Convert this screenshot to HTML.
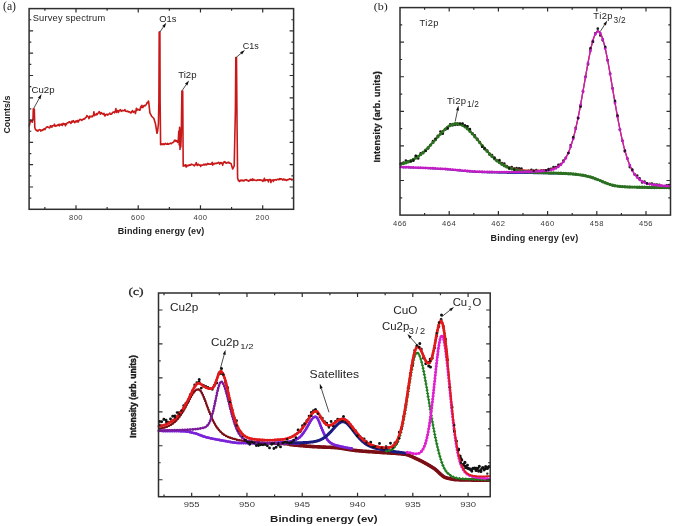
<!DOCTYPE html>
<html><head><meta charset="utf-8"><style>html,body{margin:0;padding:0;background:#fff}svg{display:block;filter:blur(0.35px)}</style></head>
<body><svg width="675" height="526" viewBox="0 0 675 526">
<rect width="675" height="526" fill="#fff"/>
<path d="M29.2,126.3 30.0,122.5 30.7,120.1 31.5,121.5 32.3,122.2 33.0,119.0 33.3,108.7 33.8,112.0 34.3,109.0 34.8,127.5 35.5,129.5 37.4,131.0 37.4,130.3 37.9,131.1 38.4,130.7 38.9,129.9 39.4,129.8 39.9,129.6 40.4,129.9 40.9,131.1 41.4,130.3 41.9,130.5 42.4,129.8 42.9,130.1 43.4,129.7 43.9,128.8 44.4,128.8 44.9,129.6 45.4,128.4 45.9,128.0 46.4,127.3 46.9,126.9 47.4,126.7 47.9,127.3 48.4,127.2 48.9,127.6 49.4,128.0 49.9,127.6 50.4,125.8 50.9,125.9 51.4,126.9 51.9,127.1 52.4,125.9 52.9,125.8 53.4,125.7 53.9,125.5 54.4,124.2 54.9,126.1 55.4,125.6 55.9,126.4 56.4,125.7 56.9,125.3 57.4,125.5 57.9,125.4 58.4,124.4 58.9,124.6 59.4,125.8 59.9,124.4 60.4,124.6 60.9,125.0 61.4,124.0 61.9,125.3 62.4,125.5 62.9,123.6 63.4,123.4 63.9,124.2 64.4,123.8 64.9,123.9 65.4,125.8 65.9,123.7 66.4,124.5 66.9,123.3 67.4,122.8 67.9,122.7 68.4,122.7 68.9,122.0 69.4,121.7 69.9,122.1 70.4,122.9 70.9,123.5 71.4,121.9 71.9,121.1 72.4,122.1 72.9,121.0 73.4,120.7 73.9,121.5 74.4,122.5 74.9,122.6 75.4,121.5 75.9,121.0 76.4,120.9 76.9,122.0 77.4,121.3 77.9,120.4 78.4,122.0 78.9,120.6 79.4,120.2 79.9,119.4 80.4,119.5 80.9,119.5 81.4,120.2 81.9,120.4 82.4,119.5 82.9,119.5 83.4,118.9 83.9,119.2 84.4,118.9 84.9,118.7 85.4,117.5 85.9,117.6 86.4,116.8 86.9,115.5 87.4,116.4 87.9,116.6 88.4,116.9 88.9,118.6 89.4,117.3 89.9,116.0 90.4,116.5 90.9,117.0 91.4,116.5 91.9,116.1 92.4,116.6 92.9,115.8 93.4,115.5 93.9,111.9 94.4,115.6 94.9,114.8 95.4,114.9 95.9,114.5 96.4,113.5 96.9,114.8 97.4,114.0 97.9,113.2 98.4,113.0 98.9,111.9 99.4,111.6 99.9,113.0 100.4,114.1 100.9,113.0 101.4,112.7 101.9,113.4 102.4,113.6 102.9,114.1 103.4,114.5 103.9,113.3 104.4,114.5 104.9,116.0 105.4,115.2 105.9,114.5 106.4,114.5 106.9,114.1 107.4,115.1 107.9,114.9 108.4,114.4 108.9,114.0 109.4,113.6 109.9,113.1 110.4,114.3 110.9,114.2 111.4,114.1 111.9,113.8 112.4,112.6 112.9,112.3 113.4,112.1 113.9,112.2 114.4,112.8 114.9,111.7 115.4,110.8 115.9,108.6 116.4,112.4 116.9,111.9 117.4,110.5 117.9,111.2 118.4,112.4 118.9,110.9 119.4,110.4 119.9,110.6 120.4,109.6 120.9,110.7 121.4,111.3 121.9,110.9 122.4,110.4 122.9,110.8 123.4,110.7 123.9,110.5 124.4,110.0 124.9,109.6 125.4,111.3 125.9,111.3 126.4,111.2 126.9,111.5 127.4,111.2 127.9,111.1 128.4,112.0 128.9,112.0 129.4,111.7 129.9,111.9 130.4,112.8 130.9,112.9 131.4,112.4 131.9,111.5 132.4,110.5 132.9,111.5 133.4,112.3 133.9,111.4 134.4,111.2 134.9,111.4 135.4,113.5 135.9,111.2 136.4,108.2 136.9,110.5 137.4,109.4 137.9,109.3 138.4,109.8 138.9,109.6 139.4,110.2 139.9,110.2 140.4,108.1 140.9,106.4 141.4,107.6 141.9,105.4 142.4,106.9 142.9,107.6 143.4,106.1 143.9,105.8 144.4,105.4 144.9,106.0 145.4,105.4 145.9,105.0 146.4,104.1 146.9,102.8 147.4,102.9 147.9,102.4 148.4,101.1 148.7,102.0 149.9,112.8 151.6,116.2 153.9,118.5 155.5,124.0 157.0,133.3 157.6,131.0 158.4,124.2 158.9,100.3 159.2,32.0 159.9,32.0 160.1,100.0 160.6,143.3 160.6,144.7 161.1,144.1 161.6,143.8 162.1,144.6 162.6,144.4 163.1,143.7 163.6,144.1 164.1,144.6 164.6,144.2 165.1,143.5 165.6,143.4 166.1,144.2 166.6,144.2 167.1,144.0 167.6,143.4 168.1,144.4 168.6,144.1 169.1,144.0 169.6,143.6 170.1,143.4 170.6,143.1 171.1,143.6 171.6,143.6 172.1,142.9 172.6,142.6 173.1,142.4 173.6,142.3 174.1,141.1 174.6,140.2 175.1,140.1 175.6,141.2 176.1,141.3 176.6,140.6 177.1,141.2 177.6,142.3 178.3,140.0 178.8,131.0 179.2,145.0 179.6,127.3 180.0,149.5 180.4,129.0 180.8,147.0 181.3,134.0 181.9,91.0 182.7,91.0 183.2,166.2 183.2,166.1 183.7,165.8 184.2,165.6 184.7,166.0 185.2,164.8 185.7,164.7 186.2,167.1 186.7,165.5 187.2,165.8 187.7,166.0 188.2,165.1 188.7,165.2 189.2,165.4 189.7,164.9 190.2,165.3 190.7,165.0 191.2,164.2 191.7,164.5 192.2,164.5 192.7,164.5 193.2,165.1 193.7,165.3 194.2,165.8 194.7,165.4 195.2,164.4 195.7,164.4 196.2,162.6 196.7,164.3 197.2,165.5 197.7,164.9 198.2,164.1 198.7,164.7 199.2,165.1 199.7,165.0 200.2,165.0 200.7,166.4 201.2,165.0 201.7,165.3 202.2,165.2 202.7,165.0 203.2,165.0 203.7,164.2 204.2,164.2 204.7,165.0 205.2,164.6 205.7,164.1 206.2,164.8 206.7,164.9 207.2,164.0 207.7,163.4 208.2,163.8 208.7,164.2 209.2,164.0 209.7,164.1 210.2,164.0 210.7,164.3 211.2,164.0 211.7,163.9 212.2,162.3 212.7,165.2 213.2,164.2 213.7,163.5 214.2,163.4 214.7,163.9 215.2,163.5 215.7,163.3 216.2,163.6 216.7,163.3 217.2,163.0 217.7,163.1 218.2,162.6 218.7,162.4 219.2,162.9 219.7,164.1 220.2,163.3 220.7,162.5 221.2,162.6 221.7,163.3 222.2,163.5 222.7,165.2 223.2,162.6 223.7,162.9 224.2,161.7 224.7,162.2 225.2,161.9 225.7,163.0 226.2,163.1 226.7,163.1 227.2,162.6 227.7,162.7 228.2,162.4 228.7,162.1 229.2,163.2 229.7,163.1 231.0,163.5 232.7,168.9 234.2,166.0 235.4,110.0 235.8,57.6 236.5,57.6 237.0,120.0 237.6,178.0 238.4,180.6 238.4,180.1 238.9,180.3 239.4,181.4 239.9,181.5 240.4,180.5 240.9,180.0 241.4,180.2 241.9,180.8 242.4,180.5 242.9,180.1 243.4,180.7 243.9,181.0 244.4,180.6 244.9,180.0 245.4,179.7 245.9,179.9 246.4,179.6 246.9,180.2 247.4,180.4 247.9,180.5 248.4,181.2 248.9,181.2 249.4,180.3 249.9,180.4 250.4,179.4 250.9,180.4 251.4,179.9 251.9,180.1 252.4,178.9 252.9,180.5 253.4,179.9 253.9,179.4 254.4,180.0 254.9,180.2 255.4,180.3 255.9,180.4 256.4,180.3 256.9,180.6 257.4,179.8 257.9,179.8 258.4,180.0 258.9,180.1 259.4,180.3 259.9,179.9 260.4,179.8 260.9,180.3 261.4,180.5 261.9,180.0 262.4,180.7 262.9,181.4 263.4,180.1 263.9,179.9 264.4,178.3 264.9,180.9 265.4,180.3 265.9,180.0 266.4,179.8 266.9,180.1 267.4,179.8 267.9,180.1 268.4,181.9 268.9,179.7 269.4,179.5 269.9,179.7 270.4,179.6 270.9,182.5 271.4,180.2 271.9,180.3 272.4,180.1 272.9,180.1 273.4,181.4 273.9,179.8 274.4,179.7 274.9,180.0 275.4,179.6 275.9,180.0 276.4,180.1 276.9,179.5 277.4,179.4 277.9,179.4 278.4,179.6 278.9,179.5 279.4,178.6 279.9,179.6 280.4,178.7 280.9,178.9 281.4,178.8 281.9,179.1 282.4,179.9 282.9,180.0 283.4,179.2 283.9,179.0 284.4,179.9 284.9,180.0 285.4,179.5 285.9,179.8 286.4,180.5 286.9,180.4 287.4,179.7 287.9,179.5 288.4,179.7 288.9,179.3 289.4,178.8 289.9,179.1 290.4,179.0 290.9,179.0 291.4,179.3 291.9,180.1 292.4,179.5 292.9,179.0" fill="none" stroke="#c81818" stroke-width="1.6" stroke-linejoin="round"/>
<rect x="29.1" y="8.6" width="264.5" height="200.70000000000002" fill="none" stroke="#2e2e2e" stroke-width="1.5"/>
<path d="M262.70,209.3 v-4.00 M262.70,8.6 v4.00 M231.59,209.3 v-2.20 M231.59,8.6 v2.20 M200.47,209.3 v-4.00 M200.47,8.6 v4.00 M169.35,209.3 v-2.20 M169.35,8.6 v2.20 M138.23,209.3 v-4.00 M138.23,8.6 v4.00 M107.12,209.3 v-2.20 M107.12,8.6 v2.20 M76.00,209.3 v-4.00 M76.00,8.6 v4.00 M44.88,209.3 v-2.20 M44.88,8.6 v2.20 M29.1,19.75 h2.20 M293.6,19.75 h-2.20 M29.1,30.90 h4.00 M293.6,30.90 h-4.00 M29.1,42.05 h2.20 M293.6,42.05 h-2.20 M29.1,53.20 h4.00 M293.6,53.20 h-4.00 M29.1,64.35 h2.20 M293.6,64.35 h-2.20 M29.1,75.50 h4.00 M293.6,75.50 h-4.00 M29.1,86.65 h2.20 M293.6,86.65 h-2.20 M29.1,97.80 h4.00 M293.6,97.80 h-4.00 M29.1,108.95 h2.20 M293.6,108.95 h-2.20 M29.1,120.10 h4.00 M293.6,120.10 h-4.00 M29.1,131.25 h2.20 M293.6,131.25 h-2.20 M29.1,142.40 h4.00 M293.6,142.40 h-4.00 M29.1,153.55 h2.20 M293.6,153.55 h-2.20 M29.1,164.70 h4.00 M293.6,164.70 h-4.00 M29.1,175.85 h2.20 M293.6,175.85 h-2.20 M29.1,187.00 h4.00 M293.6,187.00 h-4.00 M29.1,198.15 h2.20 M293.6,198.15 h-2.20" stroke="#2e2e2e" stroke-width="1.2" fill="none"/>
<text x="76.0" y="219.5" font-family="Liberation Sans, sans-serif" font-size="7.6" font-weight="normal" text-anchor="middle" fill="#3a3a3a" letter-spacing="0.5">800</text>
<text x="138.2" y="219.5" font-family="Liberation Sans, sans-serif" font-size="7.6" font-weight="normal" text-anchor="middle" fill="#3a3a3a" letter-spacing="0.5">600</text>
<text x="200.5" y="219.5" font-family="Liberation Sans, sans-serif" font-size="7.6" font-weight="normal" text-anchor="middle" fill="#3a3a3a" letter-spacing="0.5">400</text>
<text x="262.7" y="219.5" font-family="Liberation Sans, sans-serif" font-size="7.6" font-weight="normal" text-anchor="middle" fill="#3a3a3a" letter-spacing="0.5">200</text>
<text x="3.0" y="9.8" font-family="Liberation Serif, sans-serif" font-size="11.7" font-weight="normal" text-anchor="start" fill="#1e1e1e">(a)</text>
<text x="32.7" y="20.7" font-family="Liberation Sans, sans-serif" font-size="9.3" font-weight="normal" text-anchor="start" fill="#1e1e1e" letter-spacing="0.2">Survey spectrum</text>
<text x="31.6" y="92.5" font-family="Liberation Sans, sans-serif" font-size="9.6" font-weight="normal" text-anchor="start" fill="#1e1e1e">Cu2p</text>
<text x="159.2" y="21.6" font-family="Liberation Sans, sans-serif" font-size="9.4" font-weight="normal" text-anchor="start" fill="#1e1e1e">O1s</text>
<text x="178.2" y="78.2" font-family="Liberation Sans, sans-serif" font-size="9.6" font-weight="normal" text-anchor="start" fill="#1e1e1e">Ti2p</text>
<text x="242.8" y="48.9" font-family="Liberation Sans, sans-serif" font-size="9.0" font-weight="normal" text-anchor="start" fill="#1e1e1e">C1s</text>
<path d="M33.80,108.20 L39.18,98.48" stroke="#111" stroke-width="0.75" fill="none"/>
<path d="M41.60,94.10 L40.49,99.20 L37.87,97.75 Z" fill="#111"/>
<path d="M159.90,32.00 L163.44,26.90" stroke="#111" stroke-width="0.75" fill="none"/>
<path d="M166.30,22.80 L164.68,27.76 L162.21,26.05 Z" fill="#111"/>
<path d="M182.20,90.50 L186.19,84.63" stroke="#111" stroke-width="0.75" fill="none"/>
<path d="M189.00,80.50 L187.43,85.48 L184.95,83.79 Z" fill="#111"/>
<path d="M236.40,57.20 L241.06,53.31" stroke="#111" stroke-width="0.75" fill="none"/>
<path d="M244.90,50.10 L242.02,54.46 L240.10,52.15 Z" fill="#111"/>
<text x="0" y="0" transform="translate(10.4 114.6) rotate(-90)" font-family="Liberation Sans, sans-serif" font-size="8.9" font-weight="bold" text-anchor="middle" fill="#1e1e1e">Counts/s</text>
<text x="161.1" y="234.0" font-family="Liberation Sans, sans-serif" font-size="9.0" font-weight="bold" text-anchor="middle" fill="#1e1e1e" letter-spacing="0.15">Binding energy (ev)</text>
<path d="M401.0,164.1h0M403.5,162.7h0M405.9,160.5h0M408.4,161.3h0M410.8,161.2h0M413.3,160.7h0M415.8,155.9h0M418.2,158.5h0M420.7,153.3h0M423.1,153.1h0M425.6,151.0h0M428.1,148.4h0M430.5,145.0h0M433.0,141.1h0M435.4,139.9h0M437.9,135.8h0M440.4,131.5h0M442.8,133.7h0M445.3,129.4h0M447.7,128.4h0M450.2,124.3h0M452.7,125.3h0M455.1,124.8h0M457.6,124.7h0M460.0,123.8h0M462.5,123.8h0M465.0,126.2h0M467.4,126.4h0M469.9,129.2h0M472.3,133.4h0M474.8,135.3h0M477.3,138.9h0M479.7,142.0h0M482.2,146.7h0M484.6,149.1h0M487.1,150.6h0M489.6,154.4h0M492.0,155.0h0M494.5,157.7h0M496.9,160.8h0M499.4,160.7h0M501.9,163.2h0M504.3,163.6h0M506.8,166.1h0M509.2,168.4h0M511.7,167.1h0M514.2,168.7h0M516.6,168.2h0M519.1,168.4h0M521.5,168.7h0M524.0,171.4h0M526.5,172.4h0M528.9,170.8h0M531.4,169.8h0M533.8,171.1h0M536.3,170.2h0M538.8,171.1h0M541.2,170.6h0M543.7,170.4h0M546.1,170.5h0M548.6,169.1h0M551.1,168.8h0M553.5,167.0h0M556.0,167.2h0M558.4,164.9h0M560.9,164.1h0M563.4,160.6h0M565.8,157.8h0M568.3,153.1h0M570.7,145.0h0M573.2,137.5h0M575.7,127.8h0M578.1,118.0h0M580.6,106.2h0M583.0,91.7h0M585.5,76.5h0M588.0,64.4h0M590.4,49.3h0M592.9,41.9h0M595.3,33.3h0M597.8,28.7h0M600.3,35.4h0M602.7,40.3h0M605.2,47.3h0M607.6,60.2h0M610.1,73.6h0M612.6,88.4h0M615.0,101.4h0M617.5,115.9h0M619.9,129.7h0M622.4,140.8h0M624.9,151.4h0M627.3,158.5h0M629.8,167.1h0M632.2,169.6h0M634.7,174.5h0M637.2,175.5h0M639.6,178.4h0M642.1,182.4h0M644.5,181.6h0M647.0,183.8h0M649.5,183.9h0M651.9,183.5h0M654.4,184.5h0M656.8,184.6h0M659.3,184.9h0M661.8,186.2h0M664.2,186.3h0M666.7,185.4h0M669.1,185.2h0" stroke="#111" stroke-width="2.70" stroke-linecap="round" fill="none" opacity="0.95"/>
<path d="M400.5,163.9 400.8,163.8 401.0,163.8 401.2,163.7 401.5,163.7 401.8,163.6 402.0,163.5 402.2,163.5 402.5,163.4 402.8,163.4 403.0,163.3 403.2,163.2 403.5,163.2 403.8,163.1 404.0,163.0 404.2,163.0 404.5,162.9 404.8,162.8 405.0,162.7 405.2,162.7 405.5,162.6 405.8,162.5 406.0,162.4 406.2,162.3 406.5,162.2 406.8,162.2 407.0,162.1 407.2,162.0 407.5,161.9 407.8,161.8 408.0,161.7 408.2,161.6 408.5,161.5 408.8,161.4 409.0,161.3 409.2,161.2 409.5,161.1 409.8,161.0 410.0,160.9 410.2,160.8 410.5,160.7 410.8,160.5 411.0,160.4 411.2,160.3 411.5,160.2 411.8,160.1 412.0,159.9 412.2,159.8 412.5,159.7 412.8,159.6 413.0,159.4 413.2,159.3 413.5,159.2 413.8,159.0 414.0,158.9 414.2,158.7 414.5,158.6 414.8,158.4 415.0,158.3 415.2,158.1 415.5,158.0 415.8,157.8 416.0,157.7 416.2,157.5 416.5,157.3 416.8,157.2 417.0,157.0 417.2,156.8 417.5,156.7 417.8,156.5 418.0,156.3 418.2,156.2 418.5,156.0 418.8,155.8 419.0,155.6 419.2,155.4 419.5,155.2 419.8,155.0 420.0,154.8 420.2,154.6 420.5,154.4 420.8,154.2 421.0,154.0 421.2,153.8 421.5,153.6 421.8,153.4 422.0,153.2 422.2,153.0 422.5,152.8 422.8,152.6 423.0,152.3 423.2,152.1 423.5,151.9 423.8,151.7 424.0,151.4 424.2,151.2 424.5,151.0 424.8,150.7 425.0,150.5 425.2,150.3 425.5,150.0 425.8,149.8 426.0,149.5 426.2,149.3 426.5,149.1 426.8,148.8 427.0,148.6 427.2,148.3 427.5,148.0 427.8,147.8 428.0,147.5 428.2,147.3 428.5,147.0 428.8,146.7 429.0,146.5 429.2,146.2 429.5,145.9 429.8,145.7 430.0,145.4 430.2,145.1 430.5,144.9 430.8,144.6 431.0,144.3 431.2,144.0 431.5,143.8 431.8,143.5 432.0,143.2 432.2,142.9 432.5,142.6 432.8,142.4 433.0,142.1 433.2,141.8 433.5,141.5 433.8,141.2 434.0,140.9 434.2,140.7 434.5,140.4 434.8,140.1 435.0,139.8 435.2,139.5 435.5,139.2 435.8,138.9 436.0,138.7 436.2,138.4 436.5,138.1 436.8,137.8 437.0,137.5 437.2,137.2 437.5,136.9 437.8,136.7 438.0,136.4 438.2,136.1 438.5,135.8 438.8,135.5 439.0,135.2 439.2,135.0 439.5,134.7 439.8,134.4 440.0,134.1 440.2,133.9 440.5,133.6 440.8,133.3 441.0,133.0 441.2,132.8 441.5,132.5 441.8,132.2 442.0,132.0 442.2,131.7 442.5,131.5 442.8,131.2 443.0,131.0 443.2,130.7 443.5,130.5 443.8,130.2 444.0,130.0 444.2,129.7 444.5,129.5 444.8,129.3 445.0,129.0 445.2,128.8 445.5,128.6 445.8,128.4 446.0,128.2 446.2,127.9 446.5,127.7 446.8,127.5 447.0,127.3 447.2,127.1 447.5,126.9 447.8,126.8 448.0,126.6 448.2,126.4 448.5,126.2 448.8,126.0 449.0,125.9 449.2,125.7 449.5,125.6 449.8,125.4 450.0,125.3 450.2,125.1 450.5,125.0 450.8,124.8 451.0,124.7 451.2,124.6 451.5,124.5 451.8,124.4 452.0,124.2 452.2,124.1 452.5,124.0 452.8,123.9 453.0,123.9 453.2,123.8 453.5,123.7 453.8,123.6 454.0,123.6 454.2,123.5 454.5,123.5 454.8,123.4 455.0,123.4 455.2,123.3 455.5,123.3 455.8,123.3 456.0,123.3 456.2,123.3 456.5,123.3 456.8,123.3 457.0,123.3 457.2,123.3 457.5,123.3 457.8,123.3 458.0,123.3 458.2,123.4 458.5,123.4 458.8,123.5 459.0,123.5 459.2,123.6 459.5,123.6 459.8,123.7 460.0,123.8 460.2,123.9 460.5,124.0 460.8,124.0 461.0,124.1 461.2,124.2 461.5,124.4 461.8,124.5 462.0,124.6 462.2,124.7 462.5,124.8 462.8,125.0 463.0,125.1 463.2,125.3 463.5,125.4 463.8,125.6 464.0,125.7 464.2,125.9 464.5,126.1 464.8,126.2 465.0,126.4 465.2,126.6 465.5,126.8 465.8,127.0 466.0,127.2 466.2,127.4 466.5,127.6 466.8,127.8 467.0,128.0 467.2,128.2 467.5,128.4 467.8,128.7 468.0,128.9 468.2,129.1 468.5,129.3 468.8,129.6 469.0,129.8 469.2,130.1 469.5,130.3 469.8,130.6 470.0,130.8 470.2,131.1 470.5,131.3 470.8,131.6 471.0,131.9 471.2,132.1 471.5,132.4 471.8,132.7 472.0,132.9 472.2,133.2 472.5,133.5 472.8,133.8 473.0,134.1 473.2,134.3 473.5,134.6 473.8,134.9 474.0,135.2 474.2,135.5 474.5,135.8 474.8,136.1 475.0,136.4 475.2,136.7 475.5,137.0 475.8,137.3 476.0,137.6 476.2,137.9 476.5,138.2 476.8,138.5 477.0,138.8 477.2,139.1 477.5,139.4 477.8,139.7 478.0,140.0 478.2,140.3 478.5,140.6 478.8,140.9 479.0,141.2 479.2,141.5 479.5,141.8 479.8,142.1 480.0,142.4 480.2,142.7 480.5,143.0 480.8,143.3 481.0,143.6 481.2,143.9 481.5,144.2 481.8,144.5 482.0,144.8 482.2,145.1 482.5,145.4 482.8,145.7 483.0,146.0 483.2,146.3 483.5,146.6 483.8,146.9 484.0,147.2 484.2,147.4 484.5,147.7 484.8,148.0 485.0,148.3 485.2,148.6 485.5,148.9 485.8,149.2 486.0,149.5 486.2,149.7 486.5,150.0 486.8,150.3 487.0,150.6 487.2,150.8 487.5,151.1 487.8,151.4 488.0,151.7 488.2,151.9 488.5,152.2 488.8,152.5 489.0,152.7 489.2,153.0 489.5,153.2 489.8,153.5 490.0,153.8 490.2,154.0 490.5,154.3 490.8,154.5 491.0,154.8 491.2,155.0 491.5,155.2 491.8,155.5 492.0,155.7 492.2,156.0 492.5,156.2 492.8,156.4 493.0,156.7 493.2,156.9 493.5,157.1 493.8,157.3 494.0,157.6 494.2,157.8 494.5,158.0 494.8,158.2 495.0,158.4 495.2,158.6 495.5,158.9 495.8,159.1 496.0,159.3 496.2,159.5 496.5,159.7 496.8,159.9 497.0,160.1 497.2,160.3 497.5,160.4 497.8,160.6 498.0,160.8 498.2,161.0 498.5,161.2 498.8,161.4 499.0,161.5 499.2,161.7 499.5,161.9 499.8,162.1 500.0,162.2 500.2,162.4 500.5,162.6 500.8,162.7 501.0,162.9 501.2,163.0 501.5,163.2 501.8,163.3 502.0,163.5 502.2,163.6 502.5,163.8 502.8,163.9 503.0,164.1 503.2,164.2 503.5,164.4 503.8,164.5 504.0,164.6 504.2,164.8 504.5,164.9 504.8,165.0 505.0,165.1 505.2,165.3 505.5,165.4 505.8,165.5 506.0,165.6 506.2,165.7 506.5,165.8 506.8,166.0 507.0,166.1 507.2,166.2 507.5,166.3 507.8,166.4 508.0,166.5 508.2,166.6 508.5,166.7 508.8,166.8 509.0,166.9 509.2,167.0 509.5,167.1 509.8,167.1 510.0,167.2 510.2,167.3 510.5,167.4 510.8,167.5 511.0,167.6 511.2,167.7 511.5,167.7 511.8,167.8 512.0,167.9 512.2,168.0 512.5,168.0 512.8,168.1 513.0,168.2 513.2,168.2 513.5,168.3 513.8,168.4 514.0,168.4 514.2,168.5 514.5,168.6 514.8,168.6 515.0,168.7 515.2,168.7 515.5,168.8 515.8,168.8 516.0,168.9 516.2,168.9 516.5,169.0 516.8,169.0 517.0,169.1 517.2,169.1 517.5,169.2 517.8,169.2 518.0,169.3 518.2,169.3 518.5,169.4 518.8,169.4 519.0,169.4 519.2,169.5 519.5,169.5 519.8,169.6 520.0,169.6 520.2,169.6 520.5,169.7 520.8,169.7 521.0,169.7 521.2,169.8 521.5,169.8 521.8,169.8 522.0,169.8 522.2,169.9 522.5,169.9 522.8,169.9 523.0,170.0 523.2,170.0 523.5,170.0 523.8,170.0 524.0,170.0 524.2,170.1 524.5,170.1 524.8,170.1 525.0,170.1 525.2,170.1 525.5,170.2 525.8,170.2 526.0,170.2 526.2,170.2 526.5,170.2 526.8,170.2 527.0,170.3 527.2,170.3 527.5,170.3 527.8,170.3 528.0,170.3 528.2,170.3 528.5,170.3 528.8,170.3 529.0,170.4 529.2,170.4 529.5,170.4 529.8,170.4 530.0,170.4 530.2,170.4 530.5,170.4 530.8,170.4 531.0,170.4 531.2,170.4 531.5,170.4 531.8,170.4 532.0,170.4 532.2,170.4 532.5,170.5 532.8,170.5 533.0,170.5 533.2,170.5 533.5,170.5 533.8,170.5 534.0,170.5 534.2,170.5 534.5,170.5 534.8,170.5 535.0,170.5 535.2,170.5 535.5,170.5 535.8,170.5 536.0,170.5 536.2,170.5 536.5,170.5 536.8,170.5 537.0,170.4 537.2,170.4 537.5,170.4 537.8,170.4 538.0,170.4 538.2,170.4 538.5,170.4 538.8,170.4 539.0,170.4 539.2,170.4 539.5,170.4 539.8,170.4 540.0,170.4 540.2,170.4 540.5,170.4 540.8,170.3 541.0,170.3 541.2,170.3 541.5,170.3 541.8,170.3 542.0,170.3 542.2,170.3 542.5,170.3 542.8,170.2 543.0,170.2 543.2,170.2 543.5,170.2 543.8,170.2 544.0,170.2 544.2,170.1 544.5,170.1 544.8,170.1 545.0,170.1 545.2,170.1 545.5,170.0 545.8,170.0 546.0,170.0 546.2,170.0 546.5,169.9 546.8,169.9 547.0,169.9 547.2,169.8 547.5,169.8 547.8,169.8 548.0,169.7 548.2,169.7 548.5,169.7 548.8,169.6 549.0,169.6 549.2,169.6 549.5,169.5 549.8,169.5 550.0,169.4 550.2,169.4 550.5,169.3 550.8,169.3 551.0,169.2 551.2,169.2 551.5,169.1 551.8,169.0 552.0,169.0 552.2,168.9 552.5,168.8 552.8,168.8 553.0,168.7 553.2,168.6 553.5,168.5 553.8,168.5 554.0,168.4 554.2,168.3 554.5,168.2 554.8,168.1 555.0,168.0 555.2,167.9 555.5,167.8 555.8,167.7 556.0,167.6 556.2,167.4 556.5,167.3 556.8,167.2 557.0,167.1 557.2,166.9 557.5,166.8 557.8,166.6 558.0,166.5 558.2,166.3 558.5,166.1 558.8,166.0 559.0,165.8 559.2,165.6 559.5,165.4 559.8,165.2 560.0,165.0 560.2,164.8 560.5,164.6 560.8,164.3 561.0,164.1 561.2,163.9 561.5,163.6 561.8,163.3 562.0,163.1 562.2,162.8 562.5,162.5 562.8,162.2 563.0,161.9 563.2,161.6 563.5,161.2 563.8,160.9 564.0,160.6 564.2,160.2 564.5,159.8 564.8,159.4 565.0,159.0 565.2,158.6 565.5,158.2 565.8,157.8 566.0,157.4 566.2,156.9 566.5,156.4 566.8,155.9 567.0,155.4 567.2,154.9 567.5,154.4 567.8,153.9 568.0,153.3 568.2,152.8 568.5,152.2 568.8,151.6 569.0,151.0 569.2,150.3 569.5,149.7 569.8,149.0 570.0,148.3 570.2,147.7 570.5,146.9 570.8,146.2 571.0,145.5 571.2,144.7 571.5,144.0 571.8,143.2 572.0,142.4 572.2,141.5 572.5,140.7 572.8,139.8 573.0,139.0 573.2,138.1 573.5,137.2 573.8,136.2 574.0,135.3 574.2,134.3 574.5,133.4 574.8,132.4 575.0,131.4 575.2,130.3 575.5,129.3 575.8,128.2 576.0,127.1 576.2,126.0 576.5,124.9 576.8,123.8 577.0,122.7 577.2,121.5 577.5,120.3 577.8,119.1 578.0,117.9 578.2,116.7 578.5,115.5 578.8,114.2 579.0,113.0 579.2,111.7 579.5,110.4 579.8,109.1 580.0,107.8 580.2,106.4 580.5,105.1 580.8,103.7 581.0,102.4 581.2,101.0 581.5,99.6 581.8,98.2 582.0,96.8 582.2,95.4 582.5,94.0 582.8,92.6 583.0,91.2 583.2,89.7 583.5,88.3 583.8,86.9 584.0,85.4 584.2,84.0 584.5,82.6 584.8,81.1 585.0,79.7 585.2,78.3 585.5,76.8 585.8,75.4 586.0,74.0 586.2,72.6 586.5,71.1 586.8,69.7 587.0,68.4 587.2,67.0 587.5,65.6 587.8,64.2 588.0,62.9 588.2,61.5 588.5,60.2 588.8,58.9 589.0,57.6 589.2,56.4 589.5,55.1 589.8,53.9 590.0,52.7 590.2,51.5 590.5,50.3 590.8,49.1 591.0,48.0 591.2,46.9 591.5,45.9 591.8,44.8 592.0,43.8 592.2,42.9 592.5,41.9 592.8,41.0 593.0,40.2 593.2,39.3 593.5,38.5 593.8,37.8 594.0,37.0 594.2,36.4 594.5,35.7 594.8,35.1 595.0,34.5 595.2,34.0 595.5,33.6 595.8,33.1 596.0,32.7 596.2,32.4 596.5,32.1 596.8,31.8 597.0,31.6 597.2,31.4 597.5,31.3 597.8,31.2 598.0,31.2 598.2,31.2 598.5,31.3 598.8,31.4 599.0,31.6 599.2,31.8 599.5,32.0 599.8,32.3 600.0,32.6 600.2,33.0 600.5,33.4 600.8,33.9 601.0,34.4 601.2,34.9 601.5,35.5 601.8,36.1 602.0,36.8 602.2,37.5 602.5,38.2 602.8,39.0 603.0,39.8 603.2,40.6 603.5,41.5 603.8,42.4 604.0,43.4 604.2,44.3 604.5,45.3 604.8,46.4 605.0,47.4 605.2,48.5 605.5,49.6 605.8,50.7 606.0,51.9 606.2,53.1 606.5,54.3 606.8,55.5 607.0,56.8 607.2,58.1 607.5,59.4 607.8,60.7 608.0,62.0 608.2,63.4 608.5,64.7 608.8,66.1 609.0,67.5 609.2,68.9 609.5,70.3 609.8,71.8 610.0,73.2 610.2,74.7 610.5,76.1 610.8,77.6 611.0,79.1 611.2,80.5 611.5,82.0 611.8,83.5 612.0,85.0 612.2,86.5 612.5,88.0 612.8,89.4 613.0,90.9 613.2,92.4 613.5,93.9 613.8,95.3 614.0,96.8 614.2,98.3 614.5,99.7 614.8,101.2 615.0,102.6 615.2,104.0 615.5,105.5 615.8,106.9 616.0,108.3 616.2,109.7 616.5,111.1 616.8,112.5 617.0,113.9 617.2,115.3 617.5,116.6 617.8,118.0 618.0,119.3 618.2,120.6 618.5,121.9 618.8,123.2 619.0,124.5 619.2,125.8 619.5,127.1 619.8,128.3 620.0,129.5 620.2,130.7 620.5,131.9 620.8,133.1 621.0,134.3 621.2,135.5 621.5,136.6 621.8,137.7 622.0,138.8 622.2,139.9 622.5,141.0 622.8,142.0 623.0,143.1 623.2,144.1 623.5,145.1 623.8,146.1 624.0,147.1 624.2,148.0 624.5,149.0 624.8,149.9 625.0,150.8 625.2,151.7 625.5,152.5 625.8,153.4 626.0,154.2 626.2,155.1 626.5,155.9 626.8,156.7 627.0,157.4 627.2,158.2 627.5,158.9 627.8,159.6 628.0,160.4 628.2,161.1 628.5,161.7 628.8,162.4 629.0,163.0 629.2,163.7 629.5,164.3 629.8,164.9 630.0,165.5 630.2,166.1 630.5,166.6 630.8,167.2 631.0,167.7 631.2,168.3 631.5,168.8 631.8,169.3 632.0,169.7 632.2,170.2 632.5,170.7 632.8,171.1 633.0,171.6 633.2,172.0 633.5,172.4 633.8,172.8 634.0,173.2 634.2,173.6 634.5,173.9 634.8,174.3 635.0,174.6 635.2,175.0 635.5,175.3 635.8,175.6 636.0,175.9 636.2,176.2 636.5,176.5 636.8,176.8 637.0,177.1 637.2,177.4 637.5,177.6 637.8,177.9 638.0,178.1 638.2,178.4 638.5,178.6 638.8,178.8 639.0,179.0 639.2,179.2 639.5,179.4 639.8,179.6 640.0,179.8 640.2,180.0 640.5,180.2 640.8,180.4 641.0,180.5 641.2,180.7 641.5,180.8 641.8,181.0 642.0,181.1 642.2,181.3 642.5,181.4 642.8,181.6 643.0,181.7 643.2,181.8 643.5,181.9 643.8,182.1 644.0,182.2 644.2,182.3 644.5,182.4 644.8,182.5 645.0,182.6 645.2,182.7 645.5,182.8 645.8,182.9 646.0,183.0 646.2,183.0 646.5,183.1 646.8,183.2 647.0,183.3 647.2,183.4 647.5,183.4 647.8,183.5 648.0,183.6 648.2,183.6 648.5,183.7 648.8,183.8 649.0,183.8 649.2,183.9 649.5,183.9 649.8,184.0 650.0,184.1 650.2,184.1 650.5,184.2 650.8,184.2 651.0,184.3 651.2,184.3 651.5,184.3 651.8,184.4 652.0,184.4 652.2,184.5 652.5,184.5 652.8,184.6 653.0,184.6 653.2,184.6 653.5,184.7 653.8,184.7 654.0,184.7 654.2,184.8 654.5,184.8 654.8,184.8 655.0,184.9 655.2,184.9 655.5,184.9 655.8,185.0 656.0,185.0 656.2,185.0 656.5,185.1 656.8,185.1 657.0,185.1 657.2,185.1 657.5,185.2 657.8,185.2 658.0,185.2 658.2,185.2 658.5,185.3 658.8,185.3 659.0,185.3 659.2,185.3 659.5,185.4 659.8,185.4 660.0,185.4 660.2,185.4 660.5,185.4 660.8,185.5 661.0,185.5 661.2,185.5 661.5,185.5 661.8,185.5 662.0,185.6 662.2,185.6 662.5,185.6 662.8,185.6 663.0,185.6 663.2,185.7 663.5,185.7 663.8,185.7 664.0,185.7 664.2,185.7 664.5,185.7 664.8,185.8 665.0,185.8 665.2,185.8 665.5,185.8 665.8,185.8 666.0,185.8 666.2,185.9 666.5,185.9 666.8,185.9 667.0,185.9 667.2,185.9 667.5,185.9 667.8,185.9 668.0,186.0 668.2,186.0 668.5,186.0 668.8,186.0 669.0,186.0 669.2,186.0 669.5,186.0 669.8,186.0" fill="none" stroke="#d02020" stroke-width="1.4" stroke-linejoin="round" stroke-linecap="round" opacity="1.0"/>
<path d="M400.5,167.3 400.8,167.3 401.0,167.3 401.2,167.3 401.5,167.3 401.8,167.3 402.0,167.3 402.2,167.4 402.5,167.4 402.8,167.4 403.0,167.4 403.2,167.4 403.5,167.4 403.8,167.4 404.0,167.4 404.2,167.4 404.5,167.4 404.8,167.4 405.0,167.4 405.2,167.4 405.5,167.4 405.8,167.5 406.0,167.5 406.2,167.5 406.5,167.5 406.8,167.5 407.0,167.5 407.2,167.5 407.5,167.5 407.8,167.5 408.0,167.5 408.2,167.5 408.5,167.5 408.8,167.5 409.0,167.6 409.2,167.6 409.5,167.6 409.8,167.6 410.0,167.6 410.2,167.6 410.5,167.6 410.8,167.6 411.0,167.6 411.2,167.6 411.5,167.6 411.8,167.6 412.0,167.7 412.2,167.7 412.5,167.7 412.8,167.7 413.0,167.7 413.2,167.7 413.5,167.7 413.8,167.7 414.0,167.7 414.2,167.7 414.5,167.8 414.8,167.8 415.0,167.8 415.2,167.8 415.5,167.8 415.8,167.8 416.0,167.8 416.2,167.8 416.5,167.8 416.8,167.8 417.0,167.9 417.2,167.9 417.5,167.9 417.8,167.9 418.0,167.9 418.2,167.9 418.5,167.9 418.8,167.9 419.0,167.9 419.2,167.9 419.5,168.0 419.8,168.0 420.0,168.0 420.2,168.0 420.5,168.0 420.8,168.0 421.0,168.0 421.2,168.0 421.5,168.0 421.8,168.1 422.0,168.1 422.2,168.1 422.5,168.1 422.8,168.1 423.0,168.1 423.2,168.1 423.5,168.1 423.8,168.2 424.0,168.2 424.2,168.2 424.5,168.2 424.8,168.2 425.0,168.2 425.2,168.2 425.5,168.2 425.8,168.2 426.0,168.3 426.2,168.3 426.5,168.3 426.8,168.3 427.0,168.3 427.2,168.3 427.5,168.3 427.8,168.3 428.0,168.4 428.2,168.4 428.5,168.4 428.8,168.4 429.0,168.4 429.2,168.4 429.5,168.4 429.8,168.4 430.0,168.5 430.2,168.5 430.5,168.5 430.8,168.5 431.0,168.5 431.2,168.5 431.5,168.5 431.8,168.6 432.0,168.6 432.2,168.6 432.5,168.6 432.8,168.6 433.0,168.6 433.2,168.6 433.5,168.6 433.8,168.7 434.0,168.7 434.2,168.7 434.5,168.7 434.8,168.7 435.0,168.7 435.2,168.7 435.5,168.8 435.8,168.8 436.0,168.8 436.2,168.8 436.5,168.8 436.8,168.8 437.0,168.8 437.2,168.8 437.5,168.9 437.8,168.9 438.0,168.9 438.2,168.9 438.5,168.9 438.8,168.9 439.0,168.9 439.2,169.0 439.5,169.0 439.8,169.0 440.0,169.0 440.2,169.0 440.5,169.0 440.8,169.0 441.0,169.1 441.2,169.1 441.5,169.1 441.8,169.1 442.0,169.1 442.2,169.1 442.5,169.2 442.8,169.2 443.0,169.2 443.2,169.2 443.5,169.2 443.8,169.2 444.0,169.3 444.2,169.3 444.5,169.3 444.8,169.3 445.0,169.3 445.2,169.4 445.5,169.4 445.8,169.4 446.0,169.4 446.2,169.4 446.5,169.5 446.8,169.5 447.0,169.5 447.2,169.5 447.5,169.5 447.8,169.6 448.0,169.6 448.2,169.6 448.5,169.6 448.8,169.6 449.0,169.7 449.2,169.7 449.5,169.7 449.8,169.7 450.0,169.8 450.2,169.8 450.5,169.8 450.8,169.8 451.0,169.8 451.2,169.9 451.5,169.9 451.8,169.9 452.0,169.9 452.2,170.0 452.5,170.0 452.8,170.0 453.0,170.0 453.2,170.1 453.5,170.1 453.8,170.1 454.0,170.1 454.2,170.2 454.5,170.2 454.8,170.2 455.0,170.2 455.2,170.3 455.5,170.3 455.8,170.3 456.0,170.3 456.2,170.4 456.5,170.4 456.8,170.4 457.0,170.4 457.2,170.5 457.5,170.5 457.8,170.5 458.0,170.5 458.2,170.6 458.5,170.6 458.8,170.6 459.0,170.6 459.2,170.7 459.5,170.7 459.8,170.7 460.0,170.7 460.2,170.8 460.5,170.8 460.8,170.8 461.0,170.8 461.2,170.9 461.5,170.9 461.8,170.9 462.0,170.9 462.2,171.0 462.5,171.0 462.8,171.0 463.0,171.0 463.2,171.1 463.5,171.1 463.8,171.1 464.0,171.1 464.2,171.2 464.5,171.2 464.8,171.2 465.0,171.2 465.2,171.2 465.5,171.3 465.8,171.3 466.0,171.3 466.2,171.3 466.5,171.4 466.8,171.4 467.0,171.4 467.2,171.4 467.5,171.5 467.8,171.5 468.0,171.5 468.2,171.5 468.5,171.5 468.8,171.6 469.0,171.6 469.2,171.6 469.5,171.6 469.8,171.6 470.0,171.7 470.2,171.7 470.5,171.7 470.8,171.7 471.0,171.7 471.2,171.8 471.5,171.8 471.8,171.8 472.0,171.8 472.2,171.8 472.5,171.9 472.8,171.9 473.0,171.9 473.2,171.9 473.5,171.9 473.8,172.0 474.0,172.0 474.2,172.0 474.5,172.0 474.8,172.0 475.0,172.0 475.2,172.1 475.5,172.1 475.8,172.1 476.0,172.1 476.2,172.1 476.5,172.1 476.8,172.1 477.0,172.2 477.2,172.2 477.5,172.2 477.8,172.2 478.0,172.2 478.2,172.2 478.5,172.2 478.8,172.2 479.0,172.3 479.2,172.3 479.5,172.3 479.8,172.3 480.0,172.3 480.2,172.3 480.5,172.3 480.8,172.3 481.0,172.3 481.2,172.3 481.5,172.4 481.8,172.4 482.0,172.4 482.2,172.4 482.5,172.4 482.8,172.4 483.0,172.4 483.2,172.4 483.5,172.4 483.8,172.4 484.0,172.4 484.2,172.5 484.5,172.5 484.8,172.5 485.0,172.5 485.2,172.5 485.5,172.5 485.8,172.5 486.0,172.5 486.2,172.5 486.5,172.5 486.8,172.5 487.0,172.6 487.2,172.6 487.5,172.6 487.8,172.6 488.0,172.6 488.2,172.6 488.5,172.6 488.8,172.6 489.0,172.6 489.2,172.6 489.5,172.6 489.8,172.6 490.0,172.6 490.2,172.7 490.5,172.7 490.8,172.7 491.0,172.7 491.2,172.7 491.5,172.7 491.8,172.7 492.0,172.7 492.2,172.7 492.5,172.7 492.8,172.7 493.0,172.7 493.2,172.7 493.5,172.7 493.8,172.8 494.0,172.8 494.2,172.8 494.5,172.8 494.8,172.8 495.0,172.8 495.2,172.8 495.5,172.8 495.8,172.8 496.0,172.8 496.2,172.8 496.5,172.8 496.8,172.8 497.0,172.8 497.2,172.8 497.5,172.8 497.8,172.9 498.0,172.9 498.2,172.9 498.5,172.9 498.8,172.9 499.0,172.9 499.2,172.9 499.5,172.9 499.8,172.9 500.0,172.9 500.2,172.9 500.5,172.9 500.8,172.9 501.0,172.9 501.2,172.9 501.5,172.9 501.8,172.9 502.0,173.0 502.2,173.0 502.5,173.0 502.8,173.0 503.0,173.0 503.2,173.0 503.5,173.0 503.8,173.0 504.0,173.0 504.2,173.0 504.5,173.0 504.8,173.0 505.0,173.0 505.2,173.0 505.5,173.0 505.8,173.0 506.0,173.0 506.2,173.0 506.5,173.0 506.8,173.0 507.0,173.0 507.2,173.1 507.5,173.1 507.8,173.1 508.0,173.1 508.2,173.1 508.5,173.1 508.8,173.1 509.0,173.1 509.2,173.1 509.5,173.1 509.8,173.1 510.0,173.1 510.2,173.1 510.5,173.1 510.8,173.1 511.0,173.1 511.2,173.1 511.5,173.1 511.8,173.1 512.0,173.1 512.2,173.1 512.5,173.1 512.8,173.1 513.0,173.1 513.2,173.1 513.5,173.2 513.8,173.2 514.0,173.2 514.2,173.2 514.5,173.2 514.8,173.2 515.0,173.2 515.2,173.2 515.5,173.2 515.8,173.2 516.0,173.2 516.2,173.2 516.5,173.2 516.8,173.2 517.0,173.2 517.2,173.2 517.5,173.2 517.8,173.2 518.0,173.2 518.2,173.2 518.5,173.2 518.8,173.2 519.0,173.2 519.2,173.2 519.5,173.2 519.8,173.2 520.0,173.2 520.2,173.2 520.5,173.2 520.8,173.2 521.0,173.2 521.2,173.2 521.5,173.2 521.8,173.2 522.0,173.2 522.2,173.3 522.5,173.3 522.8,173.3 523.0,173.3 523.2,173.3 523.5,173.3 523.8,173.3 524.0,173.3 524.2,173.3 524.5,173.3 524.8,173.3 525.0,173.3 525.2,173.3 525.5,173.3 525.8,173.3 526.0,173.3 526.2,173.3 526.5,173.3 526.8,173.3 527.0,173.3 527.2,173.3 527.5,173.3 527.8,173.3 528.0,173.3 528.2,173.3 528.5,173.3 528.8,173.3 529.0,173.3 529.2,173.3 529.5,173.3 529.8,173.3 530.0,173.3 530.2,173.3 530.5,173.3 530.8,173.3 531.0,173.3 531.2,173.3 531.5,173.3 531.8,173.3 532.0,173.3 532.2,173.3 532.5,173.3 532.8,173.3 533.0,173.3 533.2,173.4 533.5,173.4 533.8,173.4 534.0,173.4 534.2,173.4 534.5,173.4 534.8,173.4 535.0,173.4 535.2,173.4 535.5,173.4 535.8,173.4 536.0,173.4 536.2,173.4 536.5,173.4 536.8,173.4 537.0,173.4 537.2,173.4 537.5,173.4 537.8,173.4 538.0,173.4 538.2,173.4 538.5,173.4 538.8,173.4 539.0,173.4 539.2,173.4 539.5,173.4 539.8,173.4 540.0,173.4 540.2,173.4 540.5,173.4 540.8,173.4 541.0,173.4 541.2,173.4 541.5,173.4 541.8,173.5 542.0,173.5 542.2,173.5 542.5,173.5 542.8,173.5 543.0,173.5 543.2,173.5 543.5,173.5 543.8,173.5 544.0,173.5 544.2,173.5 544.5,173.5 544.8,173.5 545.0,173.5 545.2,173.5 545.5,173.5 545.8,173.5 546.0,173.5 546.2,173.5 546.5,173.5 546.8,173.5 547.0,173.5 547.2,173.5 547.5,173.5 547.8,173.5 548.0,173.6 548.2,173.6 548.5,173.6 548.8,173.6 549.0,173.6 549.2,173.6 549.5,173.6 549.8,173.6 550.0,173.6 550.2,173.6 550.5,173.6 550.8,173.6 551.0,173.6 551.2,173.6 551.5,173.6 551.8,173.6 552.0,173.6 552.2,173.6 552.5,173.6 552.8,173.6 553.0,173.6 553.2,173.7 553.5,173.7 553.8,173.7 554.0,173.7 554.2,173.7 554.5,173.7 554.8,173.7 555.0,173.7 555.2,173.7 555.5,173.7 555.8,173.7 556.0,173.7 556.2,173.7 556.5,173.7 556.8,173.7 557.0,173.7 557.2,173.7 557.5,173.8 557.8,173.8 558.0,173.8 558.2,173.8 558.5,173.8 558.8,173.8 559.0,173.8 559.2,173.8 559.5,173.8 559.8,173.8 560.0,173.8 560.2,173.8 560.5,173.8 560.8,173.8 561.0,173.9 561.2,173.9 561.5,173.9 561.8,173.9 562.0,173.9 562.2,173.9 562.5,173.9 562.8,173.9 563.0,173.9 563.2,173.9 563.5,173.9 563.8,173.9 564.0,174.0 564.2,174.0 564.5,174.0 564.8,174.0 565.0,174.0 565.2,174.0 565.5,174.0 565.8,174.0 566.0,174.0 566.2,174.0 566.5,174.0 566.8,174.1 567.0,174.1 567.2,174.1 567.5,174.1 567.8,174.1 568.0,174.1 568.2,174.1 568.5,174.1 568.8,174.1 569.0,174.2 569.2,174.2 569.5,174.2 569.8,174.2 570.0,174.2 570.2,174.2 570.5,174.2 570.8,174.2 571.0,174.3 571.2,174.3 571.5,174.3 571.8,174.3 572.0,174.3 572.2,174.3 572.5,174.4 572.8,174.4 573.0,174.4 573.2,174.4 573.5,174.4 573.8,174.5 574.0,174.5 574.2,174.5 574.5,174.5 574.8,174.6 575.0,174.6 575.2,174.6 575.5,174.6 575.8,174.7 576.0,174.7 576.2,174.7 576.5,174.8 576.8,174.8 577.0,174.8 577.2,174.8 577.5,174.9 577.8,174.9 578.0,174.9 578.2,175.0 578.5,175.0 578.8,175.0 579.0,175.1 579.2,175.1 579.5,175.1 579.8,175.2 580.0,175.2 580.2,175.2 580.5,175.3 580.8,175.3 581.0,175.4 581.2,175.4 581.5,175.4 581.8,175.5 582.0,175.5 582.2,175.5 582.5,175.6 582.8,175.6 583.0,175.7 583.2,175.7 583.5,175.7 583.8,175.8 584.0,175.8 584.2,175.9 584.5,175.9 584.8,176.0 585.0,176.0 585.2,176.1 585.5,176.1 585.8,176.2 586.0,176.2 586.2,176.3 586.5,176.4 586.8,176.4 587.0,176.5 587.2,176.5 587.5,176.6 587.8,176.6 588.0,176.7 588.2,176.8 588.5,176.8 588.8,176.9 589.0,177.0 589.2,177.0 589.5,177.1 589.8,177.2 590.0,177.2 590.2,177.3 590.5,177.4 590.8,177.4 591.0,177.5 591.2,177.6 591.5,177.6 591.8,177.7 592.0,177.8 592.2,177.9 592.5,178.0 592.8,178.0 593.0,178.1 593.2,178.2 593.5,178.3 593.8,178.4 594.0,178.5 594.2,178.6 594.5,178.7 594.8,178.8 595.0,178.8 595.2,178.9 595.5,179.0 595.8,179.1 596.0,179.2 596.2,179.3 596.5,179.4 596.8,179.5 597.0,179.6 597.2,179.7 597.5,179.8 597.8,179.9 598.0,180.0 598.2,180.1 598.5,180.2 598.8,180.3 599.0,180.4 599.2,180.5 599.5,180.6 599.8,180.7 600.0,180.8 600.2,180.9 600.5,181.0 600.8,181.1 601.0,181.2 601.2,181.4 601.5,181.5 601.8,181.6 602.0,181.7 602.2,181.8 602.5,181.9 602.8,182.0 603.0,182.1 603.2,182.2 603.5,182.3 603.8,182.4 604.0,182.5 604.2,182.6 604.5,182.7 604.8,182.8 605.0,182.9 605.2,183.0 605.5,183.1 605.8,183.2 606.0,183.3 606.2,183.4 606.5,183.5 606.8,183.6 607.0,183.7 607.2,183.8 607.5,183.8 607.8,183.9 608.0,184.0 608.2,184.1 608.5,184.2 608.8,184.3 609.0,184.4 609.2,184.5 609.5,184.6 609.8,184.7 610.0,184.7 610.2,184.8 610.5,184.9 610.8,185.0 611.0,185.1 611.2,185.1 611.5,185.2 611.8,185.3 612.0,185.4 612.2,185.4 612.5,185.5 612.8,185.5 613.0,185.6 613.2,185.7 613.5,185.7 613.8,185.8 614.0,185.8 614.2,185.8 614.5,185.9 614.8,185.9 615.0,186.0 615.2,186.0 615.5,186.0 615.8,186.1 616.0,186.1 616.2,186.2 616.5,186.2 616.8,186.2 617.0,186.3 617.2,186.3 617.5,186.3 617.8,186.4 618.0,186.4 618.2,186.4 618.5,186.5 618.8,186.5 619.0,186.5 619.2,186.5 619.5,186.6 619.8,186.6 620.0,186.6 620.2,186.6 620.5,186.7 620.8,186.7 621.0,186.7 621.2,186.7 621.5,186.8 621.8,186.8 622.0,186.8 622.2,186.8 622.5,186.9 622.8,186.9 623.0,186.9 623.2,186.9 623.5,186.9 623.8,186.9 624.0,186.9 624.2,187.0 624.5,187.0 624.8,187.0 625.0,187.0 625.2,187.0 625.5,187.0 625.8,187.0 626.0,187.0 626.2,187.1 626.5,187.1 626.8,187.1 627.0,187.1 627.2,187.1 627.5,187.1 627.8,187.1 628.0,187.1 628.2,187.1 628.5,187.1 628.8,187.1 629.0,187.2 629.2,187.2 629.5,187.2 629.8,187.2 630.0,187.2 630.2,187.2 630.5,187.2 630.8,187.2 631.0,187.2 631.2,187.2 631.5,187.2 631.8,187.2 632.0,187.2 632.2,187.3 632.5,187.3 632.8,187.3 633.0,187.3 633.2,187.3 633.5,187.3 633.8,187.3 634.0,187.3 634.2,187.3 634.5,187.3 634.8,187.3 635.0,187.3 635.2,187.3 635.5,187.3 635.8,187.3 636.0,187.3 636.2,187.3 636.5,187.4 636.8,187.4 637.0,187.4 637.2,187.4 637.5,187.4 637.8,187.4 638.0,187.4 638.2,187.4 638.5,187.4 638.8,187.4 639.0,187.4 639.2,187.4 639.5,187.4 639.8,187.4 640.0,187.4 640.2,187.4 640.5,187.4 640.8,187.4 641.0,187.4 641.2,187.4 641.5,187.4 641.8,187.4 642.0,187.5 642.2,187.5 642.5,187.5 642.8,187.5 643.0,187.5 643.2,187.5 643.5,187.5 643.8,187.5 644.0,187.5 644.2,187.5 644.5,187.5 644.8,187.5 645.0,187.5 645.2,187.5 645.5,187.5 645.8,187.5 646.0,187.5 646.2,187.5 646.5,187.5 646.8,187.5 647.0,187.5 647.2,187.5 647.5,187.5 647.8,187.5 648.0,187.5 648.2,187.6 648.5,187.6 648.8,187.6 649.0,187.6 649.2,187.6 649.5,187.6 649.8,187.6 650.0,187.6 650.2,187.6 650.5,187.6 650.8,187.6 651.0,187.6 651.2,187.6 651.5,187.6 651.8,187.6 652.0,187.6 652.2,187.6 652.5,187.6 652.8,187.6 653.0,187.6 653.2,187.6 653.5,187.6 653.8,187.6 654.0,187.6 654.2,187.6 654.5,187.6 654.8,187.6 655.0,187.7 655.2,187.7 655.5,187.7 655.8,187.7 656.0,187.7 656.2,187.7 656.5,187.7 656.8,187.7 657.0,187.7 657.2,187.7 657.5,187.7 657.8,187.7 658.0,187.7 658.2,187.7 658.5,187.7 658.8,187.7 659.0,187.7 659.2,187.7 659.5,187.7 659.8,187.7 660.0,187.7 660.2,187.7 660.5,187.7 660.8,187.7 661.0,187.7 661.2,187.7 661.5,187.7 661.8,187.7 662.0,187.7 662.2,187.7 662.5,187.7 662.8,187.7 663.0,187.7 663.2,187.7 663.5,187.7 663.8,187.8 664.0,187.8 664.2,187.8 664.5,187.8 664.8,187.8 665.0,187.8 665.2,187.8 665.5,187.8 665.8,187.8 666.0,187.8 666.2,187.8 666.5,187.8 666.8,187.8 667.0,187.8 667.2,187.8 667.5,187.8 667.8,187.8 668.0,187.8 668.2,187.8 668.5,187.8 668.8,187.8 669.0,187.8 669.2,187.8 669.5,187.8 669.8,187.8" fill="none" stroke="#2a3aa0" stroke-width="1.6" stroke-linejoin="round" stroke-linecap="round" opacity="1.0"/>
<path d="M400.5,164.1 400.8,164.0 401.0,164.0 401.2,163.9 401.5,163.9 401.8,163.8 402.0,163.7 402.2,163.7 402.5,163.6 402.8,163.6 403.0,163.5 403.2,163.4 403.5,163.4 403.8,163.3 404.0,163.2 404.2,163.2 404.5,163.1 404.8,163.0 405.0,162.9 405.2,162.9 405.5,162.8 405.8,162.7 406.0,162.6 406.2,162.5 406.5,162.5 406.8,162.4 407.0,162.3 407.2,162.2 407.5,162.1 407.8,162.0 408.0,161.9 408.2,161.8 408.5,161.7 408.8,161.6 409.0,161.5 409.2,161.4 409.5,161.3 409.8,161.2 410.0,161.1 410.2,161.0 410.5,160.9 410.8,160.8 411.0,160.7 411.2,160.5 411.5,160.4 411.8,160.3 412.0,160.2 412.2,160.0 412.5,159.9 412.8,159.8 413.0,159.7 413.2,159.5 413.5,159.4 413.8,159.2 414.0,159.1 414.2,159.0 414.5,158.8 414.8,158.7 415.0,158.5 415.2,158.4 415.5,158.2 415.8,158.1 416.0,157.9 416.2,157.7 416.5,157.6 416.8,157.4 417.0,157.3 417.2,157.1 417.5,156.9 417.8,156.7 418.0,156.6 418.2,156.4 418.5,156.2 418.8,156.0 419.0,155.8 419.2,155.7 419.5,155.5 419.8,155.3 420.0,155.1 420.2,154.9 420.5,154.7 420.8,154.5 421.0,154.3 421.2,154.1 421.5,153.9 421.8,153.7 422.0,153.5 422.2,153.3 422.5,153.0 422.8,152.8 423.0,152.6 423.2,152.4 423.5,152.2 423.8,151.9 424.0,151.7 424.2,151.5 424.5,151.2 424.8,151.0 425.0,150.8 425.2,150.5 425.5,150.3 425.8,150.1 426.0,149.8 426.2,149.6 426.5,149.3 426.8,149.1 427.0,148.8 427.2,148.6 427.5,148.3 427.8,148.1 428.0,147.8 428.2,147.5 428.5,147.3 428.8,147.0 429.0,146.8 429.2,146.5 429.5,146.2 429.8,146.0 430.0,145.7 430.2,145.4 430.5,145.1 430.8,144.9 431.0,144.6 431.2,144.3 431.5,144.0 431.8,143.8 432.0,143.5 432.2,143.2 432.5,142.9 432.8,142.6 433.0,142.4 433.2,142.1 433.5,141.8 433.8,141.5 434.0,141.2 434.2,141.0 434.5,140.7 434.8,140.4 435.0,140.1 435.2,139.8 435.5,139.5 435.8,139.2 436.0,139.0 436.2,138.7 436.5,138.4 436.8,138.1 437.0,137.8 437.2,137.5 437.5,137.2 437.8,137.0 438.0,136.7 438.2,136.4 438.5,136.1 438.8,135.8 439.0,135.6 439.2,135.3 439.5,135.0 439.8,134.7 440.0,134.4 440.2,134.2 440.5,133.9 440.8,133.6 441.0,133.4 441.2,133.1 441.5,132.8 441.8,132.6 442.0,132.3 442.2,132.0 442.5,131.8 442.8,131.5 443.0,131.3 443.2,131.0 443.5,130.8 443.8,130.5 444.0,130.3 444.2,130.1 444.5,129.8 444.8,129.6 445.0,129.4 445.2,129.2 445.5,128.9 445.8,128.7 446.0,128.5 446.2,128.3 446.5,128.1 446.8,127.9 447.0,127.7 447.2,127.5 447.5,127.3 447.8,127.1 448.0,126.9 448.2,126.7 448.5,126.6 448.8,126.4 449.0,126.2 449.2,126.1 449.5,125.9 449.8,125.8 450.0,125.6 450.2,125.5 450.5,125.3 450.8,125.2 451.0,125.1 451.2,124.9 451.5,124.8 451.8,124.7 452.0,124.6 452.2,124.5 452.5,124.4 452.8,124.3 453.0,124.2 453.2,124.2 453.5,124.1 453.8,124.0 454.0,123.9 454.2,123.9 454.5,123.8 454.8,123.8 455.0,123.8 455.2,123.7 455.5,123.7 455.8,123.7 456.0,123.7 456.2,123.6 456.5,123.6 456.8,123.6 457.0,123.7 457.2,123.7 457.5,123.7 457.8,123.7 458.0,123.7 458.2,123.8 458.5,123.8 458.8,123.9 459.0,123.9 459.2,124.0 459.5,124.0 459.8,124.1 460.0,124.2 460.2,124.3 460.5,124.4 460.8,124.5 461.0,124.6 461.2,124.7 461.5,124.8 461.8,124.9 462.0,125.0 462.2,125.1 462.5,125.3 462.8,125.4 463.0,125.5 463.2,125.7 463.5,125.8 463.8,126.0 464.0,126.2 464.2,126.3 464.5,126.5 464.8,126.7 465.0,126.9 465.2,127.0 465.5,127.2 465.8,127.4 466.0,127.6 466.2,127.8 466.5,128.0 466.8,128.2 467.0,128.4 467.2,128.7 467.5,128.9 467.8,129.1 468.0,129.3 468.2,129.6 468.5,129.8 468.8,130.1 469.0,130.3 469.2,130.5 469.5,130.8 469.8,131.0 470.0,131.3 470.2,131.6 470.5,131.8 470.8,132.1 471.0,132.3 471.2,132.6 471.5,132.9 471.8,133.2 472.0,133.4 472.2,133.7 472.5,134.0 472.8,134.3 473.0,134.6 473.2,134.8 473.5,135.1 473.8,135.4 474.0,135.7 474.2,136.0 474.5,136.3 474.8,136.6 475.0,136.9 475.2,137.2 475.5,137.5 475.8,137.8 476.0,138.1 476.2,138.4 476.5,138.7 476.8,139.0 477.0,139.3 477.2,139.6 477.5,139.9 477.8,140.2 478.0,140.5 478.2,140.8 478.5,141.1 478.8,141.4 479.0,141.7 479.2,142.0 479.5,142.3 479.8,142.6 480.0,142.9 480.2,143.2 480.5,143.6 480.8,143.9 481.0,144.2 481.2,144.5 481.5,144.8 481.8,145.1 482.0,145.4 482.2,145.7 482.5,146.0 482.8,146.3 483.0,146.6 483.2,146.9 483.5,147.2 483.8,147.5 484.0,147.7 484.2,148.0 484.5,148.3 484.8,148.6 485.0,148.9 485.2,149.2 485.5,149.5 485.8,149.8 486.0,150.1 486.2,150.3 486.5,150.6 486.8,150.9 487.0,151.2 487.2,151.5 487.5,151.7 487.8,152.0 488.0,152.3 488.2,152.6 488.5,152.8 488.8,153.1 489.0,153.4 489.2,153.6 489.5,153.9 489.8,154.2 490.0,154.4 490.2,154.7 490.5,154.9 490.8,155.2 491.0,155.4 491.2,155.7 491.5,155.9 491.8,156.2 492.0,156.4 492.2,156.7 492.5,156.9 492.8,157.1 493.0,157.4 493.2,157.6 493.5,157.8 493.8,158.1 494.0,158.3 494.2,158.5 494.5,158.7 494.8,158.9 495.0,159.2 495.2,159.4 495.5,159.6 495.8,159.8 496.0,160.0 496.2,160.2 496.5,160.4 496.8,160.6 497.0,160.8 497.2,161.0 497.5,161.2 497.8,161.4 498.0,161.6 498.2,161.8 498.5,162.0 498.8,162.1 499.0,162.3 499.2,162.5 499.5,162.7 499.8,162.9 500.0,163.0 500.2,163.2 500.5,163.4 500.8,163.5 501.0,163.7 501.2,163.9 501.5,164.0 501.8,164.2 502.0,164.3 502.2,164.5 502.5,164.6 502.8,164.8 503.0,164.9 503.2,165.1 503.5,165.2 503.8,165.3 504.0,165.5 504.2,165.6 504.5,165.8 504.8,165.9 505.0,166.0 505.2,166.1 505.5,166.3 505.8,166.4 506.0,166.5 506.2,166.6 506.5,166.7 506.8,166.9 507.0,167.0 507.2,167.1 507.5,167.2 507.8,167.3 508.0,167.4 508.2,167.5 508.5,167.6 508.8,167.7 509.0,167.8 509.2,167.9 509.5,168.0 509.8,168.1 510.0,168.2 510.2,168.3 510.5,168.4 510.8,168.5 511.0,168.6 511.2,168.7 511.5,168.7 511.8,168.8 512.0,168.9 512.2,169.0 512.5,169.1 512.8,169.1 513.0,169.2 513.2,169.3 513.5,169.4 513.8,169.4 514.0,169.5 514.2,169.6 514.5,169.6 514.8,169.7 515.0,169.8 515.2,169.8 515.5,169.9 515.8,170.0 516.0,170.0 516.2,170.1 516.5,170.1 516.8,170.2 517.0,170.2 517.2,170.3 517.5,170.3 517.8,170.4 518.0,170.4 518.2,170.5 518.5,170.5 518.8,170.6 519.0,170.6 519.2,170.7 519.5,170.7 519.8,170.8 520.0,170.8 520.2,170.9 520.5,170.9 520.8,170.9 521.0,171.0 521.2,171.0 521.5,171.1 521.8,171.1 522.0,171.1 522.2,171.2 522.5,171.2 522.8,171.2 523.0,171.3 523.2,171.3 523.5,171.3 523.8,171.4 524.0,171.4 524.2,171.4 524.5,171.5 524.8,171.5 525.0,171.5 525.2,171.6 525.5,171.6 525.8,171.6 526.0,171.6 526.2,171.7 526.5,171.7 526.8,171.7 527.0,171.7 527.2,171.8 527.5,171.8 527.8,171.8 528.0,171.8 528.2,171.8 528.5,171.9 528.8,171.9 529.0,171.9 529.2,171.9 529.5,172.0 529.8,172.0 530.0,172.0 530.2,172.0 530.5,172.0 530.8,172.0 531.0,172.1 531.2,172.1 531.5,172.1 531.8,172.1 532.0,172.1 532.2,172.1 532.5,172.2 532.8,172.2 533.0,172.2 533.2,172.2 533.5,172.2 533.8,172.2 534.0,172.3 534.2,172.3 534.5,172.3 534.8,172.3 535.0,172.3 535.2,172.3 535.5,172.3 535.8,172.4 536.0,172.4 536.2,172.4 536.5,172.4 536.8,172.4 537.0,172.4 537.2,172.4 537.5,172.4 537.8,172.4 538.0,172.5 538.2,172.5 538.5,172.5 538.8,172.5 539.0,172.5 539.2,172.5 539.5,172.5 539.8,172.5 540.0,172.5 540.2,172.6 540.5,172.6 540.8,172.6 541.0,172.6 541.2,172.6 541.5,172.6 541.8,172.6 542.0,172.6 542.2,172.6 542.5,172.6 542.8,172.7 543.0,172.7 543.2,172.7 543.5,172.7 543.8,172.7 544.0,172.7 544.2,172.7 544.5,172.7 544.8,172.7 545.0,172.7 545.2,172.8 545.5,172.8 545.8,172.8 546.0,172.8 546.2,172.8 546.5,172.8 546.8,172.8 547.0,172.8 547.2,172.8 547.5,172.8 547.8,172.8 548.0,172.9 548.2,172.9 548.5,172.9 548.8,172.9 549.0,172.9 549.2,172.9 549.5,172.9 549.8,172.9 550.0,172.9 550.2,172.9 550.5,172.9 550.8,172.9 551.0,173.0 551.2,173.0 551.5,173.0 551.8,173.0 552.0,173.0 552.2,173.0 552.5,173.0 552.8,173.0 553.0,173.0 553.2,173.0 553.5,173.0 553.8,173.1 554.0,173.1 554.2,173.1 554.5,173.1 554.8,173.1 555.0,173.1 555.2,173.1 555.5,173.1 555.8,173.1 556.0,173.1 556.2,173.1 556.5,173.1 556.8,173.2 557.0,173.2 557.2,173.2 557.5,173.2 557.8,173.2 558.0,173.2 558.2,173.2 558.5,173.2 558.8,173.2 559.0,173.2 559.2,173.3 559.5,173.3 559.8,173.3 560.0,173.3 560.2,173.3 560.5,173.3 560.8,173.3 561.0,173.3 561.2,173.3 561.5,173.3 561.8,173.4 562.0,173.4 562.2,173.4 562.5,173.4 562.8,173.4 563.0,173.4 563.2,173.4 563.5,173.4 563.8,173.4 564.0,173.4 564.2,173.5 564.5,173.5 564.8,173.5 565.0,173.5 565.2,173.5 565.5,173.5 565.8,173.5 566.0,173.5 566.2,173.6 566.5,173.6 566.8,173.6 567.0,173.6 567.2,173.6 567.5,173.6 567.8,173.6 568.0,173.6 568.2,173.7 568.5,173.7 568.8,173.7 569.0,173.7 569.2,173.7 569.5,173.7 569.8,173.7 570.0,173.7 570.2,173.8 570.5,173.8 570.8,173.8 571.0,173.8 571.2,173.8 571.5,173.8 571.8,173.9 572.0,173.9 572.2,173.9 572.5,173.9 572.8,173.9 573.0,174.0 573.2,174.0 573.5,174.0 573.8,174.0 574.0,174.1 574.2,174.1 574.5,174.1 574.8,174.1 575.0,174.2 575.2,174.2 575.5,174.2 575.8,174.3 576.0,174.3 576.2,174.3 576.5,174.4 576.8,174.4 577.0,174.4 577.2,174.4 577.5,174.5 577.8,174.5 578.0,174.5 578.2,174.6 578.5,174.6 578.8,174.6 579.0,174.7 579.2,174.7 579.5,174.8 579.8,174.8 580.0,174.8 580.2,174.9 580.5,174.9 580.8,174.9 581.0,175.0 581.2,175.0 581.5,175.1 581.8,175.1 582.0,175.1 582.2,175.2 582.5,175.2 582.8,175.2 583.0,175.3 583.2,175.3 583.5,175.4 583.8,175.4 584.0,175.5 584.2,175.5 584.5,175.6 584.8,175.6 585.0,175.7 585.2,175.7 585.5,175.8 585.8,175.8 586.0,175.9 586.2,176.0 586.5,176.0 586.8,176.1 587.0,176.1 587.2,176.2 587.5,176.2 587.8,176.3 588.0,176.4 588.2,176.4 588.5,176.5 588.8,176.6 589.0,176.6 589.2,176.7 589.5,176.8 589.8,176.8 590.0,176.9 590.2,177.0 590.5,177.0 590.8,177.1 591.0,177.2 591.2,177.2 591.5,177.3 591.8,177.4 592.0,177.5 592.2,177.6 592.5,177.6 592.8,177.7 593.0,177.8 593.2,177.9 593.5,178.0 593.8,178.1 594.0,178.2 594.2,178.3 594.5,178.3 594.8,178.4 595.0,178.5 595.2,178.6 595.5,178.7 595.8,178.8 596.0,178.9 596.2,179.0 596.5,179.1 596.8,179.2 597.0,179.3 597.2,179.4 597.5,179.5 597.8,179.6 598.0,179.7 598.2,179.8 598.5,179.9 598.8,180.0 599.0,180.1 599.2,180.2 599.5,180.3 599.8,180.4 600.0,180.5 600.2,180.6 600.5,180.7 600.8,180.8 601.0,181.0 601.2,181.1 601.5,181.2 601.8,181.3 602.0,181.4 602.2,181.5 602.5,181.6 602.8,181.7 603.0,181.8 603.2,181.9 603.5,182.0 603.8,182.2 604.0,182.3 604.2,182.4 604.5,182.5 604.8,182.6 605.0,182.7 605.2,182.8 605.5,182.9 605.8,182.9 606.0,183.0 606.2,183.1 606.5,183.2 606.8,183.3 607.0,183.4 607.2,183.5 607.5,183.6 607.8,183.7 608.0,183.8 608.2,183.9 608.5,184.0 608.8,184.0 609.0,184.1 609.2,184.2 609.5,184.3 609.8,184.4 610.0,184.5 610.2,184.6 610.5,184.7 610.8,184.7 611.0,184.8 611.2,184.9 611.5,185.0 611.8,185.0 612.0,185.1 612.2,185.2 612.5,185.2 612.8,185.3 613.0,185.4 613.2,185.4 613.5,185.5 613.8,185.5 614.0,185.6 614.2,185.6 614.5,185.6 614.8,185.7 615.0,185.7 615.2,185.8 615.5,185.8 615.8,185.8 616.0,185.9 616.2,185.9 616.5,186.0 616.8,186.0 617.0,186.0 617.2,186.1 617.5,186.1 617.8,186.1 618.0,186.2 618.2,186.2 618.5,186.2 618.8,186.3 619.0,186.3 619.2,186.3 619.5,186.3 619.8,186.4 620.0,186.4 620.2,186.4 620.5,186.5 620.8,186.5 621.0,186.5 621.2,186.5 621.5,186.5 621.8,186.6 622.0,186.6 622.2,186.6 622.5,186.6 622.8,186.7 623.0,186.7 623.2,186.7 623.5,186.7 623.8,186.7 624.0,186.7 624.2,186.8 624.5,186.8 624.8,186.8 625.0,186.8 625.2,186.8 625.5,186.8 625.8,186.8 626.0,186.8 626.2,186.8 626.5,186.9 626.8,186.9 627.0,186.9 627.2,186.9 627.5,186.9 627.8,186.9 628.0,186.9 628.2,186.9 628.5,186.9 628.8,186.9 629.0,187.0 629.2,187.0 629.5,187.0 629.8,187.0 630.0,187.0 630.2,187.0 630.5,187.0 630.8,187.0 631.0,187.0 631.2,187.0 631.5,187.0 631.8,187.0 632.0,187.0 632.2,187.1 632.5,187.1 632.8,187.1 633.0,187.1 633.2,187.1 633.5,187.1 633.8,187.1 634.0,187.1 634.2,187.1 634.5,187.1 634.8,187.1 635.0,187.1 635.2,187.1 635.5,187.1 635.8,187.1 636.0,187.2 636.2,187.2 636.5,187.2 636.8,187.2 637.0,187.2 637.2,187.2 637.5,187.2 637.8,187.2 638.0,187.2 638.2,187.2 638.5,187.2 638.8,187.2 639.0,187.2 639.2,187.2 639.5,187.2 639.8,187.2 640.0,187.2 640.2,187.2 640.5,187.2 640.8,187.3 641.0,187.3 641.2,187.3 641.5,187.3 641.8,187.3 642.0,187.3 642.2,187.3 642.5,187.3 642.8,187.3 643.0,187.3 643.2,187.3 643.5,187.3 643.8,187.3 644.0,187.3 644.2,187.3 644.5,187.3 644.8,187.3 645.0,187.3 645.2,187.3 645.5,187.3 645.8,187.3 646.0,187.3 646.2,187.4 646.5,187.4 646.8,187.4 647.0,187.4 647.2,187.4 647.5,187.4 647.8,187.4 648.0,187.4 648.2,187.4 648.5,187.4 648.8,187.4 649.0,187.4 649.2,187.4 649.5,187.4 649.8,187.4 650.0,187.4 650.2,187.4 650.5,187.4 650.8,187.4 651.0,187.4 651.2,187.4 651.5,187.4 651.8,187.4 652.0,187.5 652.2,187.5 652.5,187.5 652.8,187.5 653.0,187.5 653.2,187.5 653.5,187.5 653.8,187.5 654.0,187.5 654.2,187.5 654.5,187.5 654.8,187.5 655.0,187.5 655.2,187.5 655.5,187.5 655.8,187.5 656.0,187.5 656.2,187.5 656.5,187.5 656.8,187.5 657.0,187.5 657.2,187.5 657.5,187.5 657.8,187.5 658.0,187.5 658.2,187.5 658.5,187.5 658.8,187.6 659.0,187.6 659.2,187.6 659.5,187.6 659.8,187.6 660.0,187.6 660.2,187.6 660.5,187.6 660.8,187.6 661.0,187.6 661.2,187.6 661.5,187.6 661.8,187.6 662.0,187.6 662.2,187.6 662.5,187.6 662.8,187.6 663.0,187.6 663.2,187.6 663.5,187.6 663.8,187.6 664.0,187.6 664.2,187.6 664.5,187.6 664.8,187.6 665.0,187.6 665.2,187.6 665.5,187.6 665.8,187.6 666.0,187.6 666.2,187.6 666.5,187.6 666.8,187.6 667.0,187.6 667.2,187.6 667.5,187.6 667.8,187.6 668.0,187.7 668.2,187.7 668.5,187.7 668.8,187.7 669.0,187.7 669.2,187.7 669.5,187.7 669.8,187.7" fill="none" stroke="#2a7020" stroke-width="1.8" stroke-linejoin="round" stroke-linecap="round" opacity="1.0"/>
<path d="M401.0,164.0h0M403.5,163.4h0M405.9,162.7h0M408.4,161.8h0M410.8,160.7h0M413.3,159.5h0M415.8,158.1h0M418.2,156.4h0M420.7,154.6h0M423.1,152.5h0M425.6,150.2h0M428.1,147.7h0M430.5,145.1h0M433.0,142.4h0M435.4,139.6h0M437.9,136.8h0M440.4,134.1h0M442.8,131.5h0M445.3,129.1h0M447.7,127.1h0M450.2,125.5h0M452.7,124.4h0M455.1,123.7h0M457.6,123.7h0M460.0,124.2h0M462.5,125.3h0M465.0,126.8h0M467.4,128.8h0M469.9,131.2h0M472.3,133.8h0M474.8,136.7h0M477.3,139.6h0M479.7,142.6h0M482.2,145.6h0M484.6,148.5h0M487.1,151.3h0M489.6,154.0h0M492.0,156.4h0M494.5,158.7h0M496.9,160.8h0M499.4,162.6h0M501.9,164.2h0M504.3,165.7h0M506.8,166.9h0M509.2,167.9h0M511.7,168.8h0M514.2,169.5h0M516.6,170.2h0M519.1,170.7h0M521.5,171.1h0M524.0,171.4h0M526.5,171.7h0M528.9,171.9h0M531.4,172.1h0M533.8,172.2h0M536.3,172.4h0M538.8,172.5h0M541.2,172.6h0M543.7,172.7h0M546.1,172.8h0M548.6,172.9h0M551.1,173.0h0M553.5,173.0h0M556.0,173.1h0M558.4,173.2h0M560.9,173.3h0M563.4,173.4h0M565.8,173.5h0M568.3,173.7h0M570.7,173.8h0M573.2,174.0h0M575.7,174.3h0M578.1,174.6h0M580.6,174.9h0M583.0,175.3h0M585.5,175.8h0M588.0,176.4h0M590.4,177.0h0M592.9,177.8h0M595.3,178.7h0M597.8,179.6h0M600.3,180.6h0M602.7,181.7h0M605.2,182.7h0M607.6,183.6h0M610.1,184.5h0M612.6,185.3h0M615.0,185.7h0M617.5,186.1h0M619.9,186.4h0M622.4,186.6h0M624.9,186.8h0M627.3,186.9h0M629.8,187.0h0M632.2,187.1h0M634.7,187.1h0M637.2,187.2h0M639.6,187.2h0M642.1,187.3h0M644.5,187.3h0M647.0,187.4h0M649.5,187.4h0M651.9,187.5h0M654.4,187.5h0M656.8,187.5h0M659.3,187.6h0M661.8,187.6h0M664.2,187.6h0M666.7,187.6h0M669.1,187.7h0" stroke="#2a7020" stroke-width="3.40" stroke-linecap="round" fill="none" opacity="1.0"/>
<path d="M400.5,167.1 400.8,167.1 401.0,167.1 401.2,167.1 401.5,167.1 401.8,167.1 402.0,167.1 402.2,167.1 402.5,167.2 402.8,167.2 403.0,167.2 403.2,167.2 403.5,167.2 403.8,167.2 404.0,167.2 404.2,167.2 404.5,167.2 404.8,167.2 405.0,167.2 405.2,167.2 405.5,167.2 405.8,167.2 406.0,167.2 406.2,167.3 406.5,167.3 406.8,167.3 407.0,167.3 407.2,167.3 407.5,167.3 407.8,167.3 408.0,167.3 408.2,167.3 408.5,167.3 408.8,167.3 409.0,167.3 409.2,167.3 409.5,167.3 409.8,167.4 410.0,167.4 410.2,167.4 410.5,167.4 410.8,167.4 411.0,167.4 411.2,167.4 411.5,167.4 411.8,167.4 412.0,167.4 412.2,167.4 412.5,167.4 412.8,167.5 413.0,167.5 413.2,167.5 413.5,167.5 413.8,167.5 414.0,167.5 414.2,167.5 414.5,167.5 414.8,167.5 415.0,167.5 415.2,167.5 415.5,167.6 415.8,167.6 416.0,167.6 416.2,167.6 416.5,167.6 416.8,167.6 417.0,167.6 417.2,167.6 417.5,167.6 417.8,167.6 418.0,167.7 418.2,167.7 418.5,167.7 418.8,167.7 419.0,167.7 419.2,167.7 419.5,167.7 419.8,167.7 420.0,167.7 420.2,167.7 420.5,167.8 420.8,167.8 421.0,167.8 421.2,167.8 421.5,167.8 421.8,167.8 422.0,167.8 422.2,167.8 422.5,167.8 422.8,167.9 423.0,167.9 423.2,167.9 423.5,167.9 423.8,167.9 424.0,167.9 424.2,167.9 424.5,167.9 424.8,167.9 425.0,168.0 425.2,168.0 425.5,168.0 425.8,168.0 426.0,168.0 426.2,168.0 426.5,168.0 426.8,168.0 427.0,168.0 427.2,168.1 427.5,168.1 427.8,168.1 428.0,168.1 428.2,168.1 428.5,168.1 428.8,168.1 429.0,168.1 429.2,168.1 429.5,168.2 429.8,168.2 430.0,168.2 430.2,168.2 430.5,168.2 430.8,168.2 431.0,168.2 431.2,168.2 431.5,168.3 431.8,168.3 432.0,168.3 432.2,168.3 432.5,168.3 432.8,168.3 433.0,168.3 433.2,168.3 433.5,168.4 433.8,168.4 434.0,168.4 434.2,168.4 434.5,168.4 434.8,168.4 435.0,168.4 435.2,168.4 435.5,168.5 435.8,168.5 436.0,168.5 436.2,168.5 436.5,168.5 436.8,168.5 437.0,168.5 437.2,168.5 437.5,168.6 437.8,168.6 438.0,168.6 438.2,168.6 438.5,168.6 438.8,168.6 439.0,168.6 439.2,168.6 439.5,168.7 439.8,168.7 440.0,168.7 440.2,168.7 440.5,168.7 440.8,168.7 441.0,168.7 441.2,168.8 441.5,168.8 441.8,168.8 442.0,168.8 442.2,168.8 442.5,168.8 442.8,168.8 443.0,168.9 443.2,168.9 443.5,168.9 443.8,168.9 444.0,168.9 444.2,168.9 444.5,169.0 444.8,169.0 445.0,169.0 445.2,169.0 445.5,169.0 445.8,169.1 446.0,169.1 446.2,169.1 446.5,169.1 446.8,169.1 447.0,169.2 447.2,169.2 447.5,169.2 447.8,169.2 448.0,169.2 448.2,169.3 448.5,169.3 448.8,169.3 449.0,169.3 449.2,169.3 449.5,169.4 449.8,169.4 450.0,169.4 450.2,169.4 450.5,169.4 450.8,169.5 451.0,169.5 451.2,169.5 451.5,169.5 451.8,169.6 452.0,169.6 452.2,169.6 452.5,169.6 452.8,169.6 453.0,169.7 453.2,169.7 453.5,169.7 453.8,169.7 454.0,169.8 454.2,169.8 454.5,169.8 454.8,169.8 455.0,169.9 455.2,169.9 455.5,169.9 455.8,169.9 456.0,169.9 456.2,170.0 456.5,170.0 456.8,170.0 457.0,170.0 457.2,170.1 457.5,170.1 457.8,170.1 458.0,170.1 458.2,170.2 458.5,170.2 458.8,170.2 459.0,170.2 459.2,170.3 459.5,170.3 459.8,170.3 460.0,170.3 460.2,170.3 460.5,170.4 460.8,170.4 461.0,170.4 461.2,170.4 461.5,170.5 461.8,170.5 462.0,170.5 462.2,170.5 462.5,170.6 462.8,170.6 463.0,170.6 463.2,170.6 463.5,170.6 463.8,170.7 464.0,170.7 464.2,170.7 464.5,170.7 464.8,170.8 465.0,170.8 465.2,170.8 465.5,170.8 465.8,170.8 466.0,170.9 466.2,170.9 466.5,170.9 466.8,170.9 467.0,171.0 467.2,171.0 467.5,171.0 467.8,171.0 468.0,171.0 468.2,171.1 468.5,171.1 468.8,171.1 469.0,171.1 469.2,171.1 469.5,171.2 469.8,171.2 470.0,171.2 470.2,171.2 470.5,171.2 470.8,171.3 471.0,171.3 471.2,171.3 471.5,171.3 471.8,171.3 472.0,171.3 472.2,171.4 472.5,171.4 472.8,171.4 473.0,171.4 473.2,171.4 473.5,171.4 473.8,171.5 474.0,171.5 474.2,171.5 474.5,171.5 474.8,171.5 475.0,171.5 475.2,171.5 475.5,171.6 475.8,171.6 476.0,171.6 476.2,171.6 476.5,171.6 476.8,171.6 477.0,171.6 477.2,171.6 477.5,171.7 477.8,171.7 478.0,171.7 478.2,171.7 478.5,171.7 478.8,171.7 479.0,171.7 479.2,171.7 479.5,171.7 479.8,171.7 480.0,171.7 480.2,171.8 480.5,171.8 480.8,171.8 481.0,171.8 481.2,171.8 481.5,171.8 481.8,171.8 482.0,171.8 482.2,171.8 482.5,171.8 482.8,171.8 483.0,171.8 483.2,171.8 483.5,171.8 483.8,171.9 484.0,171.9 484.2,171.9 484.5,171.9 484.8,171.9 485.0,171.9 485.2,171.9 485.5,171.9 485.8,171.9 486.0,171.9 486.2,171.9 486.5,171.9 486.8,171.9 487.0,171.9 487.2,171.9 487.5,171.9 487.8,171.9 488.0,171.9 488.2,172.0 488.5,172.0 488.8,172.0 489.0,172.0 489.2,172.0 489.5,172.0 489.8,172.0 490.0,172.0 490.2,172.0 490.5,172.0 490.8,172.0 491.0,172.0 491.2,172.0 491.5,172.0 491.8,172.0 492.0,172.0 492.2,172.0 492.5,172.0 492.8,172.0 493.0,172.0 493.2,172.0 493.5,172.0 493.8,172.0 494.0,172.1 494.2,172.1 494.5,172.1 494.8,172.1 495.0,172.1 495.2,172.1 495.5,172.1 495.8,172.1 496.0,172.1 496.2,172.1 496.5,172.1 496.8,172.1 497.0,172.1 497.2,172.1 497.5,172.1 497.8,172.1 498.0,172.1 498.2,172.1 498.5,172.1 498.8,172.1 499.0,172.1 499.2,172.1 499.5,172.1 499.8,172.1 500.0,172.1 500.2,172.1 500.5,172.1 500.8,172.1 501.0,172.1 501.2,172.1 501.5,172.1 501.8,172.1 502.0,172.1 502.2,172.1 502.5,172.1 502.8,172.1 503.0,172.1 503.2,172.1 503.5,172.1 503.8,172.1 504.0,172.1 504.2,172.1 504.5,172.1 504.8,172.1 505.0,172.1 505.2,172.1 505.5,172.1 505.8,172.1 506.0,172.1 506.2,172.1 506.5,172.1 506.8,172.1 507.0,172.1 507.2,172.1 507.5,172.1 507.8,172.1 508.0,172.1 508.2,172.1 508.5,172.1 508.8,172.1 509.0,172.1 509.2,172.1 509.5,172.1 509.8,172.1 510.0,172.1 510.2,172.1 510.5,172.1 510.8,172.1 511.0,172.1 511.2,172.1 511.5,172.1 511.8,172.1 512.0,172.1 512.2,172.1 512.5,172.1 512.8,172.1 513.0,172.1 513.2,172.1 513.5,172.1 513.8,172.1 514.0,172.1 514.2,172.1 514.5,172.1 514.8,172.1 515.0,172.1 515.2,172.1 515.5,172.1 515.8,172.1 516.0,172.1 516.2,172.1 516.5,172.1 516.8,172.1 517.0,172.0 517.2,172.0 517.5,172.0 517.8,172.0 518.0,172.0 518.2,172.0 518.5,172.0 518.8,172.0 519.0,172.0 519.2,172.0 519.5,172.0 519.8,172.0 520.0,172.0 520.2,172.0 520.5,172.0 520.8,172.0 521.0,172.0 521.2,172.0 521.5,172.0 521.8,172.0 522.0,172.0 522.2,171.9 522.5,171.9 522.8,171.9 523.0,171.9 523.2,171.9 523.5,171.9 523.8,171.9 524.0,171.9 524.2,171.9 524.5,171.9 524.8,171.9 525.0,171.9 525.2,171.9 525.5,171.9 525.8,171.9 526.0,171.9 526.2,171.8 526.5,171.8 526.8,171.8 527.0,171.8 527.2,171.8 527.5,171.8 527.8,171.8 528.0,171.8 528.2,171.8 528.5,171.8 528.8,171.8 529.0,171.8 529.2,171.8 529.5,171.7 529.8,171.7 530.0,171.7 530.2,171.7 530.5,171.7 530.8,171.7 531.0,171.7 531.2,171.7 531.5,171.7 531.8,171.7 532.0,171.7 532.2,171.6 532.5,171.6 532.8,171.6 533.0,171.6 533.2,171.6 533.5,171.6 533.8,171.6 534.0,171.6 534.2,171.6 534.5,171.5 534.8,171.5 535.0,171.5 535.2,171.5 535.5,171.5 535.8,171.5 536.0,171.5 536.2,171.5 536.5,171.5 536.8,171.4 537.0,171.4 537.2,171.4 537.5,171.4 537.8,171.4 538.0,171.4 538.2,171.4 538.5,171.3 538.8,171.3 539.0,171.3 539.2,171.3 539.5,171.3 539.8,171.3 540.0,171.2 540.2,171.2 540.5,171.2 540.8,171.2 541.0,171.2 541.2,171.2 541.5,171.1 541.8,171.1 542.0,171.1 542.2,171.1 542.5,171.1 542.8,171.0 543.0,171.0 543.2,171.0 543.5,171.0 543.8,171.0 544.0,170.9 544.2,170.9 544.5,170.9 544.8,170.9 545.0,170.8 545.2,170.8 545.5,170.8 545.8,170.7 546.0,170.7 546.2,170.7 546.5,170.7 546.8,170.6 547.0,170.6 547.2,170.6 547.5,170.5 547.8,170.5 548.0,170.4 548.2,170.4 548.5,170.4 548.8,170.3 549.0,170.3 549.2,170.2 549.5,170.2 549.8,170.1 550.0,170.1 550.2,170.0 550.5,170.0 550.8,169.9 551.0,169.9 551.2,169.8 551.5,169.7 551.8,169.7 552.0,169.6 552.2,169.5 552.5,169.5 552.8,169.4 553.0,169.3 553.2,169.2 553.5,169.2 553.8,169.1 554.0,169.0 554.2,168.9 554.5,168.8 554.8,168.7 555.0,168.6 555.2,168.5 555.5,168.4 555.8,168.3 556.0,168.1 556.2,168.0 556.5,167.9 556.8,167.8 557.0,167.6 557.2,167.5 557.5,167.3 557.8,167.2 558.0,167.0 558.2,166.9 558.5,166.7 558.8,166.5 559.0,166.3 559.2,166.1 559.5,165.9 559.8,165.7 560.0,165.5 560.2,165.3 560.5,165.1 560.8,164.9 561.0,164.6 561.2,164.4 561.5,164.1 561.8,163.9 562.0,163.6 562.2,163.3 562.5,163.0 562.8,162.7 563.0,162.4 563.2,162.1 563.5,161.8 563.8,161.4 564.0,161.1 564.2,160.7 564.5,160.3 564.8,159.9 565.0,159.5 565.2,159.1 565.5,158.7 565.8,158.3 566.0,157.8 566.2,157.4 566.5,156.9 566.8,156.4 567.0,155.9 567.2,155.4 567.5,154.9 567.8,154.3 568.0,153.8 568.2,153.2 568.5,152.6 568.8,152.0 569.0,151.4 569.2,150.8 569.5,150.1 569.8,149.5 570.0,148.8 570.2,148.1 570.5,147.4 570.8,146.7 571.0,145.9 571.2,145.2 571.5,144.4 571.8,143.6 572.0,142.8 572.2,142.0 572.5,141.1 572.8,140.3 573.0,139.4 573.2,138.5 573.5,137.6 573.8,136.7 574.0,135.7 574.2,134.8 574.5,133.8 574.8,132.8 575.0,131.8 575.2,130.7 575.5,129.7 575.8,128.6 576.0,127.6 576.2,126.5 576.5,125.3 576.8,124.2 577.0,123.1 577.2,121.9 577.5,120.7 577.8,119.5 578.0,118.3 578.2,117.1 578.5,115.9 578.8,114.6 579.0,113.3 579.2,112.1 579.5,110.8 579.8,109.5 580.0,108.1 580.2,106.8 580.5,105.5 580.8,104.1 581.0,102.7 581.2,101.4 581.5,100.0 581.8,98.6 582.0,97.2 582.2,95.8 582.5,94.4 582.8,93.0 583.0,91.5 583.2,90.1 583.5,88.7 583.8,87.2 584.0,85.8 584.2,84.4 584.5,82.9 584.8,81.5 585.0,80.0 585.2,78.6 585.5,77.2 585.8,75.7 586.0,74.3 586.2,72.9 586.5,71.5 586.8,70.1 587.0,68.7 587.2,67.3 587.5,65.9 587.8,64.6 588.0,63.2 588.2,61.9 588.5,60.6 588.8,59.3 589.0,58.0 589.2,56.7 589.5,55.4 589.8,54.2 590.0,53.0 590.2,51.8 590.5,50.6 590.8,49.5 591.0,48.4 591.2,47.3 591.5,46.2 591.8,45.2 592.0,44.2 592.2,43.2 592.5,42.2 592.8,41.3 593.0,40.5 593.2,39.6 593.5,38.8 593.8,38.1 594.0,37.4 594.2,36.7 594.5,36.0 594.8,35.4 595.0,34.9 595.2,34.3 595.5,33.9 595.8,33.4 596.0,33.0 596.2,32.7 596.5,32.4 596.8,32.1 597.0,31.9 597.2,31.7 597.5,31.6 597.8,31.5 598.0,31.5 598.2,31.5 598.5,31.6 598.8,31.7 599.0,31.9 599.2,32.1 599.5,32.3 599.8,32.6 600.0,32.9 600.2,33.3 600.5,33.7 600.8,34.2 601.0,34.7 601.2,35.2 601.5,35.8 601.8,36.4 602.0,37.1 602.2,37.8 602.5,38.5 602.8,39.3 603.0,40.1 603.2,40.9 603.5,41.8 603.8,42.7 604.0,43.6 604.2,44.6 604.5,45.6 604.8,46.6 605.0,47.7 605.2,48.8 605.5,49.9 605.8,51.0 606.0,52.2 606.2,53.3 606.5,54.6 606.8,55.8 607.0,57.0 607.2,58.3 607.5,59.6 607.8,60.9 608.0,62.3 608.2,63.6 608.5,65.0 608.8,66.4 609.0,67.8 609.2,69.2 609.5,70.6 609.8,72.0 610.0,73.5 610.2,74.9 610.5,76.4 610.8,77.8 611.0,79.3 611.2,80.8 611.5,82.3 611.8,83.8 612.0,85.2 612.2,86.7 612.5,88.2 612.8,89.7 613.0,91.2 613.2,92.6 613.5,94.1 613.8,95.6 614.0,97.0 614.2,98.5 614.5,99.9 614.8,101.4 615.0,102.8 615.2,104.3 615.5,105.7 615.8,107.1 616.0,108.5 616.2,109.9 616.5,111.3 616.8,112.7 617.0,114.1 617.2,115.5 617.5,116.8 617.8,118.2 618.0,119.5 618.2,120.8 618.5,122.2 618.8,123.5 619.0,124.7 619.2,126.0 619.5,127.3 619.8,128.5 620.0,129.8 620.2,131.0 620.5,132.2 620.8,133.4 621.0,134.5 621.2,135.7 621.5,136.8 621.8,137.9 622.0,139.0 622.2,140.1 622.5,141.2 622.8,142.3 623.0,143.3 623.2,144.3 623.5,145.3 623.8,146.3 624.0,147.3 624.2,148.2 624.5,149.2 624.8,150.1 625.0,151.0 625.2,151.9 625.5,152.8 625.8,153.6 626.0,154.4 626.2,155.3 626.5,156.1 626.8,156.9 627.0,157.6 627.2,158.4 627.5,159.1 627.8,159.9 628.0,160.6 628.2,161.3 628.5,161.9 628.8,162.6 629.0,163.2 629.2,163.9 629.5,164.5 629.8,165.1 630.0,165.7 630.2,166.3 630.5,166.8 630.8,167.4 631.0,167.9 631.2,168.4 631.5,169.0 631.8,169.5 632.0,169.9 632.2,170.4 632.5,170.9 632.8,171.3 633.0,171.8 633.2,172.2 633.5,172.6 633.8,173.0 634.0,173.4 634.2,173.8 634.5,174.1 634.8,174.5 635.0,174.8 635.2,175.2 635.5,175.5 635.8,175.8 636.0,176.1 636.2,176.4 636.5,176.7 636.8,177.0 637.0,177.3 637.2,177.6 637.5,177.8 637.8,178.1 638.0,178.3 638.2,178.5 638.5,178.8 638.8,179.0 639.0,179.2 639.2,179.4 639.5,179.6 639.8,179.8 640.0,180.0 640.2,180.2 640.5,180.4 640.8,180.5 641.0,180.7 641.2,180.9 641.5,181.0 641.8,181.2 642.0,181.3 642.2,181.5 642.5,181.6 642.8,181.7 643.0,181.9 643.2,182.0 643.5,182.1 643.8,182.2 644.0,182.3 644.2,182.4 644.5,182.6 644.8,182.7 645.0,182.8 645.2,182.9 645.5,182.9 645.8,183.0 646.0,183.1 646.2,183.2 646.5,183.3 646.8,183.4 647.0,183.4 647.2,183.5 647.5,183.6 647.8,183.7 648.0,183.7 648.2,183.8 648.5,183.9 648.8,183.9 649.0,184.0 649.2,184.0 649.5,184.1 649.8,184.2 650.0,184.2 650.2,184.3 650.5,184.3 650.8,184.4 651.0,184.4 651.2,184.5 651.5,184.5 651.8,184.5 652.0,184.6 652.2,184.6 652.5,184.7 652.8,184.7 653.0,184.8 653.2,184.8 653.5,184.8 653.8,184.9 654.0,184.9 654.2,184.9 654.5,185.0 654.8,185.0 655.0,185.0 655.2,185.1 655.5,185.1 655.8,185.1 656.0,185.2 656.2,185.2 656.5,185.2 656.8,185.2 657.0,185.3 657.2,185.3 657.5,185.3 657.8,185.3 658.0,185.4 658.2,185.4 658.5,185.4 658.8,185.4 659.0,185.5 659.2,185.5 659.5,185.5 659.8,185.5 660.0,185.5 660.2,185.6 660.5,185.6 660.8,185.6 661.0,185.6 661.2,185.7 661.5,185.7 661.8,185.7 662.0,185.7 662.2,185.7 662.5,185.7 662.8,185.8 663.0,185.8 663.2,185.8 663.5,185.8 663.8,185.8 664.0,185.8 664.2,185.9 664.5,185.9 664.8,185.9 665.0,185.9 665.2,185.9 665.5,185.9 665.8,186.0 666.0,186.0 666.2,186.0 666.5,186.0 666.8,186.0 667.0,186.0 667.2,186.0 667.5,186.1 667.8,186.1 668.0,186.1 668.2,186.1 668.5,186.1 668.8,186.1 669.0,186.1 669.2,186.2 669.5,186.2 669.8,186.2" fill="none" stroke="#c020c8" stroke-width="1.1" stroke-linejoin="round" stroke-linecap="round" opacity="1.0"/>
<path d="M401.0,167.1h0M403.5,167.2h0M405.9,167.2h0M408.4,167.3h0M410.8,167.4h0M413.3,167.5h0M415.8,167.6h0M418.2,167.7h0M420.7,167.8h0M423.1,167.9h0M425.6,168.0h0M428.1,168.1h0M430.5,168.2h0M433.0,168.3h0M435.4,168.5h0M437.9,168.6h0M440.4,168.7h0M442.8,168.9h0M445.3,169.0h0M447.7,169.2h0M450.2,169.4h0M452.7,169.6h0M455.1,169.9h0M457.6,170.1h0M460.0,170.3h0M462.5,170.6h0M465.0,170.8h0M467.4,171.0h0M469.9,171.2h0M472.3,171.4h0M474.8,171.5h0M477.3,171.6h0M479.7,171.7h0M482.2,171.8h0M484.6,171.9h0M487.1,171.9h0M489.6,172.0h0M492.0,172.0h0M494.5,172.1h0M496.9,172.1h0M499.4,172.1h0M501.9,172.1h0M504.3,172.1h0M506.8,172.1h0M509.2,172.1h0M511.7,172.1h0M514.2,172.1h0M516.6,172.1h0M519.1,172.0h0M521.5,172.0h0M524.0,171.9h0M526.5,171.8h0M528.9,171.8h0M531.4,171.7h0M533.8,171.6h0M536.3,171.5h0M538.8,171.3h0M541.2,171.2h0M543.7,171.0h0M546.1,170.7h0M548.6,170.3h0M551.1,169.9h0M553.5,169.2h0M556.0,168.2h0M558.4,166.7h0M560.9,164.7h0M563.4,161.9h0M565.8,158.2h0M568.3,153.1h0M570.7,146.7h0M573.2,138.7h0M575.7,129.0h0M578.1,117.7h0M580.6,105.0h0M583.0,91.3h0M585.5,77.2h0M588.0,63.4h0M590.4,51.0h0M592.9,40.9h0M595.3,34.2h0M597.8,31.5h0M600.3,33.3h0M602.7,39.2h0M605.2,48.5h0M607.6,60.4h0M610.1,74.1h0M612.6,88.6h0M615.0,102.9h0M617.5,116.7h0M619.9,129.5h0M622.4,140.8h0M624.9,150.5h0M627.3,158.6h0M629.8,165.2h0M632.2,170.4h0M634.7,174.4h0M637.2,177.5h0M639.6,179.7h0M642.1,181.4h0M644.5,182.6h0M647.0,183.4h0M649.5,184.1h0M651.9,184.6h0M654.4,185.0h0M656.8,185.2h0M659.3,185.5h0M661.8,185.7h0M664.2,185.9h0M666.7,186.0h0M669.1,186.1h0" stroke="#c21cc4" stroke-width="2.90" stroke-linecap="round" fill="none" opacity="1.0"/>
<path d="M410.8,161.4h0M413.3,160.2h0M415.8,155.9h0M425.6,150.9h0M435.4,138.6h0M447.7,128.3h0M460.0,123.6h0M462.5,123.5h0M465.0,125.2h0M467.4,126.2h0M469.9,129.1h0M482.2,146.8h0M484.6,148.4h0M494.5,158.1h0M499.4,160.0h0M509.2,168.3h0M514.2,169.5h0M533.8,170.7h0M546.1,170.2h0M548.6,169.8h0M568.3,152.9h0M573.2,137.3h0M578.1,118.2h0M580.6,106.8h0M590.4,47.9h0M592.9,41.4h0M605.2,46.6h0M615.0,100.7h0M617.5,115.4h0M624.9,150.8h0M632.2,169.7h0M647.0,183.2h0" stroke="#111" stroke-width="2.40" stroke-linecap="round" fill="none" opacity="0.9"/>
<rect x="400.0" y="7.6" width="270.5" height="207.5" fill="none" stroke="#2e2e2e" stroke-width="1.5"/>
<path d="M646.00,215.1 v-4.00 M646.00,7.6 v4.00 M621.40,215.1 v-2.20 M621.40,7.6 v2.20 M596.80,215.1 v-4.00 M596.80,7.6 v4.00 M572.20,215.1 v-2.20 M572.20,7.6 v2.20 M547.60,215.1 v-4.00 M547.60,7.6 v4.00 M523.00,215.1 v-2.20 M523.00,7.6 v2.20 M498.40,215.1 v-4.00 M498.40,7.6 v4.00 M473.80,215.1 v-2.20 M473.80,7.6 v2.20 M449.20,215.1 v-4.00 M449.20,7.6 v4.00 M424.60,215.1 v-2.20 M424.60,7.6 v2.20 M400.0,24.89 h2.20 M670.5,24.89 h-2.20 M400.0,42.18 h4.00 M670.5,42.18 h-4.00 M400.0,59.48 h2.20 M670.5,59.48 h-2.20 M400.0,76.77 h4.00 M670.5,76.77 h-4.00 M400.0,94.06 h2.20 M670.5,94.06 h-2.20 M400.0,111.35 h4.00 M670.5,111.35 h-4.00 M400.0,128.64 h2.20 M670.5,128.64 h-2.20 M400.0,145.93 h4.00 M670.5,145.93 h-4.00 M400.0,163.22 h2.20 M670.5,163.22 h-2.20 M400.0,180.52 h4.00 M670.5,180.52 h-4.00 M400.0,197.81 h2.20 M670.5,197.81 h-2.20" stroke="#2e2e2e" stroke-width="1.2" fill="none"/>
<text x="400.0" y="226.4" font-family="Liberation Sans, sans-serif" font-size="7.6" font-weight="normal" text-anchor="middle" fill="#3a3a3a" letter-spacing="0.5">466</text>
<text x="449.2" y="226.4" font-family="Liberation Sans, sans-serif" font-size="7.6" font-weight="normal" text-anchor="middle" fill="#3a3a3a" letter-spacing="0.5">464</text>
<text x="498.4" y="226.4" font-family="Liberation Sans, sans-serif" font-size="7.6" font-weight="normal" text-anchor="middle" fill="#3a3a3a" letter-spacing="0.5">462</text>
<text x="547.6" y="226.4" font-family="Liberation Sans, sans-serif" font-size="7.6" font-weight="normal" text-anchor="middle" fill="#3a3a3a" letter-spacing="0.5">460</text>
<text x="596.8" y="226.4" font-family="Liberation Sans, sans-serif" font-size="7.6" font-weight="normal" text-anchor="middle" fill="#3a3a3a" letter-spacing="0.5">458</text>
<text x="646.0" y="226.4" font-family="Liberation Sans, sans-serif" font-size="7.6" font-weight="normal" text-anchor="middle" fill="#3a3a3a" letter-spacing="0.5">456</text>
<text x="0" y="0" transform="translate(373.7 10.0) scale(1.27 1)" font-family="Liberation Serif, sans-serif" font-size="9.5" font-weight="normal" text-anchor="start" fill="#1e1e1e">(b)</text>
<text x="419.6" y="25.6" font-family="Liberation Sans, sans-serif" font-size="9.3" font-weight="normal" text-anchor="start" fill="#1e1e1e" letter-spacing="0.4">Ti2p</text>
<text x="447.0" y="103.6" font-family="Liberation Sans, sans-serif" font-size="9.5" font-weight="normal" text-anchor="start" fill="#1e1e1e" letter-spacing="0.3">Ti2p<tspan dx="0.6" dy="3.6" font-size="8.3" letter-spacing="0.2">1/2</tspan></text>
<text x="593.3" y="18.9" font-family="Liberation Sans, sans-serif" font-size="9.4" font-weight="normal" text-anchor="start" fill="#1e1e1e" letter-spacing="0.45">Ti2p<tspan dx="0.6" dy="4.5" font-size="8.3" letter-spacing="0.3">3/2</tspan></text>
<path d="M455.20,121.50 L457.48,110.50" stroke="#111" stroke-width="0.75" fill="none"/>
<path d="M458.50,105.60 L458.95,110.80 L456.02,110.19 Z" fill="#111"/>
<path d="M600.20,31.60 L604.61,24.71" stroke="#111" stroke-width="0.75" fill="none"/>
<path d="M607.30,20.50 L605.87,25.52 L603.34,23.90 Z" fill="#111"/>
<text x="0" y="0" transform="translate(380.2 116.8) rotate(-90)" font-family="Liberation Sans, sans-serif" font-size="9.0" font-weight="bold" text-anchor="middle" fill="#1e1e1e" letter-spacing="0.25" stroke="#1e1e1e" stroke-width="0.3">Intensity (arb. units)</text>
<text x="534.5" y="241.0" font-family="Liberation Sans, sans-serif" font-size="9.0" font-weight="bold" text-anchor="middle" fill="#1e1e1e" letter-spacing="0.2">Binding energy (ev)</text>
<path d="M160.2,428.6 160.5,428.6 160.8,428.5 161.0,428.5 161.2,428.4 161.5,428.4 161.8,428.3 162.0,428.2 162.2,428.2 162.5,428.1 162.8,428.1 163.0,428.0 163.2,427.9 163.5,427.9 163.8,427.8 164.0,427.7 164.2,427.6 164.5,427.6 164.8,427.5 165.0,427.4 165.2,427.3 165.5,427.2 165.8,427.1 166.0,427.1 166.2,427.0 166.5,426.9 166.8,426.8 167.0,426.7 167.2,426.6 167.5,426.5 167.8,426.4 168.0,426.3 168.2,426.1 168.5,426.0 168.8,425.9 169.0,425.8 169.2,425.7 169.5,425.5 169.8,425.4 170.0,425.3 170.2,425.1 170.5,425.0 170.8,424.8 171.0,424.7 171.2,424.5 171.5,424.4 171.8,424.2 172.0,424.0 172.2,423.9 172.5,423.7 172.8,423.5 173.0,423.3 173.2,423.1 173.5,422.9 173.8,422.7 174.0,422.5 174.2,422.3 174.5,422.1 174.8,421.9 175.0,421.7 175.2,421.4 175.5,421.2 175.8,421.0 176.0,420.7 176.2,420.5 176.5,420.2 176.8,419.9 177.0,419.7 177.2,419.4 177.5,419.1 177.8,418.8 178.0,418.5 178.2,418.2 178.5,417.9 178.8,417.6 179.0,417.3 179.2,417.0 179.5,416.7 179.8,416.3 180.0,416.0 180.2,415.6 180.5,415.3 180.8,414.9 181.0,414.6 181.2,414.2 181.5,413.8 181.8,413.5 182.0,413.1 182.2,412.7 182.5,412.3 182.8,411.9 183.0,411.5 183.2,411.0 183.5,410.6 183.8,410.2 184.0,409.8 184.2,409.3 184.5,408.9 184.8,408.5 185.0,408.0 185.2,407.6 185.5,407.1 185.8,406.7 186.0,406.2 186.2,405.7 186.5,405.3 186.8,404.8 187.0,404.3 187.2,403.9 187.5,403.4 187.8,402.9 188.0,402.4 188.2,401.9 188.5,401.5 188.8,401.0 189.0,400.5 189.2,400.0 189.5,399.6 189.8,399.1 190.0,398.6 190.2,398.2 190.5,397.7 190.8,397.3 191.0,396.8 191.2,396.4 191.5,395.9 191.8,395.5 192.0,395.1 192.2,394.7 192.5,394.3 192.8,393.9 193.0,393.5 193.2,393.2 193.5,392.8 193.8,392.5 194.0,392.1 194.2,391.8 194.5,391.5 194.8,391.2 195.0,391.0 195.2,390.7 195.5,390.5 195.8,390.3 196.0,390.1 196.2,389.9 196.5,389.8 196.8,389.7 197.0,389.5 197.2,389.5 197.5,389.4 197.8,389.4 198.0,389.3 198.2,389.3 198.5,389.4 198.8,389.4 199.0,389.5 199.2,389.6 199.5,389.8 199.8,390.0 200.0,390.2 200.2,390.5 200.5,390.8 200.8,391.1 201.0,391.5 201.2,391.9 201.5,392.3 201.8,392.7 202.0,393.2 202.2,393.7 202.5,394.2 202.8,394.7 203.0,395.3 203.2,395.9 203.5,396.5 203.8,397.1 204.0,397.7 204.2,398.3 204.5,398.9 204.8,399.6 205.0,400.2 205.2,400.9 205.5,401.6 205.8,402.2 206.0,402.9 206.2,403.6 206.5,404.3 206.8,404.9 207.0,405.6 207.2,406.3 207.5,407.0 207.8,407.6 208.0,408.3 208.2,409.0 208.5,409.6 208.8,410.3 209.0,411.0 209.2,411.6 209.5,412.2 209.8,412.9 210.0,413.5 210.2,414.1 210.5,414.7 210.8,415.3 211.0,415.9 211.2,416.5 211.5,417.1 211.8,417.7 212.0,418.2 212.2,418.8 212.5,419.3 212.8,419.8 213.0,420.4 213.2,420.9 213.5,421.4 213.8,421.9 214.0,422.4 214.2,422.8 214.5,423.3 214.8,423.7 215.0,424.2 215.2,424.6 215.5,425.1 215.8,425.5 216.0,425.9 216.2,426.3 216.5,426.7 216.8,427.0 217.0,427.4 217.2,427.8 217.5,428.1 217.8,428.5 218.0,428.8 218.2,429.1 218.5,429.5 218.8,429.8 219.0,430.1 219.2,430.4 219.5,430.6 219.8,430.9 220.0,431.2 220.2,431.5 220.5,431.7 220.8,432.0 221.0,432.2 221.2,432.4 221.5,432.7 221.8,432.9 222.0,433.1 222.2,433.3 222.5,433.5 222.8,433.7 223.0,433.9 223.2,434.1 223.5,434.3 223.8,434.5 224.0,434.6 224.2,434.8 224.5,435.0 224.8,435.1 225.0,435.3 225.2,435.4 225.5,435.5 225.8,435.7 226.0,435.8 226.2,435.9 226.5,436.1 226.8,436.2 227.0,436.3 227.2,436.4 227.5,436.6 227.8,436.7 228.0,436.8 228.2,436.9 228.5,437.0 228.8,437.1 229.0,437.2 229.2,437.3 229.5,437.4 229.8,437.5 230.0,437.6 230.2,437.7 230.5,437.8 230.8,437.9 231.0,438.0 231.2,438.0 231.5,438.1 231.8,438.2 232.0,438.3 232.2,438.4 232.5,438.5 232.8,438.5 233.0,438.6 233.2,438.7 233.5,438.8 233.8,438.8 234.0,438.9 234.2,439.0 234.5,439.0 234.8,439.1 235.0,439.2 235.2,439.2 235.5,439.3 235.8,439.4 236.0,439.4 236.2,439.5 236.5,439.6 236.8,439.6 237.0,439.7 237.2,439.7 237.5,439.8 237.8,439.9 238.0,439.9 238.2,440.0 238.5,440.0 238.8,440.1 239.0,440.1 239.2,440.2 239.5,440.2 239.8,440.3 240.0,440.3 240.2,440.4 240.5,440.4 240.8,440.5 241.0,440.5 241.2,440.6 241.5,440.6 241.8,440.7 242.0,440.7 242.2,440.8 242.5,440.8 242.8,440.9 243.0,440.9 243.2,441.0 243.5,441.0 243.8,441.0 244.0,441.1 244.2,441.1 244.5,441.2 244.8,441.2 245.0,441.2 245.2,441.3 245.5,441.3 245.8,441.4 246.0,441.4 246.2,441.4 246.5,441.5 246.8,441.5 247.0,441.5 247.2,441.6 247.5,441.6 247.8,441.6 248.0,441.7 248.2,441.7 248.5,441.7 248.8,441.8 249.0,441.8 249.2,441.8 249.5,441.8 249.8,441.9 250.0,441.9 250.2,441.9 250.5,441.9 250.8,442.0 251.0,442.0 251.2,442.0 251.5,442.0 251.8,442.1 252.0,442.1 252.2,442.1 252.5,442.1 252.8,442.2 253.0,442.2 253.2,442.2 253.5,442.2 253.8,442.3 254.0,442.3 254.2,442.3 254.5,442.3 254.8,442.3 255.0,442.4 255.2,442.4 255.5,442.4 255.8,442.4 256.0,442.4 256.2,442.5 256.5,442.5 256.8,442.5 257.0,442.5 257.2,442.5 257.5,442.6 257.8,442.6 258.0,442.6 258.2,442.6 258.5,442.6 258.8,442.6 259.0,442.7 259.2,442.7 259.5,442.7 259.8,442.7 260.0,442.7 260.2,442.7 260.5,442.8 260.8,442.8 261.0,442.8 261.2,442.8 261.5,442.8 261.8,442.8 262.0,442.8" fill="none" stroke="#7a0e14" stroke-width="1.5" stroke-linejoin="round" stroke-linecap="round" opacity="1.0"/>
<path d="M160.2,428.6h0M162.5,428.1h0M164.7,427.5h0M166.9,426.7h0M169.0,425.8h0M171.0,424.7h0M172.9,423.4h0M174.7,422.0h0M176.3,420.4h0M177.9,418.7h0M179.3,416.9h0M180.7,415.0h0M182.0,413.1h0M183.2,411.2h0M184.3,409.2h0M185.5,407.2h0M186.6,405.1h0M187.6,403.1h0M188.7,401.1h0M189.8,399.0h0M190.9,397.0h0M192.0,395.0h0M193.3,393.1h0M194.7,391.3h0M196.5,389.8h0M198.7,389.4h0M200.5,390.8h0M201.7,392.7h0M202.7,394.7h0M203.7,396.9h0M204.5,399.0h0M205.3,401.1h0M206.1,403.3h0M206.9,405.4h0M207.7,407.6h0M208.5,409.8h0M209.4,411.9h0M210.2,414.0h0M211.1,416.2h0M212.0,418.3h0M213.0,420.4h0M214.0,422.4h0M215.1,424.4h0M216.3,426.4h0M217.6,428.3h0M219.0,430.1h0M220.6,431.8h0M222.3,433.4h0M224.1,434.7h0M226.1,435.9h0M228.2,436.9h0M230.3,437.7h0M232.5,438.5h0M234.7,439.1h0M236.9,439.7h0M239.2,440.2h0M241.4,440.6h0M243.7,441.0h0M246.0,441.4h0M248.3,441.7h0M250.5,442.0h0M252.8,442.2h0M255.1,442.4h0M257.4,442.5h0M259.7,442.7h0" stroke="#7a0e14" stroke-width="2.50" stroke-linecap="round" fill="none" opacity="1.0"/>
<path d="M250.0,441.9 250.2,441.9 250.5,441.9 250.8,442.0 251.0,442.0 251.2,442.0 251.5,442.0 251.8,442.1 252.0,442.1 252.2,442.1 252.5,442.1 252.8,442.2 253.0,442.2 253.2,442.2 253.5,442.2 253.8,442.3 254.0,442.3 254.2,442.3 254.5,442.3 254.8,442.3 255.0,442.4 255.2,442.4 255.5,442.4 255.8,442.4 256.0,442.4 256.2,442.5 256.5,442.5 256.8,442.5 257.0,442.5 257.2,442.5 257.5,442.6 257.8,442.6 258.0,442.6 258.2,442.6 258.5,442.6 258.8,442.6 259.0,442.7 259.2,442.7 259.5,442.7 259.8,442.7 260.0,442.7 260.2,442.7 260.5,442.8 260.8,442.8 261.0,442.8 261.2,442.8 261.5,442.8 261.8,442.8 262.0,442.8 262.2,442.9 262.5,442.9 262.8,442.9 263.0,442.9 263.2,442.9 263.5,442.9 263.8,442.9 264.0,443.0 264.2,443.0 264.5,443.0 264.8,443.0 265.0,443.0 265.2,443.0 265.5,443.0 265.8,443.1 266.0,443.1 266.2,443.1 266.5,443.1 266.8,443.1 267.0,443.1 267.2,443.1 267.5,443.1 267.8,443.2 268.0,443.2 268.2,443.2 268.5,443.2 268.8,443.2 269.0,443.2 269.2,443.2 269.5,443.2 269.8,443.3 270.0,443.3 270.2,443.3 270.5,443.3 270.8,443.3 271.0,443.3 271.2,443.3 271.5,443.3 271.8,443.4 272.0,443.4 272.2,443.4 272.5,443.4 272.8,443.4 273.0,443.4 273.2,443.4 273.5,443.5 273.8,443.5 274.0,443.5 274.2,443.5 274.5,443.5 274.8,443.5 275.0,443.5 275.2,443.5 275.5,443.6 275.8,443.6 276.0,443.6 276.2,443.6 276.5,443.6 276.8,443.6 277.0,443.6 277.2,443.7 277.5,443.7 277.8,443.7 278.0,443.7 278.2,443.7 278.5,443.7 278.8,443.7 279.0,443.8 279.2,443.8 279.5,443.8 279.8,443.8 280.0,443.8 280.2,443.8 280.5,443.9 280.8,443.9 281.0,443.9 281.2,443.9 281.5,443.9 281.8,443.9 282.0,444.0 282.2,444.0 282.5,444.0 282.8,444.0 283.0,444.0 283.2,444.0 283.5,444.1 283.8,444.1 284.0,444.1 284.2,444.1 284.5,444.1 284.8,444.2 285.0,444.2 285.2,444.2 285.5,444.2 285.8,444.2 286.0,444.3 286.2,444.3 286.5,444.3 286.8,444.3 287.0,444.3 287.2,444.4 287.5,444.4 287.8,444.4 288.0,444.4 288.2,444.4 288.5,444.5 288.8,444.5 289.0,444.5 289.2,444.5 289.5,444.6 289.8,444.6 290.0,444.6 290.2,444.6 290.5,444.6 290.8,444.7 291.0,444.7 291.2,444.7 291.5,444.7 291.8,444.8 292.0,444.8 292.2,444.8 292.5,444.8 292.8,444.8 293.0,444.9 293.2,444.9 293.5,444.9 293.8,444.9 294.0,445.0 294.2,445.0 294.5,445.0 294.8,445.0 295.0,445.1 295.2,445.1 295.5,445.1 295.8,445.1 296.0,445.2 296.2,445.2 296.5,445.2 296.8,445.2 297.0,445.2 297.2,445.3 297.5,445.3 297.8,445.3 298.0,445.3 298.2,445.4 298.5,445.4 298.8,445.4 299.0,445.4 299.2,445.5 299.5,445.5 299.8,445.5 300.0,445.5 300.2,445.6 300.5,445.6 300.8,445.6 301.0,445.6 301.2,445.6 301.5,445.7 301.8,445.7 302.0,445.7 302.2,445.7 302.5,445.8 302.8,445.8 303.0,445.8 303.2,445.8 303.5,445.9 303.8,445.9 304.0,445.9 304.2,445.9 304.5,445.9 304.8,446.0 305.0,446.0 305.2,446.0 305.5,446.0 305.8,446.0 306.0,446.1 306.2,446.1 306.5,446.1 306.8,446.1 307.0,446.2 307.2,446.2 307.5,446.2 307.8,446.2 308.0,446.2 308.2,446.3 308.5,446.3 308.8,446.3 309.0,446.3 309.2,446.3 309.5,446.3 309.8,446.4 310.0,446.4 310.2,446.4 310.5,446.4 310.8,446.4 311.0,446.5 311.2,446.5 311.5,446.5 311.8,446.5 312.0,446.5 312.2,446.5 312.5,446.6 312.8,446.6 313.0,446.6 313.2,446.6 313.5,446.6 313.8,446.6 314.0,446.7 314.2,446.7 314.5,446.7 314.8,446.7 315.0,446.7 315.2,446.7 315.5,446.7 315.8,446.8 316.0,446.8 316.2,446.8 316.5,446.8 316.8,446.8 317.0,446.8 317.2,446.8 317.5,446.8 317.8,446.9 318.0,446.9 318.2,446.9 318.5,446.9 318.8,446.9 319.0,446.9 319.2,446.9 319.5,446.9 319.8,446.9 320.0,446.9 320.2,447.0 320.5,447.0 320.8,447.0 321.0,447.0 321.2,447.0 321.5,447.0 321.8,447.0 322.0,447.0 322.2,447.0 322.5,447.0 322.8,447.0 323.0,447.1 323.2,447.1 323.5,447.1 323.8,447.1 324.0,447.1 324.2,447.1 324.5,447.1 324.8,447.1 325.0,447.1 325.2,447.1 325.5,447.1 325.8,447.2 326.0,447.2 326.2,447.2 326.5,447.2 326.8,447.2 327.0,447.2 327.2,447.2 327.5,447.2 327.8,447.2 328.0,447.2 328.2,447.3 328.5,447.3 328.8,447.3 329.0,447.3 329.2,447.3 329.5,447.3 329.8,447.3 330.0,447.3 330.2,447.3 330.5,447.3 330.8,447.4 331.0,447.4 331.2,447.4 331.5,447.4 331.8,447.4 332.0,447.4 332.2,447.4 332.5,447.4 332.8,447.5 333.0,447.5 333.2,447.5 333.5,447.5 333.8,447.5 334.0,447.5 334.2,447.5 334.5,447.6 334.8,447.6 335.0,447.6 335.2,447.6 335.5,447.6 335.8,447.6 336.0,447.7 336.2,447.7 336.5,447.7 336.8,447.7 337.0,447.8 337.2,447.8 337.5,447.8 337.8,447.8 338.0,447.9 338.2,447.9 338.5,447.9 338.8,447.9 339.0,448.0 339.2,448.0 339.5,448.0 339.8,448.1 340.0,448.1 340.2,448.1 340.5,448.2 340.8,448.2 341.0,448.2 341.2,448.3 341.5,448.3 341.8,448.3 342.0,448.4 342.2,448.4 342.5,448.5 342.8,448.5 343.0,448.5 343.2,448.6 343.5,448.6 343.8,448.7 344.0,448.7 344.2,448.7 344.5,448.8 344.8,448.8 345.0,448.9 345.2,448.9 345.5,448.9 345.8,449.0 346.0,449.0 346.2,449.1 346.5,449.1 346.8,449.2 347.0,449.2 347.2,449.2 347.5,449.3 347.8,449.3 348.0,449.4 348.2,449.4 348.5,449.4 348.8,449.5 349.0,449.5 349.2,449.6 349.5,449.6 349.8,449.7 350.0,449.7 350.2,449.7 350.5,449.8 350.8,449.8 351.0,449.9 351.2,449.9 351.5,449.9 351.8,450.0 352.0,450.0 352.2,450.0 352.5,450.1 352.8,450.1 353.0,450.2 353.2,450.2 353.5,450.2 353.8,450.3 354.0,450.3 354.2,450.3 354.5,450.4 354.8,450.4 355.0,450.4 355.2,450.5 355.5,450.5 355.8,450.5 356.0,450.5 356.2,450.6 356.5,450.6 356.8,450.6 357.0,450.6 357.2,450.7 357.5,450.7 357.8,450.7 358.0,450.7 358.2,450.8 358.5,450.8 358.8,450.8 359.0,450.8 359.2,450.9 359.5,450.9 359.8,450.9 360.0,450.9 360.2,450.9 360.5,451.0 360.8,451.0 361.0,451.0 361.2,451.0 361.5,451.0 361.8,451.1 362.0,451.1 362.2,451.1 362.5,451.1 362.8,451.2 363.0,451.2 363.2,451.2 363.5,451.2 363.8,451.2 364.0,451.2 364.2,451.3 364.5,451.3 364.8,451.3 365.0,451.3 365.2,451.3 365.5,451.4 365.8,451.4 366.0,451.4 366.2,451.4 366.5,451.4 366.8,451.5 367.0,451.5 367.2,451.5 367.5,451.5 367.8,451.5 368.0,451.5 368.2,451.6 368.5,451.6 368.8,451.6 369.0,451.6 369.2,451.6 369.5,451.6 369.8,451.7 370.0,451.7 370.2,451.7 370.5,451.7 370.8,451.7 371.0,451.7 371.2,451.8 371.5,451.8 371.8,451.8 372.0,451.8 372.2,451.8 372.5,451.8 372.8,451.9 373.0,451.9 373.2,451.9 373.5,451.9 373.8,451.9 374.0,452.0 374.2,452.0 374.5,452.0 374.8,452.0 375.0,452.0 375.2,452.0 375.5,452.1 375.8,452.1 376.0,452.1 376.2,452.1 376.5,452.1 376.8,452.1 377.0,452.2 377.2,452.2 377.5,452.2 377.8,452.2 378.0,452.2 378.2,452.3 378.5,452.3 378.8,452.3 379.0,452.3 379.2,452.3 379.5,452.3 379.8,452.4 380.0,452.4 380.2,452.4 380.5,452.4 380.8,452.4 381.0,452.5 381.2,452.5 381.5,452.5 381.8,452.5 382.0,452.5 382.2,452.5 382.5,452.6 382.8,452.6 383.0,452.6 383.2,452.6 383.5,452.6 383.8,452.6 384.0,452.7 384.2,452.7 384.5,452.7 384.8,452.7 385.0,452.7 385.2,452.7 385.5,452.7 385.8,452.8 386.0,452.8 386.2,452.8 386.5,452.8 386.8,452.8 387.0,452.8 387.2,452.8 387.5,452.9 387.8,452.9 388.0,452.9 388.2,452.9 388.5,452.9 388.8,452.9 389.0,452.9 389.2,453.0 389.5,453.0 389.8,453.0 390.0,453.0 390.2,453.0 390.5,453.0 390.8,453.0 391.0,453.1 391.2,453.1 391.5,453.1 391.8,453.1 392.0,453.1 392.2,453.1 392.5,453.1 392.8,453.2 393.0,453.2 393.2,453.2 393.5,453.2 393.8,453.2 394.0,453.2 394.2,453.3 394.5,453.3 394.8,453.3 395.0,453.3 395.2,453.3 395.5,453.3 395.8,453.4 396.0,453.4 396.2,453.4 396.5,453.4 396.8,453.4 397.0,453.5 397.2,453.5 397.5,453.5 397.8,453.5 398.0,453.5 398.2,453.6 398.5,453.6 398.8,453.6 399.0,453.6 399.2,453.7 399.5,453.7 399.8,453.7 400.0,453.7 400.2,453.7 400.5,453.8 400.8,453.8 401.0,453.8 401.2,453.9 401.5,453.9 401.8,453.9 402.0,453.9 402.2,454.0 402.5,454.0 402.8,454.0 403.0,454.0 403.2,454.1 403.5,454.1 403.8,454.1 404.0,454.2 404.2,454.2 404.5,454.2 404.8,454.3 405.0,454.3 405.2,454.3 405.5,454.4 405.8,454.4 406.0,454.5 406.2,454.5 406.5,454.6 406.8,454.7 407.0,454.7 407.2,454.8 407.5,454.9 407.8,454.9 408.0,455.0 408.2,455.1 408.5,455.2 408.8,455.3 409.0,455.4 409.2,455.5 409.5,455.6 409.8,455.7 410.0,455.8 410.2,455.9 410.5,456.0 410.8,456.1 411.0,456.2 411.2,456.3 411.5,456.4 411.8,456.5 412.0,456.6 412.2,456.8 412.5,456.9 412.8,457.0 413.0,457.1 413.2,457.2 413.5,457.4 413.8,457.5 414.0,457.6 414.2,457.7 414.5,457.8 414.8,458.0 415.0,458.1 415.2,458.2 415.5,458.3 415.8,458.4 416.0,458.6 416.2,458.7 416.5,458.8 416.8,458.9 417.0,459.0 417.2,459.1 417.5,459.2 417.8,459.4 418.0,459.5 418.2,459.6 418.5,459.7 418.8,459.8 419.0,460.0 419.2,460.1 419.5,460.2 419.8,460.3 420.0,460.4 420.2,460.6 420.5,460.7 420.8,460.8 421.0,460.9 421.2,461.1 421.5,461.2 421.8,461.3 422.0,461.4 422.2,461.6 422.5,461.7 422.8,461.8 423.0,462.0 423.2,462.1 423.5,462.2 423.8,462.4 424.0,462.5 424.2,462.6 424.5,462.8 424.8,462.9 425.0,463.0 425.2,463.2 425.5,463.3 425.8,463.4 426.0,463.6 426.2,463.7 426.5,463.9 426.8,464.0 427.0,464.1 427.2,464.3 427.5,464.4 427.8,464.6 428.0,464.7 428.2,464.9 428.5,465.0 428.8,465.2 429.0,465.3 429.2,465.5 429.5,465.6 429.8,465.8 430.0,465.9 430.2,466.1 430.5,466.2 430.8,466.4 431.0,466.5 431.2,466.7 431.5,466.8 431.8,467.0 432.0,467.1 432.2,467.3 432.5,467.5 432.8,467.6 433.0,467.8 433.2,467.9 433.5,468.1 433.8,468.3 434.0,468.4 434.2,468.6 434.5,468.8 434.8,469.0 435.0,469.1 435.2,469.3 435.5,469.5 435.8,469.7 436.0,469.9 436.2,470.2 436.5,470.4 436.8,470.6 437.0,470.8 437.2,471.1 437.5,471.3 437.8,471.5 438.0,471.8 438.2,472.0 438.5,472.2 438.8,472.5 439.0,472.7 439.2,472.9 439.5,473.2 439.8,473.4 440.0,473.7 440.2,473.9 440.5,474.1 440.8,474.3 441.0,474.6 441.2,474.8 441.5,475.0 441.8,475.2 442.0,475.4 442.2,475.6 442.5,475.8 442.8,476.0 443.0,476.2 443.2,476.4 443.5,476.5 443.8,476.7 444.0,476.9 444.2,477.0 444.5,477.1 444.8,477.3 445.0,477.4 445.2,477.5 445.5,477.6 445.8,477.7 446.0,477.7 446.2,477.8 446.5,477.9 446.8,477.9 447.0,478.0 447.2,478.1 447.5,478.1 447.8,478.2 448.0,478.3 448.2,478.3 448.5,478.4 448.8,478.4 449.0,478.5 449.2,478.5 449.5,478.6 449.8,478.7 450.0,478.7 450.2,478.8 450.5,478.8 450.8,478.9 451.0,478.9 451.2,479.0 451.5,479.0 451.8,479.1 452.0,479.1 452.2,479.2 452.5,479.2 452.8,479.2 453.0,479.3 453.2,479.3 453.5,479.4 453.8,479.4 454.0,479.4 454.2,479.5 454.5,479.5 454.8,479.5 455.0,479.6 455.2,479.6 455.5,479.6 455.8,479.6 456.0,479.7 456.2,479.7 456.5,479.7 456.8,479.7 457.0,479.7 457.2,479.8 457.5,479.8 457.8,479.8 458.0,479.8 458.2,479.8 458.5,479.8 458.8,479.8 459.0,479.8 459.2,479.8 459.5,479.9 459.8,479.9 460.0,479.9 460.2,479.9 460.5,479.9 460.8,479.9 461.0,479.9 461.2,479.9 461.5,479.9 461.8,479.9 462.0,479.9 462.2,479.9 462.5,479.9 462.8,479.9 463.0,479.9 463.2,479.9 463.5,479.9 463.8,479.9 464.0,479.9 464.2,479.9 464.5,479.9 464.8,480.0 465.0,480.0 465.2,480.0 465.5,480.0 465.8,480.0 466.0,480.0 466.2,480.0 466.5,480.0 466.8,480.0 467.0,480.0 467.2,480.0 467.5,480.0 467.8,480.0 468.0,480.0 468.2,480.0 468.5,480.0 468.8,480.0 469.0,480.0 469.2,480.0 469.5,480.0 469.8,480.0 470.0,480.0 470.2,480.0 470.5,480.0 470.8,480.0 471.0,480.0 471.2,480.0 471.5,480.0 471.8,480.0 472.0,480.1 472.2,480.1 472.5,480.1 472.8,480.1 473.0,480.1 473.2,480.1 473.5,480.1 473.8,480.1 474.0,480.1 474.2,480.1 474.5,480.1 474.8,480.1 475.0,480.1 475.2,480.1 475.5,480.1 475.8,480.1 476.0,480.1 476.2,480.1 476.5,480.1 476.8,480.1 477.0,480.1 477.2,480.1 477.5,480.1 477.8,480.1 478.0,480.1 478.2,480.1 478.5,480.1 478.8,480.1 479.0,480.1 479.2,480.1 479.5,480.1 479.8,480.1 480.0,480.1 480.2,480.1 480.5,480.1 480.8,480.1 481.0,480.1 481.2,480.1 481.5,480.1 481.8,480.1 482.0,480.1 482.2,480.1 482.5,480.1 482.8,480.1 483.0,480.1 483.2,480.1 483.5,480.1 483.8,480.1 484.0,480.1 484.2,480.1 484.5,480.1 484.8,480.1 485.0,480.1 485.2,480.1 485.5,480.1 485.8,480.1 486.0,480.1 486.2,480.1 486.5,480.1 486.8,480.1 487.0,480.2 487.2,480.2 487.5,480.2 487.8,480.2 488.0,480.2 488.2,480.2 488.5,480.2 488.8,480.2 489.0,480.2 489.2,480.2" fill="none" stroke="#7a0e14" stroke-width="2.6" stroke-linejoin="round" stroke-linecap="round" opacity="1.0"/>
<path d="M290.0,444.6 290.2,444.6 290.5,444.6 290.8,444.7 291.0,444.7 291.2,444.7 291.5,444.7 291.8,444.8 292.0,444.8 292.2,444.8 292.5,444.8 292.8,444.8 293.0,444.9 293.2,444.9 293.5,444.9 293.8,444.9 294.0,445.0 294.2,445.0 294.5,445.0 294.8,445.0 295.0,445.1 295.2,445.1 295.5,445.1 295.8,445.1 296.0,445.2 296.2,445.2 296.5,445.2 296.8,445.2 297.0,445.2 297.2,445.3 297.5,445.3 297.8,445.3 298.0,445.3 298.2,445.4 298.5,445.4 298.8,445.4 299.0,445.4 299.2,445.5 299.5,445.5 299.8,445.5 300.0,445.5 300.2,445.6 300.5,445.6 300.8,445.6 301.0,445.6 301.2,445.6 301.5,445.7 301.8,445.7 302.0,445.7 302.2,445.7 302.5,445.8 302.8,445.8 303.0,445.8 303.2,445.8 303.5,445.9 303.8,445.9 304.0,445.9 304.2,445.9 304.5,445.9 304.8,446.0 305.0,446.0 305.2,446.0 305.5,446.0 305.8,446.0 306.0,446.1 306.2,446.1 306.5,446.1 306.8,446.1 307.0,446.2 307.2,446.2 307.5,446.2 307.8,446.2 308.0,446.2 308.2,446.3 308.5,446.3 308.8,446.3 309.0,446.3 309.2,446.3 309.5,446.3 309.8,446.4 310.0,446.4 310.2,446.4 310.5,446.4 310.8,446.4 311.0,446.5 311.2,446.5 311.5,446.5 311.8,446.5 312.0,446.5 312.2,446.5 312.5,446.6 312.8,446.6 313.0,446.6 313.2,446.6 313.5,446.6 313.8,446.6 314.0,446.7 314.2,446.7 314.5,446.7 314.8,446.7 315.0,446.7 315.2,446.7 315.5,446.7 315.8,446.8 316.0,446.8 316.2,446.8 316.5,446.8 316.8,446.8 317.0,446.8 317.2,446.8 317.5,446.8 317.8,446.9 318.0,446.9 318.2,446.9 318.5,446.9 318.8,446.9 319.0,446.9 319.2,446.9 319.5,446.9 319.8,446.9 320.0,446.9 320.2,447.0 320.5,447.0 320.8,447.0 321.0,447.0 321.2,447.0 321.5,447.0 321.8,447.0 322.0,447.0 322.2,447.0 322.5,447.0 322.8,447.0 323.0,447.1 323.2,447.1 323.5,447.1 323.8,447.1 324.0,447.1 324.2,447.1 324.5,447.1 324.8,447.1 325.0,447.1 325.2,447.1 325.5,447.1 325.8,447.2 326.0,447.2 326.2,447.2 326.5,447.2 326.8,447.2 327.0,447.2 327.2,447.2 327.5,447.2 327.8,447.2 328.0,447.2 328.2,447.3 328.5,447.3 328.8,447.3 329.0,447.3 329.2,447.3 329.5,447.3 329.8,447.3 330.0,447.3 330.2,447.3 330.5,447.3 330.8,447.4 331.0,447.4 331.2,447.4 331.5,447.4 331.8,447.4 332.0,447.4 332.2,447.4 332.5,447.4 332.8,447.5 333.0,447.5 333.2,447.5 333.5,447.5 333.8,447.5 334.0,447.5 334.2,447.5 334.5,447.6 334.8,447.6 335.0,447.6 335.2,447.6 335.5,447.6 335.8,447.6 336.0,447.7 336.2,447.7 336.5,447.7 336.8,447.7 337.0,447.8 337.2,447.8 337.5,447.8 337.8,447.8 338.0,447.9 338.2,447.9 338.5,447.9 338.8,447.9 339.0,448.0 339.2,448.0 339.5,448.0 339.8,448.1 340.0,448.1 340.2,448.1 340.5,448.2 340.8,448.2 341.0,448.2 341.2,448.3 341.5,448.3 341.8,448.3 342.0,448.4 342.2,448.4 342.5,448.5 342.8,448.5 343.0,448.5 343.2,448.6 343.5,448.6 343.8,448.7 344.0,448.7 344.2,448.7 344.5,448.8 344.8,448.8 345.0,448.9 345.2,448.9 345.5,448.9 345.8,449.0 346.0,449.0 346.2,449.1 346.5,449.1 346.8,449.2 347.0,449.2 347.2,449.2 347.5,449.3 347.8,449.3 348.0,449.4 348.2,449.4 348.5,449.4 348.8,449.5 349.0,449.5 349.2,449.6 349.5,449.6 349.8,449.7 350.0,449.7 350.2,449.7 350.5,449.8 350.8,449.8 351.0,449.9 351.2,449.9 351.5,449.9 351.8,450.0 352.0,450.0 352.2,450.0 352.5,450.1 352.8,450.1 353.0,450.2 353.2,450.2 353.5,450.2 353.8,450.3 354.0,450.3 354.2,450.3 354.5,450.4 354.8,450.4 355.0,450.4 355.2,450.5 355.5,450.5 355.8,450.5 356.0,450.5 356.2,450.6 356.5,450.6 356.8,450.6 357.0,450.6 357.2,450.7 357.5,450.7 357.8,450.7 358.0,450.7 358.2,450.8 358.5,450.8 358.8,450.8 359.0,450.8 359.2,450.9 359.5,450.9 359.8,450.9 360.0,450.9 360.2,450.9 360.5,451.0 360.8,451.0 361.0,451.0 361.2,451.0 361.5,451.0 361.8,451.1 362.0,451.1 362.2,451.1 362.5,451.1 362.8,451.2 363.0,451.2 363.2,451.2 363.5,451.2 363.8,451.2 364.0,451.2 364.2,451.3 364.5,451.3 364.8,451.3 365.0,451.3 365.2,451.3 365.5,451.4 365.8,451.4 366.0,451.4 366.2,451.4 366.5,451.4 366.8,451.5 367.0,451.5 367.2,451.5 367.5,451.5 367.8,451.5 368.0,451.5 368.2,451.6 368.5,451.6 368.8,451.6 369.0,451.6 369.2,451.6 369.5,451.6 369.8,451.7 370.0,451.7 370.2,451.7 370.5,451.7 370.8,451.7 371.0,451.7 371.2,451.8 371.5,451.8 371.8,451.8 372.0,451.8 372.2,451.8 372.5,451.8 372.8,451.9 373.0,451.9 373.2,451.9 373.5,451.9 373.8,451.9 374.0,452.0 374.2,452.0 374.5,452.0 374.8,452.0 375.0,452.0 375.2,452.0 375.5,452.1 375.8,452.1 376.0,452.1 376.2,452.1 376.5,452.1 376.8,452.1 377.0,452.2 377.2,452.2 377.5,452.2 377.8,452.2 378.0,452.2 378.2,452.3 378.5,452.3 378.8,452.3 379.0,452.3 379.2,452.3 379.5,452.3 379.8,452.4 380.0,452.4 380.2,452.4 380.5,452.4 380.8,452.4 381.0,452.5 381.2,452.5 381.5,452.5 381.8,452.5 382.0,452.5 382.2,452.5 382.5,452.6 382.8,452.6 383.0,452.6 383.2,452.6 383.5,452.6 383.8,452.6 384.0,452.7 384.2,452.7 384.5,452.7 384.8,452.7 385.0,452.7 385.2,452.7 385.5,452.7 385.8,452.8 386.0,452.8 386.2,452.8 386.5,452.8 386.8,452.8 387.0,452.8 387.2,452.8 387.5,452.9 387.8,452.9 388.0,452.9 388.2,452.9 388.5,452.9 388.8,452.9 389.0,452.9 389.2,453.0 389.5,453.0 389.8,453.0 390.0,453.0 390.2,453.0 390.5,453.0 390.8,453.0 391.0,453.1 391.2,453.1 391.5,453.1 391.8,453.1 392.0,453.1 392.2,453.1 392.5,453.1 392.8,453.2 393.0,453.2 393.2,453.2 393.5,453.2 393.8,453.2 394.0,453.2 394.2,453.3 394.5,453.3 394.8,453.3 395.0,453.3 395.2,453.3 395.5,453.3 395.8,453.4 396.0,453.4 396.2,453.4 396.5,453.4 396.8,453.4 397.0,453.5 397.2,453.5 397.5,453.5 397.8,453.5 398.0,453.5 398.2,453.6 398.5,453.6 398.8,453.6 399.0,453.6 399.2,453.7 399.5,453.7 399.8,453.7 400.0,453.7 400.2,453.7 400.5,453.8 400.8,453.8 401.0,453.8 401.2,453.9 401.5,453.9 401.8,453.9 402.0,453.9 402.2,454.0 402.5,454.0 402.8,454.0 403.0,454.0 403.2,454.1 403.5,454.1 403.8,454.1 404.0,454.2 404.2,454.2 404.5,454.2 404.8,454.3 405.0,454.3 405.2,454.3 405.5,454.4 405.8,454.4 406.0,454.5 406.2,454.5 406.5,454.6 406.8,454.7 407.0,454.7 407.2,454.8 407.5,454.9 407.8,454.9 408.0,455.0 408.2,455.1 408.5,455.2 408.8,455.3 409.0,455.4 409.2,455.5 409.5,455.6 409.8,455.7 410.0,455.8 410.2,455.9 410.5,456.0 410.8,456.1 411.0,456.2 411.2,456.3 411.5,456.4 411.8,456.5 412.0,456.6 412.2,456.8 412.5,456.9 412.8,457.0 413.0,457.1 413.2,457.2 413.5,457.4 413.8,457.5 414.0,457.6 414.2,457.7 414.5,457.8 414.8,458.0 415.0,458.1 415.2,458.2 415.5,458.3 415.8,458.4 416.0,458.6 416.2,458.7 416.5,458.8 416.8,458.9 417.0,459.0 417.2,459.1 417.5,459.2 417.8,459.4 418.0,459.5 418.2,459.6 418.5,459.7 418.8,459.8 419.0,460.0 419.2,460.1 419.5,460.2 419.8,460.3 420.0,460.4 420.2,460.6 420.5,460.7 420.8,460.8 421.0,460.9 421.2,461.1 421.5,461.2 421.8,461.3 422.0,461.4 422.2,461.6 422.5,461.7 422.8,461.8 423.0,462.0 423.2,462.1 423.5,462.2 423.8,462.4 424.0,462.5 424.2,462.6 424.5,462.8 424.8,462.9 425.0,463.0 425.2,463.2 425.5,463.3 425.8,463.4 426.0,463.6 426.2,463.7 426.5,463.9 426.8,464.0 427.0,464.1 427.2,464.3 427.5,464.4 427.8,464.6 428.0,464.7 428.2,464.9 428.5,465.0 428.8,465.2 429.0,465.3 429.2,465.5 429.5,465.6 429.8,465.8 430.0,465.9 430.2,466.1 430.5,466.2 430.8,466.4 431.0,466.5 431.2,466.7 431.5,466.8 431.8,467.0 432.0,467.1 432.2,467.3 432.5,467.5 432.8,467.6 433.0,467.8 433.2,467.9 433.5,468.1 433.8,468.3 434.0,468.4 434.2,468.6 434.5,468.8 434.8,469.0 435.0,469.1 435.2,469.3 435.5,469.5 435.8,469.7 436.0,469.9 436.2,470.2 436.5,470.4 436.8,470.6 437.0,470.8 437.2,471.1 437.5,471.3 437.8,471.5 438.0,471.8 438.2,472.0 438.5,472.2 438.8,472.5 439.0,472.7 439.2,472.9 439.5,473.2 439.8,473.4 440.0,473.7 440.2,473.9 440.5,474.1 440.8,474.3 441.0,474.6 441.2,474.8 441.5,475.0 441.8,475.2 442.0,475.4 442.2,475.6 442.5,475.8 442.8,476.0 443.0,476.2 443.2,476.4 443.5,476.5 443.8,476.7 444.0,476.9 444.2,477.0 444.5,477.1 444.8,477.3 445.0,477.4 445.2,477.5 445.5,477.6 445.8,477.7 446.0,477.7 446.2,477.8 446.5,477.9 446.8,477.9 447.0,478.0 447.2,478.1 447.5,478.1 447.8,478.2 448.0,478.3 448.2,478.3 448.5,478.4 448.8,478.4 449.0,478.5 449.2,478.5 449.5,478.6 449.8,478.7 450.0,478.7 450.2,478.8 450.5,478.8 450.8,478.9 451.0,478.9 451.2,479.0 451.5,479.0 451.8,479.1 452.0,479.1 452.2,479.2 452.5,479.2 452.8,479.2 453.0,479.3 453.2,479.3 453.5,479.4 453.8,479.4 454.0,479.4 454.2,479.5 454.5,479.5 454.8,479.5 455.0,479.6 455.2,479.6 455.5,479.6 455.8,479.6 456.0,479.7 456.2,479.7 456.5,479.7 456.8,479.7 457.0,479.7 457.2,479.8 457.5,479.8 457.8,479.8 458.0,479.8 458.2,479.8 458.5,479.8 458.8,479.8 459.0,479.8 459.2,479.8 459.5,479.9 459.8,479.9 460.0,479.9 460.2,479.9 460.5,479.9 460.8,479.9 461.0,479.9 461.2,479.9 461.5,479.9 461.8,479.9 462.0,479.9 462.2,479.9 462.5,479.9 462.8,479.9 463.0,479.9 463.2,479.9 463.5,479.9 463.8,479.9 464.0,479.9 464.2,479.9 464.5,479.9 464.8,480.0 465.0,480.0 465.2,480.0 465.5,480.0 465.8,480.0 466.0,480.0 466.2,480.0 466.5,480.0 466.8,480.0 467.0,480.0 467.2,480.0 467.5,480.0 467.8,480.0 468.0,480.0 468.2,480.0 468.5,480.0 468.8,480.0 469.0,480.0 469.2,480.0 469.5,480.0 469.8,480.0 470.0,480.0 470.2,480.0 470.5,480.0 470.8,480.0 471.0,480.0 471.2,480.0 471.5,480.0 471.8,480.0 472.0,480.1 472.2,480.1 472.5,480.1 472.8,480.1 473.0,480.1 473.2,480.1 473.5,480.1 473.8,480.1 474.0,480.1 474.2,480.1 474.5,480.1 474.8,480.1 475.0,480.1 475.2,480.1 475.5,480.1 475.8,480.1 476.0,480.1 476.2,480.1 476.5,480.1 476.8,480.1 477.0,480.1 477.2,480.1 477.5,480.1 477.8,480.1 478.0,480.1 478.2,480.1 478.5,480.1 478.8,480.1 479.0,480.1 479.2,480.1 479.5,480.1 479.8,480.1 480.0,480.1 480.2,480.1 480.5,480.1 480.8,480.1 481.0,480.1 481.2,480.1 481.5,480.1 481.8,480.1 482.0,480.1 482.2,480.1 482.5,480.1 482.8,480.1 483.0,480.1 483.2,480.1 483.5,480.1 483.8,480.1 484.0,480.1 484.2,480.1 484.5,480.1 484.8,480.1 485.0,480.1 485.2,480.1 485.5,480.1 485.8,480.1 486.0,480.1 486.2,480.1 486.5,480.1 486.8,480.1 487.0,480.2 487.2,480.2 487.5,480.2 487.8,480.2 488.0,480.2 488.2,480.2 488.5,480.2 488.8,480.2 489.0,480.2 489.2,480.2" fill="none" stroke="#7a0e14" stroke-width="3.6" stroke-linejoin="round" stroke-linecap="round" opacity="1.0"/>
<path d="M159.0,430.9 159.2,430.9 159.5,430.9 159.8,430.9 160.0,430.9 160.2,430.9 160.5,430.9 160.8,430.9 161.0,430.9 161.2,430.9 161.5,430.9 161.8,430.9 162.0,430.9 162.2,430.9 162.5,431.0 162.8,431.0 163.0,431.0 163.2,431.0 163.5,431.0 163.8,431.0 164.0,431.0 164.2,431.0 164.5,431.0 164.8,431.0 165.0,431.0 165.2,431.0 165.5,431.0 165.8,431.0 166.0,431.0 166.2,431.0 166.5,431.0 166.8,431.0 167.0,431.0 167.2,431.0 167.5,431.0 167.8,431.0 168.0,431.0 168.2,431.0 168.5,431.0 168.8,431.0 169.0,431.0 169.2,431.0 169.5,431.0 169.8,431.0 170.0,431.0 170.2,431.0 170.5,431.0 170.8,431.0 171.0,431.0 171.2,431.0 171.5,431.0 171.8,431.0 172.0,431.0 172.2,431.0 172.5,431.0 172.8,431.0 173.0,431.0 173.2,431.0 173.5,431.0 173.8,431.0 174.0,431.1 174.2,431.1 174.5,431.1 174.8,431.1 175.0,431.1 175.2,431.1 175.5,431.1 175.8,431.1 176.0,431.1 176.2,431.1 176.5,431.1 176.8,431.1 177.0,431.1 177.2,431.1 177.5,431.1 177.8,431.1 178.0,431.1 178.2,431.1 178.5,431.1 178.8,431.1 179.0,431.1 179.2,431.1 179.5,431.1 179.8,431.2 180.0,431.2 180.2,431.2 180.5,431.2 180.8,431.2 181.0,431.2 181.2,431.2 181.5,431.2 181.8,431.2 182.0,431.2 182.2,431.2 182.5,431.2 182.8,431.2 183.0,431.2 183.2,431.2 183.5,431.2 183.8,431.3 184.0,431.3 184.2,431.3 184.5,431.3 184.8,431.3 185.0,431.3 185.2,431.4 185.5,431.4 185.8,431.4 186.0,431.5 186.2,431.5 186.5,431.5 186.8,431.6 187.0,431.6 187.2,431.6 187.5,431.7 187.8,431.7 188.0,431.8 188.2,431.8 188.5,431.9 188.8,431.9 189.0,431.9 189.2,432.0 189.5,432.0 189.8,432.1 190.0,432.2 190.2,432.2 190.5,432.3 190.8,432.3 191.0,432.4 191.2,432.4 191.5,432.5 191.8,432.5 192.0,432.6 192.2,432.7 192.5,432.7 192.8,432.8 193.0,432.8 193.2,432.9 193.5,433.0 193.8,433.0 194.0,433.1 194.2,433.1 194.5,433.2 194.8,433.2 195.0,433.3 195.2,433.4 195.5,433.4 195.8,433.5 196.0,433.6 196.2,433.7 196.5,433.7 196.8,433.8 197.0,433.9 197.2,434.0 197.5,434.1 197.8,434.2 198.0,434.3 198.2,434.4 198.5,434.5 198.8,434.6 199.0,434.6 199.2,434.8 199.5,434.9 199.8,435.0 200.0,435.1 200.2,435.2 200.5,435.3 200.8,435.4 201.0,435.5 201.2,435.6 201.5,435.7 201.8,435.8 202.0,435.9 202.2,436.0 202.5,436.1 202.8,436.2 203.0,436.2 203.2,436.3 203.5,436.4 203.8,436.5 204.0,436.6 204.2,436.7 204.5,436.7 204.8,436.8 205.0,436.9 205.2,437.0 205.5,437.0 205.8,437.1 206.0,437.2 206.2,437.2 206.5,437.3 206.8,437.4 207.0,437.4 207.2,437.5 207.5,437.5 207.8,437.6 208.0,437.7 208.2,437.7 208.5,437.8 208.8,437.8 209.0,437.9 209.2,438.0 209.5,438.0 209.8,438.1 210.0,438.1 210.2,438.2 210.5,438.2 210.8,438.3 211.0,438.4 211.2,438.4 211.5,438.5 211.8,438.5 212.0,438.6 212.2,438.6 212.5,438.7 212.8,438.7 213.0,438.8 213.2,438.8 213.5,438.9 213.8,438.9 214.0,439.0 214.2,439.0 214.5,439.1 214.8,439.1 215.0,439.2 215.2,439.2 215.5,439.3 215.8,439.3 216.0,439.4 216.2,439.4 216.5,439.5 216.8,439.5 217.0,439.6 217.2,439.6 217.5,439.7 217.8,439.7 218.0,439.8 218.2,439.8 218.5,439.9 218.8,439.9 219.0,439.9 219.2,440.0 219.5,440.0 219.8,440.1 220.0,440.1 220.2,440.2 220.5,440.2 220.8,440.3 221.0,440.3 221.2,440.3 221.5,440.4 221.8,440.4 222.0,440.5 222.2,440.5 222.5,440.6 222.8,440.6 223.0,440.6 223.2,440.7 223.5,440.7 223.8,440.8 224.0,440.8 224.2,440.9 224.5,440.9 224.8,441.0 225.0,441.0 225.2,441.0 225.5,441.1 225.8,441.1 226.0,441.2 226.2,441.2 226.5,441.3 226.8,441.3 227.0,441.4 227.2,441.4 227.5,441.5 227.8,441.5 228.0,441.6 228.2,441.6 228.5,441.7 228.8,441.7 229.0,441.7 229.2,441.8 229.5,441.8 229.8,441.9 230.0,441.9 230.2,442.0 230.5,442.0 230.8,442.1 231.0,442.1 231.2,442.1 231.5,442.2 231.8,442.2 232.0,442.3 232.2,442.3 232.5,442.3 232.8,442.4 233.0,442.4 233.2,442.5 233.5,442.5 233.8,442.5 234.0,442.6 234.2,442.6 234.5,442.6 234.8,442.7 235.0,442.7 235.2,442.7 235.5,442.8 235.8,442.8 236.0,442.8 236.2,442.8 236.5,442.9 236.8,442.9 237.0,442.9 237.2,442.9 237.5,443.0 237.8,443.0 238.0,443.0 238.2,443.0 238.5,443.0 238.8,443.0 239.0,443.0 239.2,443.1 239.5,443.1 239.8,443.1 240.0,443.1 240.2,443.1 240.5,443.1 240.8,443.1 241.0,443.1 241.2,443.1 241.5,443.1 241.8,443.1 242.0,443.1 242.2,443.1 242.5,443.1 242.8,443.1 243.0,443.1 243.2,443.1 243.5,443.1 243.8,443.1 244.0,443.1 244.2,443.1 244.5,443.1 244.8,443.1 245.0,443.1 245.2,443.1 245.5,443.1 245.8,443.1 246.0,443.1 246.2,443.1 246.5,443.1 246.8,443.1 247.0,443.1 247.2,443.1 247.5,443.1 247.8,443.2 248.0,443.2 248.2,443.2 248.5,443.2 248.8,443.2 249.0,443.2 249.2,443.2 249.5,443.2 249.8,443.2 250.0,443.2 250.2,443.2 250.5,443.2 250.8,443.2 251.0,443.2 251.2,443.2 251.5,443.2 251.8,443.2 252.0,443.2 252.2,443.2 252.5,443.2 252.8,443.2 253.0,443.2 253.2,443.2 253.5,443.2 253.8,443.2 254.0,443.2 254.2,443.2 254.5,443.2 254.8,443.2 255.0,443.2 255.2,443.2 255.5,443.2 255.8,443.2 256.0,443.2 256.2,443.2 256.5,443.2 256.8,443.2 257.0,443.2 257.2,443.2 257.5,443.2 257.8,443.2 258.0,443.2 258.2,443.2 258.5,443.2 258.8,443.2 259.0,443.2 259.2,443.2 259.5,443.1 259.8,443.1 260.0,443.1 260.2,443.1 260.5,443.1 260.8,443.1 261.0,443.1 261.2,443.1 261.5,443.1 261.8,443.1 262.0,443.1 262.2,443.1 262.5,443.1 262.8,443.1 263.0,443.1 263.2,443.1 263.5,443.1 263.8,443.1 264.0,443.1 264.2,443.1 264.5,443.1 264.8,443.1 265.0,443.1 265.2,443.1 265.5,443.1 265.8,443.1 266.0,443.1 266.2,443.1 266.5,443.1 266.8,443.1 267.0,443.1 267.2,443.0 267.5,443.0 267.8,443.0 268.0,443.0 268.2,443.0 268.5,443.0 268.8,443.0 269.0,443.0 269.2,443.0 269.5,443.0 269.8,443.0 270.0,443.0 270.2,443.0 270.5,443.0 270.8,443.0 271.0,443.0 271.2,442.9 271.5,442.9 271.8,442.9 272.0,442.9 272.2,442.9 272.5,442.9 272.8,442.9 273.0,442.9 273.2,442.9 273.5,442.9 273.8,442.9 274.0,442.9 274.2,442.8 274.5,442.8 274.8,442.8 275.0,442.8 275.2,442.8 275.5,442.8 275.8,442.8 276.0,442.8 276.2,442.8 276.5,442.7 276.8,442.7 277.0,442.7 277.2,442.7 277.5,442.7 277.8,442.7 278.0,442.7 278.2,442.7 278.5,442.6 278.8,442.6 279.0,442.6 279.2,442.6 279.5,442.6 279.8,442.6 280.0,442.6 280.2,442.5 280.5,442.5 280.8,442.5 281.0,442.5 281.2,442.5 281.5,442.5 281.8,442.4 282.0,442.4 282.2,442.4 282.5,442.4 282.8,442.4 283.0,442.4 283.2,442.3 283.5,442.3 283.8,442.3 284.0,442.3 284.2,442.3 284.5,442.2 284.8,442.2 285.0,442.2 285.2,442.2 285.5,442.1 285.8,442.1 286.0,442.1 286.2,442.1 286.5,442.0 286.8,442.0 287.0,442.0 287.2,441.9 287.5,441.9 287.8,441.9 288.0,441.9 288.2,441.8 288.5,441.8 288.8,441.7 289.0,441.7 289.2,441.7 289.5,441.6 289.8,441.6 290.0,441.5 290.2,441.5 290.5,441.4 290.8,441.4 291.0,441.3 291.2,441.3 291.5,441.2 291.8,441.2 292.0,441.1 292.2,441.1 292.5,441.0 292.8,440.9 293.0,440.8 293.2,440.8 293.5,440.7 293.8,440.6 294.0,440.5 294.2,440.4 294.5,440.3 294.8,440.3 295.0,440.2 295.2,440.0 295.5,439.9 295.8,439.8 296.0,439.7 296.2,439.6 296.5,439.4 296.8,439.3 297.0,439.2 297.2,439.0 297.5,438.9 297.8,438.7 298.0,438.5 298.2,438.4 298.5,438.2 298.8,438.0 299.0,437.8 299.2,437.6 299.5,437.4 299.8,437.2 300.0,436.9 300.2,436.7 300.5,436.5 300.8,436.2 301.0,436.0 301.2,435.7 301.5,435.4 301.8,435.1 302.0,434.8 302.2,434.5 302.5,434.2 302.8,433.9 303.0,433.6 303.2,433.2 303.5,432.9 303.8,432.5 304.0,432.2 304.2,431.8 304.5,431.4 304.8,431.1 305.0,430.7 305.2,430.3 305.5,429.9 305.8,429.4 306.0,429.0 306.2,428.6 306.5,428.2 306.8,427.8 307.0,427.3 307.2,426.9 307.5,426.4 307.8,426.0 308.0,425.6 308.2,425.1 308.5,424.7 308.8,424.2 309.0,423.8 309.2,423.4 309.5,422.9 309.8,422.5 310.0,422.1 310.2,421.7 310.5,421.3 310.8,420.9 311.0,420.5 311.2,420.1 311.5,419.7 311.8,419.4 312.0,419.1 312.2,418.8 312.5,418.5 312.8,418.2 313.0,417.9 313.2,417.7 313.5,417.5 313.8,417.3 314.0,417.2 314.2,417.0 314.5,416.9 314.8,416.8 315.0,416.8 315.2,416.8 315.5,416.8 315.8,416.8 316.0,416.9 316.2,417.1 316.5,417.3 316.8,417.5 317.0,417.8 317.2,418.2 317.5,418.6 317.8,419.0 318.0,419.5 318.2,420.0 318.5,420.5 318.8,421.0 319.0,421.6 319.2,422.2 319.5,422.8 319.8,423.4 320.0,424.0 320.2,424.7 320.5,425.3 320.8,426.0 321.0,426.6 321.2,427.2 321.5,427.9 321.8,428.5 322.0,429.2 322.2,429.8 322.5,430.4 322.8,431.0 323.0,431.6 323.2,432.2 323.5,432.7 323.8,433.3 324.0,433.8 324.2,434.4 324.5,434.9 324.8,435.4 325.0,435.9 325.2,436.3 325.5,436.8 325.8,437.2 326.0,437.6 326.2,438.0 326.5,438.4 326.8,438.8 327.0,439.2 327.2,439.5 327.5,439.8 327.8,440.1 328.0,440.4 328.2,440.7 328.5,441.0 328.8,441.3 329.0,441.5 329.2,441.8 329.5,442.0 329.8,442.2 330.0,442.4 330.2,442.6 330.5,442.8 330.8,443.0 331.0,443.1 331.2,443.3 331.5,443.4 331.8,443.6 332.0,443.7 332.2,443.9 332.5,444.0 332.8,444.1 333.0,444.2 333.2,444.3 333.5,444.4 333.8,444.5 334.0,444.6 334.2,444.7 334.5,444.8 334.8,444.9 335.0,445.0 335.2,445.1 335.5,445.2 335.8,445.2 336.0,445.3 336.2,445.4 336.5,445.5 336.8,445.5 337.0,445.6 337.2,445.7 337.5,445.7 337.8,445.8 338.0,445.8 338.2,445.9 338.5,446.0 338.8,446.0 339.0,446.1 339.2,446.2 339.5,446.2 339.8,446.3 340.0,446.3 340.2,446.4 340.5,446.4 340.8,446.5 341.0,446.5 341.2,446.6 341.5,446.7 341.8,446.7 342.0,446.8 342.2,446.8 342.5,446.9 342.8,446.9 343.0,447.0 343.2,447.0 343.5,447.1 343.8,447.1 344.0,447.2 344.2,447.2 344.5,447.3 344.8,447.3 345.0,447.4 345.2,447.4 345.5,447.4 345.8,447.5 346.0,447.5 346.2,447.6 346.5,447.6 346.8,447.7 347.0,447.7 347.2,447.8 347.5,447.8 347.8,447.8 348.0,447.9 348.2,447.9 348.5,448.0 348.8,448.0 349.0,448.1 349.2,448.1 349.5,448.1 349.8,448.2 350.0,448.2 350.2,448.3 350.5,448.3 350.8,448.3 351.0,448.4 351.2,448.4 351.5,448.4 351.8,448.5" fill="none" stroke="#7a22d8" stroke-width="2.4" stroke-linejoin="round" stroke-linecap="round" opacity="1.0"/>
<path d="M159.0,430.9h0M161.2,430.9h0M163.4,431.0h0M165.6,431.0h0M167.8,431.0h0M170.0,431.0h0M172.2,431.0h0M174.4,431.1h0M176.6,431.1h0M178.8,431.1h0M181.0,431.2h0M183.2,431.2h0M185.4,431.4h0M187.6,431.7h0M189.7,432.1h0M191.9,432.6h0M194.0,433.1h0M196.2,433.6h0M198.2,434.3h0M200.3,435.2h0M202.3,436.0h0M204.4,436.7h0M206.5,437.3h0M208.6,437.8h0M210.8,438.3h0M212.9,438.8h0M215.1,439.2h0M217.3,439.6h0M219.4,440.0h0M221.6,440.4h0M223.8,440.8h0M225.9,441.2h0M228.1,441.6h0M230.2,442.0h0M232.4,442.3h0M234.6,442.7h0M236.8,442.9h0M239.0,443.0h0M241.2,443.1h0M243.4,443.1h0M245.6,443.1h0M247.8,443.2h0M250.0,443.2h0M252.2,443.2h0M254.4,443.2h0M256.6,443.2h0M258.8,443.2h0M261.0,443.1h0M263.2,443.1h0M265.4,443.1h0M267.6,443.0h0M269.8,443.0h0M272.0,442.9h0M274.2,442.8h0M276.4,442.8h0M278.6,442.6h0M280.8,442.5h0M283.0,442.4h0M285.1,442.2h0M287.3,441.9h0M289.5,441.6h0M291.7,441.2h0M293.8,440.6h0M295.8,439.8h0M297.7,438.7h0M299.5,437.4h0M301.1,435.9h0M302.5,434.2h0M303.8,432.4h0M305.0,430.6h0M306.2,428.7h0M307.3,426.8h0M308.4,424.9h0M309.5,423.0h0M310.6,421.1h0M311.8,419.3h0M313.3,417.7h0M315.3,416.8h0M317.1,417.9h0M318.2,419.8h0M319.1,421.8h0M319.9,423.8h0M320.7,425.9h0M321.5,427.9h0M322.3,430.0h0M323.2,432.0h0M324.1,434.0h0M325.1,436.0h0M326.2,437.9h0M327.4,439.7h0M328.9,441.4h0M330.5,442.8h0M332.4,443.9h0M334.4,444.8h0M336.5,445.5h0M338.7,446.0h0M340.8,446.5h0M343.0,447.0h0M345.1,447.4h0M347.3,447.8h0M349.4,448.1h0M351.6,448.5h0" stroke="#7a22d8" stroke-width="2.80" stroke-linecap="round" fill="none" opacity="1.0"/>
<path d="M159.0,430.7 159.2,430.7 159.5,430.7 159.8,430.7 160.0,430.7 160.2,430.7 160.5,430.7 160.8,430.7 161.0,430.7 161.2,430.6 161.5,430.6 161.8,430.6 162.0,430.6 162.2,430.6 162.5,430.6 162.8,430.6 163.0,430.6 163.2,430.6 163.5,430.6 163.8,430.5 164.0,430.5 164.2,430.5 164.5,430.5 164.8,430.5 165.0,430.5 165.2,430.5 165.5,430.5 165.8,430.5 166.0,430.5 166.2,430.5 166.5,430.4 166.8,430.4 167.0,430.4 167.2,430.4 167.5,430.4 167.8,430.4 168.0,430.4 168.2,430.4 168.5,430.4 168.8,430.4 169.0,430.4 169.2,430.4 169.5,430.3 169.8,430.3 170.0,430.3 170.2,430.3 170.5,430.3 170.8,430.3 171.0,430.3 171.2,430.3 171.5,430.3 171.8,430.3 172.0,430.3 172.2,430.3 172.5,430.3 172.8,430.2 173.0,430.2 173.2,430.2 173.5,430.2 173.8,430.2 174.0,430.2 174.2,430.2 174.5,430.2 174.8,430.2 175.0,430.2 175.2,430.2 175.5,430.2 175.8,430.2 176.0,430.1 176.2,430.1 176.5,430.1 176.8,430.1 177.0,430.1 177.2,430.1 177.5,430.1 177.8,430.1 178.0,430.1 178.2,430.1 178.5,430.1 178.8,430.1 179.0,430.0 179.2,430.0 179.5,430.0 179.8,430.0 180.0,430.0 180.2,430.0 180.5,430.0 180.8,430.0 181.0,430.0 181.2,430.0 181.5,430.0 181.8,430.0 182.0,429.9 182.2,429.9 182.5,429.9 182.8,429.9 183.0,429.9 183.2,429.9 183.5,429.9 183.8,429.9 184.0,429.9 184.2,429.9 184.5,429.8 184.8,429.8 185.0,429.8 185.2,429.8 185.5,429.8 185.8,429.8 186.0,429.8 186.2,429.8 186.5,429.8 186.8,429.8 187.0,429.7 187.2,429.7 187.5,429.7 187.8,429.7 188.0,429.7 188.2,429.7 188.5,429.7 188.8,429.7 189.0,429.6 189.2,429.6 189.5,429.6 189.8,429.6 190.0,429.6 190.2,429.6 190.5,429.6 190.8,429.5 191.0,429.5 191.2,429.5 191.5,429.5 191.8,429.5 192.0,429.5 192.2,429.4 192.5,429.4 192.8,429.4 193.0,429.4 193.2,429.4 193.5,429.4 193.8,429.3 194.0,429.3 194.2,429.3 194.5,429.3 194.8,429.2 195.0,429.2 195.2,429.2 195.5,429.2 195.8,429.1 196.0,429.1 196.2,429.1 196.5,429.1 196.8,429.0 197.0,429.0 197.2,429.0 197.5,428.9 197.8,428.9 198.0,428.9 198.2,428.8 198.5,428.8 198.8,428.7 199.0,428.7 199.2,428.7 199.5,428.6 199.8,428.6 200.0,428.5 200.2,428.4 200.5,428.4 200.8,428.3 201.0,428.3 201.2,428.3 201.5,428.2 201.8,428.2 202.0,428.1 202.2,428.1 202.5,428.0 202.8,428.0 203.0,427.9 203.2,427.9 203.5,427.8 203.8,427.8 204.0,427.7 204.2,427.6 204.5,427.5 204.8,427.4 205.0,427.3 205.2,427.2 205.5,427.1 205.8,426.9 206.0,426.8 206.2,426.6 206.5,426.4 206.8,426.2 207.0,425.9 207.2,425.7 207.5,425.4 207.8,425.1 208.0,424.8 208.2,424.4 208.5,424.1 208.8,423.7 209.0,423.2 209.2,422.8 209.5,422.3 209.8,421.7 210.0,421.2 210.2,420.6 210.5,419.9 210.8,419.3 211.0,418.6 211.2,417.8 211.5,417.1 211.8,416.3 212.0,415.4 212.2,414.5 212.5,413.6 212.8,412.7 213.0,411.7 213.2,410.7 213.5,409.7 213.8,408.6 214.0,407.5 214.2,406.4 214.5,405.2 214.8,404.1 215.0,402.9 215.2,401.7 215.5,400.5 215.8,399.3 216.0,398.1 216.2,396.9 216.5,395.8 216.8,394.6 217.0,393.4 217.2,392.3 217.5,391.2 217.8,390.1 218.0,389.1 218.2,388.1 218.5,387.2 218.8,386.3 219.0,385.5 219.2,384.8 219.5,384.1 219.8,383.5 220.0,383.0 220.2,382.6 220.5,382.2 220.8,382.0 221.0,381.8 221.2,381.8 221.5,381.8 221.8,381.9 222.0,382.1 222.2,382.3 222.5,382.6 222.8,383.0 223.0,383.4 223.2,383.8 223.5,384.3 223.8,384.8 224.0,385.4 224.2,386.1 224.5,386.7 224.8,387.4 225.0,388.2 225.2,389.0 225.5,389.8 225.8,390.6 226.0,391.5 226.2,392.4 226.5,393.3 226.8,394.3 227.0,395.2 227.2,396.2 227.5,397.2 227.8,398.2 228.0,399.2 228.2,400.2 228.5,401.2 228.8,402.2 229.0,403.2 229.2,404.2 229.5,405.3 229.8,406.3 230.0,407.3 230.2,408.3 230.5,409.3 230.8,410.2 231.0,411.2 231.2,412.2 231.5,413.1 231.8,414.1 232.0,415.0 232.2,415.9 232.5,416.8 232.8,417.7 233.0,418.6 233.2,419.4 233.5,420.2 233.8,421.0 234.0,421.8 234.2,422.6 234.5,423.4 234.8,424.1 235.0,424.8 235.2,425.5 235.5,426.2 235.8,426.9 236.0,427.5 236.2,428.1 236.5,428.7 236.8,429.3 237.0,429.9 237.2,430.4 237.5,430.9 237.8,431.4 238.0,431.9 238.2,432.4 238.5,432.9 238.8,433.3 239.0,433.7 239.2,434.1 239.5,434.5 239.8,434.9 240.0,435.2 240.2,435.6 240.5,435.9 240.8,436.2 241.0,436.5 241.2,436.8 241.5,437.0 241.8,437.3 242.0,437.5 242.2,437.8 242.5,438.0 242.8,438.2 243.0,438.4 243.2,438.6 243.5,438.8 243.8,439.0 244.0,439.2 244.2,439.3 244.5,439.5 244.8,439.6 245.0,439.8 245.2,439.9 245.5,440.0 245.8,440.1 246.0,440.2 246.2,440.4 246.5,440.5 246.8,440.6 247.0,440.7 247.2,440.7 247.5,440.8 247.8,440.9 248.0,441.0 248.2,441.1 248.5,441.1 248.8,441.2 249.0,441.3 249.2,441.3 249.5,441.4 249.8,441.4 250.0,441.5 250.2,441.5 250.5,441.6 250.8,441.6 251.0,441.7 251.2,441.7 251.5,441.7 251.8,441.8 252.0,441.8 252.2,441.9 252.5,441.9 252.8,441.9 253.0,442.0 253.2,442.0 253.5,442.0 253.8,442.1 254.0,442.1 254.2,442.1 254.5,442.2 254.8,442.2 255.0,442.2 255.2,442.2 255.5,442.3 255.8,442.3 256.0,442.3 256.2,442.3 256.5,442.4 256.8,442.4 257.0,442.4 257.2,442.4 257.5,442.5 257.8,442.5 258.0,442.5 258.2,442.5 258.5,442.5 258.8,442.6 259.0,442.6 259.2,442.6 259.5,442.6 259.8,442.6 260.0,442.7 260.2,442.7 260.5,442.7 260.8,442.7 261.0,442.7 261.2,442.8 261.5,442.8 261.8,442.8 262.0,442.8 262.2,442.8 262.5,442.8 262.8,442.9 263.0,442.9 263.2,442.9 263.5,442.9 263.8,442.9 264.0,442.9 264.2,442.9 264.5,443.0 264.8,443.0 265.0,443.0 265.2,443.0 265.5,443.0 265.8,443.0 266.0,443.0 266.2,443.1 266.5,443.1 266.8,443.1 267.0,443.1 267.2,443.1 267.5,443.1 267.8,443.1 268.0,443.2 268.2,443.2 268.5,443.2 268.8,443.2 269.0,443.2 269.2,443.2 269.5,443.2 269.8,443.2 270.0,443.2 270.2,443.3 270.5,443.3 270.8,443.3 271.0,443.3 271.2,443.3 271.5,443.3 271.8,443.3 272.0,443.3 272.2,443.3 272.5,443.3 272.8,443.4 273.0,443.4 273.2,443.4 273.5,443.4 273.8,443.4 274.0,443.4 274.2,443.4 274.5,443.4 274.8,443.4 275.0,443.4 275.2,443.5 275.5,443.5 275.8,443.5 276.0,443.5 276.2,443.5 276.5,443.5 276.8,443.5 277.0,443.5 277.2,443.5 277.5,443.5 277.8,443.5 278.0,443.5 278.2,443.5 278.5,443.6 278.8,443.6 279.0,443.6 279.2,443.6 279.5,443.6 279.8,443.6 280.0,443.6 280.2,443.6 280.5,443.6 280.8,443.6 281.0,443.6 281.2,443.6 281.5,443.6 281.8,443.6 282.0,443.7 282.2,443.7 282.5,443.7 282.8,443.7 283.0,443.7 283.2,443.7 283.5,443.7 283.8,443.7 284.0,443.7 284.2,443.7 284.5,443.7 284.8,443.7 285.0,443.7 285.2,443.7 285.5,443.7 285.8,443.7 286.0,443.7 286.2,443.7 286.5,443.8 286.8,443.8 287.0,443.8 287.2,443.8 287.5,443.8 287.8,443.8 288.0,443.8 288.2,443.8 288.5,443.8 288.8,443.8 289.0,443.8 289.2,443.8 289.5,443.8 289.8,443.8 290.0,443.8 290.2,443.8 290.5,443.8 290.8,443.8 291.0,443.8 291.2,443.8 291.5,443.8 291.8,443.8 292.0,443.8 292.2,443.8 292.5,443.9 292.8,443.9 293.0,443.9 293.2,443.9 293.5,443.9 293.8,443.9 294.0,443.9 294.2,443.9 294.5,443.9 294.8,443.9 295.0,443.9 295.2,443.9 295.5,443.9 295.8,443.9 296.0,443.9 296.2,443.9 296.5,443.9 296.8,443.9 297.0,443.9 297.2,443.9 297.5,443.9 297.8,443.9 298.0,443.9 298.2,443.9 298.5,443.9 298.8,443.9 299.0,443.9 299.2,443.9 299.5,443.9 299.8,443.9" fill="none" stroke="#7a1a9a" stroke-width="1.6" stroke-linejoin="round" stroke-linecap="round" opacity="1.0"/>
<path d="M159.0,430.7h0M161.6,430.6h0M164.2,430.5h0M166.8,430.4h0M169.4,430.4h0M172.0,430.3h0M174.6,430.2h0M177.2,430.1h0M179.8,430.0h0M182.4,429.9h0M185.0,429.8h0M187.6,429.7h0M190.2,429.6h0M192.8,429.4h0M195.4,429.2h0M197.9,428.9h0M200.5,428.4h0M203.1,427.9h0M205.5,427.1h0M207.5,425.4h0M209.0,423.3h0M210.1,420.9h0M211.0,418.5h0M211.8,416.0h0M212.5,413.5h0M213.2,411.0h0M213.8,408.5h0M214.3,406.0h0M214.9,403.4h0M215.4,400.9h0M216.0,398.3h0M216.5,395.8h0M217.0,393.2h0M217.6,390.7h0M218.2,388.2h0M219.0,385.7h0M219.9,383.2h0M221.7,381.9h0M223.3,383.9h0M224.3,386.3h0M225.2,388.8h0M225.9,391.3h0M226.6,393.8h0M227.3,396.3h0M227.9,398.8h0M228.5,401.3h0M229.2,403.9h0M229.8,406.4h0M230.4,408.9h0M231.1,411.4h0M231.7,413.9h0M232.4,416.4h0M233.1,418.9h0M233.9,421.4h0M234.7,423.9h0M235.6,426.3h0M236.5,428.8h0M237.6,431.1h0M238.8,433.4h0M240.3,435.6h0M242.0,437.5h0M244.0,439.2h0M246.3,440.4h0M248.8,441.2h0M251.3,441.7h0M253.9,442.1h0M256.5,442.4h0M259.1,442.6h0M261.7,442.8h0M264.2,442.9h0M266.8,443.1h0M269.4,443.2h0M272.0,443.3h0M274.6,443.4h0M277.2,443.5h0M279.8,443.6h0M282.4,443.7h0M285.0,443.7h0M287.6,443.8h0M290.2,443.8h0M292.8,443.9h0M295.4,443.9h0M298.0,443.9h0" stroke="#7a1a9a" stroke-width="2.70" stroke-linecap="round" fill="none" opacity="1.0"/>
<path d="M290.2,442.9 290.5,442.9 290.8,442.9 291.0,442.8 291.2,442.8 291.5,442.8 291.8,442.8 292.0,442.8 292.2,442.8 292.5,442.8 292.8,442.8 293.0,442.8 293.2,442.8 293.5,442.8 293.8,442.8 294.0,442.8 294.2,442.8 294.5,442.8 294.8,442.8 295.0,442.8 295.2,442.8 295.5,442.8 295.8,442.8 296.0,442.8 296.2,442.8 296.5,442.8 296.8,442.8 297.0,442.8 297.2,442.8 297.5,442.8 297.8,442.8 298.0,442.8 298.2,442.8 298.5,442.7 298.8,442.7 299.0,442.7 299.2,442.7 299.5,442.7 299.8,442.7 300.0,442.7 300.2,442.7 300.5,442.7 300.8,442.7 301.0,442.7 301.2,442.7 301.5,442.7 301.8,442.7 302.0,442.7 302.2,442.7 302.5,442.7 302.8,442.7 303.0,442.6 303.2,442.6 303.5,442.6 303.8,442.6 304.0,442.6 304.2,442.6 304.5,442.6 304.8,442.6 305.0,442.6 305.2,442.6 305.5,442.5 305.8,442.5 306.0,442.5 306.2,442.5 306.5,442.5 306.8,442.5 307.0,442.5 307.2,442.4 307.5,442.4 307.8,442.4 308.0,442.4 308.2,442.4 308.5,442.4 308.8,442.3 309.0,442.3 309.2,442.3 309.5,442.3 309.8,442.2 310.0,442.2 310.2,442.2 310.5,442.2 310.8,442.1 311.0,442.1 311.2,442.1 311.5,442.0 311.8,442.0 312.0,442.0 312.2,441.9 312.5,441.9 312.8,441.9 313.0,441.8 313.2,441.8 313.5,441.8 313.8,441.7 314.0,441.7 314.2,441.6 314.5,441.6 314.8,441.5 315.0,441.5 315.2,441.4 315.5,441.4 315.8,441.3 316.0,441.3 316.2,441.2 316.5,441.1 316.8,441.1 317.0,441.0 317.2,440.9 317.5,440.9 317.8,440.8 318.0,440.7 318.2,440.6 318.5,440.5 318.8,440.4 319.0,440.4 319.2,440.3 319.5,440.2 319.8,440.1 320.0,440.0 320.2,439.9 320.5,439.7 320.8,439.6 321.0,439.5 321.2,439.4 321.5,439.3 321.8,439.1 322.0,439.0 322.2,438.9 322.5,438.7 322.8,438.6 323.0,438.4 323.2,438.3 323.5,438.1 323.8,438.0 324.0,437.8 324.2,437.6 324.5,437.4 324.8,437.3 325.0,437.1 325.2,436.9 325.5,436.7 325.8,436.5 326.0,436.3 326.2,436.1 326.5,435.9 326.8,435.7 327.0,435.5 327.2,435.2 327.5,435.0 327.8,434.8 328.0,434.6 328.2,434.3 328.5,434.1 328.8,433.8 329.0,433.6 329.2,433.3 329.5,433.1 329.8,432.8 330.0,432.6 330.2,432.3 330.5,432.0 330.8,431.8 331.0,431.5 331.2,431.2 331.5,430.9 331.8,430.7 332.0,430.4 332.2,430.1 332.5,429.8 332.8,429.5 333.0,429.3 333.2,429.0 333.5,428.7 333.8,428.4 334.0,428.1 334.2,427.8 334.5,427.6 334.8,427.3 335.0,427.0 335.2,426.7 335.5,426.5 335.8,426.2 336.0,425.9 336.2,425.7 336.5,425.4 336.8,425.2 337.0,424.9 337.2,424.7 337.5,424.5 337.8,424.2 338.0,424.0 338.2,423.8 338.5,423.6 338.8,423.4 339.0,423.2 339.2,423.0 339.5,422.9 339.8,422.7 340.0,422.6 340.2,422.4 340.5,422.3 340.8,422.2 341.0,422.1 341.2,422.0 341.5,421.9 341.8,421.8 342.0,421.8 342.2,421.7 342.5,421.7 342.8,421.7 343.0,421.7 343.2,421.7 343.5,421.8 343.8,421.8 344.0,421.9 344.2,421.9 344.5,422.0 344.8,422.1 345.0,422.2 345.2,422.3 345.5,422.5 345.8,422.6 346.0,422.8 346.2,422.9 346.5,423.1 346.8,423.3 347.0,423.5 347.2,423.7 347.5,424.0 347.8,424.2 348.0,424.4 348.2,424.7 348.5,424.9 348.8,425.2 349.0,425.5 349.2,425.8 349.5,426.0 349.8,426.3 350.0,426.6 350.2,426.9 350.5,427.2 350.8,427.5 351.0,427.8 351.2,428.2 351.5,428.5 351.8,428.8 352.0,429.1 352.2,429.4 352.5,429.8 352.8,430.1 353.0,430.4 353.2,430.8 353.5,431.1 353.8,431.4 354.0,431.7 354.2,432.1 354.5,432.4 354.8,432.7 355.0,433.0 355.2,433.4 355.5,433.7 355.8,434.0 356.0,434.3 356.2,434.6 356.5,434.9 356.8,435.3 357.0,435.6 357.2,435.9 357.5,436.2 357.8,436.5 358.0,436.8 358.2,437.0 358.5,437.3 358.8,437.6 359.0,437.9 359.2,438.2 359.5,438.4 359.8,438.7 360.0,439.0 360.2,439.2 360.5,439.5 360.8,439.7 361.0,440.0 361.2,440.2 361.5,440.5 361.8,440.7 362.0,440.9 362.2,441.2 362.5,441.4 362.8,441.6 363.0,441.8 363.2,442.0 363.5,442.2 363.8,442.4 364.0,442.6 364.2,442.8 364.5,443.0 364.8,443.2 365.0,443.4 365.2,443.6 365.5,443.7 365.8,443.9 366.0,444.1 366.2,444.2 366.5,444.4 366.8,444.6 367.0,444.7 367.2,444.9 367.5,445.0 367.8,445.2 368.0,445.3 368.2,445.4 368.5,445.6 368.8,445.7 369.0,445.8 369.2,445.9 369.5,446.1 369.8,446.2 370.0,446.3 370.2,446.4 370.5,446.5 370.8,446.6 371.0,446.7 371.2,446.8 371.5,446.9 371.8,447.0 372.0,447.1 372.2,447.2 372.5,447.3 372.8,447.4 373.0,447.5 373.2,447.6 373.5,447.6 373.8,447.7 374.0,447.8 374.2,447.9 374.5,447.9 374.8,448.0 375.0,448.1 375.2,448.2 375.5,448.2 375.8,448.3 376.0,448.4 376.2,448.4 376.5,448.5 376.8,448.6 377.0,448.6 377.2,448.7 377.5,448.7 377.8,448.8 378.0,448.9 378.2,448.9 378.5,449.0 378.8,449.0 379.0,449.1 379.2,449.1 379.5,449.2 379.8,449.2 380.0,449.3 380.2,449.3 380.5,449.4 380.8,449.4 381.0,449.5 381.2,449.5 381.5,449.6 381.8,449.6 382.0,449.7 382.2,449.7 382.5,449.8 382.8,449.8 383.0,449.8 383.2,449.9 383.5,449.9 383.8,450.0 384.0,450.0 384.2,450.1 384.5,450.1 384.8,450.1 385.0,450.2 385.2,450.2 385.5,450.3 385.8,450.3 386.0,450.3 386.2,450.4 386.5,450.4 386.8,450.5 387.0,450.5 387.2,450.5 387.5,450.6 387.8,450.6 388.0,450.7 388.2,450.7 388.5,450.7 388.8,450.8 389.0,450.8 389.2,450.8 389.5,450.9 389.8,450.9 390.0,451.0 390.2,451.0 390.5,451.0 390.8,451.1 391.0,451.1 391.2,451.1 391.5,451.2 391.8,451.2 392.0,451.2 392.2,451.3 392.5,451.3 392.8,451.4 393.0,451.4 393.2,451.4 393.5,451.5 393.8,451.5 394.0,451.5 394.2,451.6 394.5,451.6 394.8,451.6 395.0,451.7 395.2,451.7 395.5,451.7 395.8,451.8 396.0,451.8 396.2,451.8 396.5,451.9 396.8,451.9 397.0,451.9 397.2,452.0 397.5,452.0 397.8,452.0 398.0,452.1 398.2,452.1 398.5,452.1 398.8,452.2 399.0,452.2 399.2,452.2 399.5,452.3 399.8,452.3 400.0,452.3 400.2,452.4 400.5,452.4 400.8,452.4 401.0,452.5 401.2,452.5 401.5,452.5 401.8,452.6 402.0,452.6 402.2,452.6 402.5,452.7 402.8,452.7 403.0,452.7 403.2,452.8 403.5,452.8 403.8,452.8 404.0,452.9 404.2,452.9 404.5,452.9 404.8,453.0" fill="none" stroke="#1c1c80" stroke-width="3.0" stroke-linejoin="round" stroke-linecap="round" opacity="1.0"/>
<path d="M386.2,451.2 386.5,451.2 386.8,451.1 387.0,451.1 387.2,451.1 387.5,451.0 387.8,451.0 388.0,450.9 388.2,450.9 388.5,450.8 388.8,450.7 389.0,450.7 389.2,450.6 389.5,450.5 389.8,450.4 390.0,450.3 390.2,450.2 390.5,450.1 390.8,450.0 391.0,449.9 391.2,449.8 391.5,449.7 391.8,449.5 392.0,449.4 392.2,449.2 392.5,449.0 392.8,448.8 393.0,448.6 393.2,448.4 393.5,448.2 393.8,448.0 394.0,447.7 394.2,447.4 394.5,447.2 394.8,446.9 395.0,446.5 395.2,446.2 395.5,445.9 395.8,445.5 396.0,445.1 396.2,444.7 396.5,444.2 396.8,443.8 397.0,443.3 397.2,442.8 397.5,442.3 397.8,441.7 398.0,441.1 398.2,440.5 398.5,439.9 398.8,439.2 399.0,438.5 399.2,437.8 399.5,437.1 399.8,436.3 400.0,435.5 400.2,434.6 400.5,433.7 400.8,432.8 401.0,431.9 401.2,430.9 401.5,429.9 401.8,428.9 402.0,427.8 402.2,426.7 402.5,425.5 402.8,424.3 403.0,423.1 403.2,421.9 403.5,420.6 403.8,419.3 404.0,417.9 404.2,416.6 404.5,415.2 404.8,413.7 405.0,412.3 405.2,410.8 405.5,409.3 405.8,407.8 406.0,406.2 406.2,404.6 406.5,403.0 406.8,401.4 407.0,399.8 407.2,398.2 407.5,396.6 407.8,394.9 408.0,393.3 408.2,391.6 408.5,390.0 408.8,388.3 409.0,386.7 409.2,385.0 409.5,383.4 409.8,381.8 410.0,380.1 410.2,378.5 410.5,377.0 410.8,375.4 411.0,373.9 411.2,372.4 411.5,370.9 411.8,369.5 412.0,368.1 412.2,366.7 412.5,365.4 412.8,364.2 413.0,363.0 413.2,361.8 413.5,360.7 413.8,359.7 414.0,358.7 414.2,357.8 414.5,356.9 414.8,356.1 415.0,355.4 415.2,354.8 415.5,354.3 415.8,353.8 416.0,353.4 416.2,353.1 416.5,352.8 416.8,352.7 417.0,352.6 417.2,352.6 417.5,352.7 417.8,352.9 418.0,353.1 418.2,353.4 418.5,353.7 418.8,354.1 419.0,354.5 419.2,355.0 419.5,355.5 419.8,356.1 420.0,356.8 420.2,357.4 420.5,358.2 420.8,359.0 421.0,359.8 421.2,360.7 421.5,361.6 421.8,362.5 422.0,363.5 422.2,364.6 422.5,365.6 422.8,366.8 423.0,367.9 423.2,369.1 423.5,370.3 423.8,371.5 424.0,372.8 424.2,374.1 424.5,375.4 424.8,376.8 425.0,378.1 425.2,379.5 425.5,380.9 425.8,382.4 426.0,383.8 426.2,385.3 426.5,386.7 426.8,388.2 427.0,389.7 427.2,391.2 427.5,392.7 427.8,394.2 428.0,395.7 428.2,397.3 428.5,398.8 428.8,400.3 429.0,401.8 429.2,403.3 429.5,404.9 429.8,406.4 430.0,407.9 430.2,409.4 430.5,410.9 430.8,412.4 431.0,413.8 431.2,415.3 431.5,416.7 431.8,418.2 432.0,419.6 432.2,421.0 432.5,422.4 432.8,423.8 433.0,425.2 433.2,426.5 433.5,427.9 433.8,429.2 434.0,430.5 434.2,431.7 434.5,433.0 434.8,434.3 435.0,435.5 435.2,436.8 435.5,438.0 435.8,439.2 436.0,440.4 436.2,441.5 436.5,442.7 436.8,443.8 437.0,444.9 437.2,446.0 437.5,447.1 437.8,448.2 438.0,449.2 438.2,450.2 438.5,451.2 438.8,452.2 439.0,453.2 439.2,454.1 439.5,455.0 439.8,455.9 440.0,456.8 440.2,457.6 440.5,458.5 440.8,459.3 441.0,460.1 441.2,460.8 441.5,461.6 441.8,462.3 442.0,463.0 442.2,463.7 442.5,464.3 442.8,465.0 443.0,465.6 443.2,466.2 443.5,466.7 443.8,467.3 444.0,467.8 444.2,468.3 444.5,468.8 444.8,469.2 445.0,469.6 445.2,470.1 445.5,470.4 445.8,470.8 446.0,471.1 446.2,471.5 446.5,471.8 446.8,472.1 447.0,472.4 447.2,472.6 447.5,472.9 447.8,473.2 448.0,473.4 448.2,473.7 448.5,473.9 448.8,474.1 449.0,474.3 449.2,474.5 449.5,474.7 449.8,474.9 450.0,475.1 450.2,475.3 450.5,475.5 450.8,475.6 451.0,475.8 451.2,475.9 451.5,476.1 451.8,476.2 452.0,476.4 452.2,476.5 452.5,476.6 452.8,476.7 453.0,476.8 453.2,477.0 453.5,477.1 453.8,477.2 454.0,477.3 454.2,477.4 454.5,477.4 454.8,477.5 455.0,477.6 455.2,477.7 455.5,477.8 455.8,477.8 456.0,477.9 456.2,478.0 456.5,478.0 456.8,478.1 457.0,478.1 457.2,478.2 457.5,478.2 457.8,478.3 458.0,478.3 458.2,478.3 458.5,478.4 458.8,478.4 459.0,478.5 459.2,478.5 459.5,478.5 459.8,478.5 460.0,478.6 460.2,478.6 460.5,478.6 460.8,478.6 461.0,478.7 461.2,478.7 461.5,478.7 461.8,478.7 462.0,478.7 462.2,478.8 462.5,478.8 462.8,478.8 463.0,478.8 463.2,478.8 463.5,478.9 463.8,478.9 464.0,478.9 464.2,478.9 464.5,478.9 464.8,478.9 465.0,479.0 465.2,479.0 465.5,479.0 465.8,479.0 466.0,479.0 466.2,479.0 466.5,479.1 466.8,479.1 467.0,479.1 467.2,479.1 467.5,479.1 467.8,479.1 468.0,479.1 468.2,479.1 468.5,479.2 468.8,479.2 469.0,479.2 469.2,479.2 469.5,479.2 469.8,479.2 470.0,479.2 470.2,479.2 470.5,479.2 470.8,479.3 471.0,479.3 471.2,479.3 471.5,479.3 471.8,479.3 472.0,479.3 472.2,479.3 472.5,479.3 472.8,479.3 473.0,479.3 473.2,479.4 473.5,479.4 473.8,479.4 474.0,479.4 474.2,479.4 474.5,479.4 474.8,479.4 475.0,479.4 475.2,479.4 475.5,479.4 475.8,479.4 476.0,479.4 476.2,479.5 476.5,479.5 476.8,479.5 477.0,479.5 477.2,479.5 477.5,479.5 477.8,479.5 478.0,479.5 478.2,479.5 478.5,479.5 478.8,479.5 479.0,479.5 479.2,479.5 479.5,479.5 479.8,479.5 480.0,479.6 480.2,479.6 480.5,479.6 480.8,479.6 481.0,479.6 481.2,479.6 481.5,479.6 481.8,479.6 482.0,479.6 482.2,479.6 482.5,479.6 482.8,479.6 483.0,479.6 483.2,479.6 483.5,479.6 483.8,479.6 484.0,479.6 484.2,479.6 484.5,479.7 484.8,479.7 485.0,479.7 485.2,479.7 485.5,479.7 485.8,479.7 486.0,479.7 486.2,479.7 486.5,479.7 486.8,479.7 487.0,479.7 487.2,479.7 487.5,479.7 487.8,479.7 488.0,479.7 488.2,479.7 488.5,479.7 488.8,479.7 489.0,479.7 489.2,479.7 489.5,479.7" fill="none" stroke="#1e7e1e" stroke-width="1.5" stroke-linejoin="round" stroke-linecap="round" opacity="1.0"/>
<path d="M384.8,451.2h3.0M386.2,449.7v3.0M387.9,450.6h3.0M389.4,449.1v3.0M390.8,449.2h3.0M392.3,447.7v3.0M393.1,447.0h3.0M394.6,445.5v3.0M394.9,444.4h3.0M396.4,442.9v3.0M396.3,441.5h3.0M397.8,440.0v3.0M397.5,438.5h3.0M399.0,437.0v3.0M398.5,435.5h3.0M400.0,434.0v3.0M399.4,432.4h3.0M400.9,430.9v3.0M400.1,429.3h3.0M401.6,427.8v3.0M400.9,426.2h3.0M402.4,424.7v3.0M401.5,423.1h3.0M403.0,421.6v3.0M402.1,419.9h3.0M403.6,418.4v3.0M402.7,416.8h3.0M404.2,415.3v3.0M403.3,413.6h3.0M404.8,412.1v3.0M403.8,410.5h3.0M405.3,409.0v3.0M404.3,407.3h3.0M405.8,405.8v3.0M404.8,404.2h3.0M406.3,402.7v3.0M405.3,401.0h3.0M406.8,399.5v3.0M405.8,397.8h3.0M407.3,396.3v3.0M406.3,394.7h3.0M407.8,393.2v3.0M406.8,391.5h3.0M408.3,390.0v3.0M407.2,388.3h3.0M408.7,386.8v3.0M407.7,385.2h3.0M409.2,383.7v3.0M408.2,382.0h3.0M409.7,380.5v3.0M408.7,378.9h3.0M410.2,377.4v3.0M409.2,375.7h3.0M410.7,374.2v3.0M409.7,372.5h3.0M411.2,371.0v3.0M410.3,369.4h3.0M411.8,367.9v3.0M410.8,366.2h3.0M412.3,364.7v3.0M411.5,363.1h3.0M413.0,361.6v3.0M412.2,360.0h3.0M413.7,358.5v3.0M413.0,356.9h3.0M414.5,355.4v3.0M414.2,353.9h3.0M415.7,352.4v3.0M416.6,353.2h3.0M418.1,351.7v3.0M418.2,356.0h3.0M419.7,354.5v3.0M419.3,359.0h3.0M420.8,357.5v3.0M420.1,362.1h3.0M421.6,360.6v3.0M420.9,365.2h3.0M422.4,363.7v3.0M421.6,368.3h3.0M423.1,366.8v3.0M422.2,371.4h3.0M423.7,369.9v3.0M422.8,374.6h3.0M424.3,373.1v3.0M423.4,377.7h3.0M424.9,376.2v3.0M424.0,380.9h3.0M425.5,379.4v3.0M424.5,384.0h3.0M426.0,382.5v3.0M425.1,387.2h3.0M426.6,385.7v3.0M425.6,390.3h3.0M427.1,388.8v3.0M426.1,393.5h3.0M427.6,392.0v3.0M426.6,396.6h3.0M428.1,395.1v3.0M427.2,399.8h3.0M428.7,398.3v3.0M427.7,403.0h3.0M429.2,401.5v3.0M428.2,406.1h3.0M429.7,404.6v3.0M428.7,409.3h3.0M430.2,407.8v3.0M429.3,412.4h3.0M430.8,410.9v3.0M429.8,415.6h3.0M431.3,414.1v3.0M430.3,418.7h3.0M431.8,417.2v3.0M430.9,421.9h3.0M432.4,420.4v3.0M431.5,425.0h3.0M433.0,423.5v3.0M432.1,428.2h3.0M433.6,426.7v3.0M432.7,431.3h3.0M434.2,429.8v3.0M433.3,434.5h3.0M434.8,433.0v3.0M433.9,437.6h3.0M435.4,436.1v3.0M434.6,440.7h3.0M436.1,439.2v3.0M435.3,443.9h3.0M436.8,442.4v3.0M436.0,447.0h3.0M437.5,445.5v3.0M436.7,450.1h3.0M438.2,448.6v3.0M437.5,453.2h3.0M439.0,451.7v3.0M438.4,456.3h3.0M439.9,454.8v3.0M439.3,459.3h3.0M440.8,457.8v3.0M440.3,462.4h3.0M441.8,460.9v3.0M441.4,465.4h3.0M442.9,463.9v3.0M442.7,468.3h3.0M444.2,466.8v3.0M444.4,471.0h3.0M445.9,469.5v3.0M446.5,473.4h3.0M448.0,471.9v3.0M449.0,475.4h3.0M450.5,473.9v3.0M451.8,477.0h3.0M453.3,475.5v3.0M454.8,478.0h3.0M456.3,476.5v3.0M458.0,478.5h3.0M459.5,477.0v3.0M461.2,478.8h3.0M462.7,477.3v3.0M464.3,479.0h3.0M465.8,477.5v3.0M467.5,479.2h3.0M469.0,477.7v3.0M470.7,479.3h3.0M472.2,477.8v3.0M473.9,479.4h3.0M475.4,477.9v3.0M477.1,479.5h3.0M478.6,478.0v3.0M480.3,479.6h3.0M481.8,478.1v3.0M483.5,479.7h3.0M485.0,478.2v3.0M486.7,479.7h3.0M488.2,478.2v3.0" stroke="#1e7e1e" stroke-width="1.1" fill="none"/>
<path d="M407.2,452.3 407.5,452.3 407.8,452.3 408.0,452.4 408.2,452.4 408.5,452.5 408.8,452.5 409.0,452.6 409.2,452.6 409.5,452.7 409.8,452.7 410.0,452.8 410.2,452.8 410.5,452.9 410.8,453.0 411.0,453.0 411.2,453.1 411.5,453.1 411.8,453.2 412.0,453.2 412.2,453.3 412.5,453.4 412.8,453.4 413.0,453.5 413.2,453.5 413.5,453.6 413.8,453.6 414.0,453.6 414.2,453.7 414.5,453.7 414.8,453.7 415.0,453.8 415.2,453.8 415.5,453.8 415.8,453.8 416.0,453.8 416.2,453.8 416.5,453.8 416.8,453.8 417.0,453.7 417.2,453.7 417.5,453.7 417.8,453.6 418.0,453.5 418.2,453.5 418.5,453.4 418.8,453.3 419.0,453.2 419.2,453.1 419.5,453.0 419.8,452.8 420.0,452.7 420.2,452.5 420.5,452.3 420.8,452.1 421.0,451.9 421.2,451.6 421.5,451.3 421.8,451.0 422.0,450.7 422.2,450.4 422.5,450.0 422.8,449.6 423.0,449.2 423.2,448.8 423.5,448.3 423.8,447.8 424.0,447.2 424.2,446.6 424.5,446.0 424.8,445.4 425.0,444.7 425.2,443.9 425.5,443.1 425.8,442.3 426.0,441.5 426.2,440.5 426.5,439.6 426.8,438.6 427.0,437.5 427.2,436.4 427.5,435.3 427.8,434.0 428.0,432.8 428.2,431.5 428.5,430.1 428.8,428.7 429.0,427.2 429.2,425.7 429.5,424.1 429.8,422.4 430.0,420.8 430.2,419.0 430.5,417.2 430.8,415.4 431.0,413.5 431.2,411.5 431.5,409.5 431.8,407.5 432.0,405.4 432.2,403.3 432.5,401.1 432.8,398.9 433.0,396.7 433.2,394.4 433.5,392.1 433.8,389.8 434.0,387.4 434.2,385.1 434.5,382.7 434.8,380.3 435.0,378.0 435.2,375.6 435.5,373.3 435.8,370.9 436.0,368.6 436.2,366.4 436.5,364.1 436.8,361.9 437.0,359.7 437.2,357.6 437.5,355.6 437.8,353.6 438.0,351.7 438.2,349.8 438.5,348.1 438.8,346.4 439.0,344.8 439.2,343.3 439.5,342.0 439.8,340.7 440.0,339.6 440.2,338.6 440.5,337.7 440.8,337.0 441.0,336.4 441.2,336.0 441.5,335.7 441.8,335.5 442.0,335.5 442.2,335.7 442.5,336.0 442.8,336.4 443.0,337.0 443.2,337.7 443.5,338.6 443.8,339.6 444.0,340.7 444.2,341.9 444.5,343.3 444.8,344.7 445.0,346.3 445.2,348.0 445.5,349.7 445.8,351.6 446.0,353.5 446.2,355.5 446.5,357.6 446.8,359.7 447.0,361.9 447.2,364.2 447.5,366.5 447.8,368.9 448.0,371.3 448.2,373.8 448.5,376.2 448.8,378.7 449.0,381.3 449.2,383.8 449.5,386.3 449.8,388.8 450.0,391.4 450.2,393.9 450.5,396.4 450.8,398.9 451.0,401.4 451.2,403.8 451.5,406.3 451.8,408.7 452.0,411.0 452.2,413.4 452.5,415.6 452.8,417.9 453.0,420.1 453.2,422.3 453.5,424.4 453.8,426.5 454.0,428.5 454.2,430.5 454.5,432.4 454.8,434.3 455.0,436.1 455.2,437.9 455.5,439.6 455.8,441.3 456.0,442.9 456.2,444.4 456.5,445.9 456.8,447.4 457.0,448.8 457.2,450.1 457.5,451.4 457.8,452.7 458.0,453.9 458.2,455.0 458.5,456.1 458.8,457.2 459.0,458.2 459.2,459.1 459.5,460.1 459.8,460.9 460.0,461.8 460.2,462.6 460.5,463.4 460.8,464.1 461.0,464.8 461.2,465.4 461.5,466.1 461.8,466.6 462.0,467.2 462.2,467.8 462.5,468.3 462.8,468.7 463.0,469.2 463.2,469.6 463.5,470.0 463.8,470.4 464.0,470.8 464.2,471.1 464.5,471.5 464.8,471.8 465.0,472.1 465.2,472.4 465.5,472.6 465.8,472.9 466.0,473.1 466.2,473.3 466.5,473.6 466.8,473.8 467.0,473.9 467.2,474.1 467.5,474.3 467.8,474.5 468.0,474.6 468.2,474.8 468.5,474.9 468.8,475.0 469.0,475.2 469.2,475.3 469.5,475.4 469.8,475.5 470.0,475.6 470.2,475.7 470.5,475.8 470.8,475.9 471.0,476.0 471.2,476.1 471.5,476.1 471.8,476.2 472.0,476.3 472.2,476.4 472.5,476.4 472.8,476.5 473.0,476.6 473.2,476.6 473.5,476.7 473.8,476.7 474.0,476.8 474.2,476.9 474.5,476.9 474.8,477.0 475.0,477.0 475.2,477.1 475.5,477.1 475.8,477.2 476.0,477.2 476.2,477.2 476.5,477.3 476.8,477.3 477.0,477.4 477.2,477.4 477.5,477.4 477.8,477.5 478.0,477.5 478.2,477.6 478.5,477.6 478.8,477.6 479.0,477.7 479.2,477.7 479.5,477.7 479.8,477.8 480.0,477.8 480.2,477.8 480.5,477.9 480.8,477.9 481.0,477.9 481.2,477.9 481.5,478.0 481.8,478.0 482.0,478.0 482.2,478.1 482.5,478.1 482.8,478.1 483.0,478.1 483.2,478.2 483.5,478.2 483.8,478.2 484.0,478.2 484.2,478.2 484.5,478.3 484.8,478.3 485.0,478.3 485.2,478.3 485.5,478.4 485.8,478.4 486.0,478.4 486.2,478.4 486.5,478.4 486.8,478.5 487.0,478.5 487.2,478.5 487.5,478.5 487.8,478.5 488.0,478.5 488.2,478.6 488.5,478.6 488.8,478.6 489.0,478.6 489.2,478.6 489.5,478.6" fill="none" stroke="#e020d0" stroke-width="1.7" stroke-linejoin="round" stroke-linecap="round" opacity="1.0"/>
<path d="M407.2,452.3h0M410.2,452.8h0M413.1,453.5h0M416.1,453.8h0M419.0,453.2h0M421.4,451.4h0M423.1,449.0h0M424.4,446.3h0M425.4,443.4h0M426.2,440.6h0M427.0,437.6h0M427.6,434.7h0M428.2,431.8h0M428.7,428.8h0M429.2,425.9h0M429.7,422.9h0M430.1,419.9h0M430.5,417.0h0M430.9,414.0h0M431.3,411.0h0M431.7,408.0h0M432.0,405.0h0M432.4,402.1h0M432.7,399.1h0M433.1,396.1h0M433.4,393.1h0M433.7,390.1h0M434.0,387.2h0M434.3,384.2h0M434.7,381.2h0M435.0,378.2h0M435.3,375.2h0M435.6,372.2h0M435.9,369.3h0M436.3,366.3h0M436.6,363.3h0M436.9,360.3h0M437.3,357.3h0M437.7,354.4h0M438.0,351.4h0M438.4,348.4h0M438.9,345.4h0M439.4,342.5h0M440.0,339.6h0M440.9,336.7h0M442.8,336.5h0M443.7,339.4h0M444.3,342.3h0M444.8,345.3h0M445.3,348.2h0M445.7,351.2h0M446.1,354.2h0M446.4,357.1h0M446.8,360.1h0M447.1,363.1h0M447.5,366.1h0M447.8,369.1h0M448.1,372.1h0M448.4,375.0h0M448.7,378.0h0M449.0,381.0h0M449.3,384.0h0M449.6,387.0h0M449.9,390.0h0M450.2,393.0h0M450.5,395.9h0M450.8,398.9h0M451.1,401.9h0M451.4,404.9h0M451.7,407.9h0M452.0,410.9h0M452.3,413.8h0M452.6,416.8h0M453.0,419.8h0M453.3,422.8h0M453.7,425.8h0M454.0,428.7h0M454.4,431.7h0M454.8,434.7h0M455.2,437.7h0M455.7,440.6h0M456.1,443.6h0M456.6,446.6h0M457.1,449.5h0M457.7,452.5h0M458.3,455.4h0M459.0,458.3h0M459.8,461.2h0M460.7,464.1h0M461.8,466.8h0M463.2,469.5h0M464.9,472.0h0M467.1,474.0h0M469.7,475.5h0M472.5,476.4h0M475.5,477.1h0M478.4,477.6h0M481.4,478.0h0M484.4,478.3h0M487.4,478.5h0" stroke="#e020d0" stroke-width="3.10" stroke-linecap="round" fill="none" opacity="1.0"/>
<path d="M159.5,421.5h0M161.7,421.7h0M163.9,419.3h0M166.1,420.3h0M168.3,422.2h0M170.5,419.0h0M172.7,416.2h0M174.9,415.9h0M177.1,412.6h0M179.3,412.6h0M181.5,411.3h0M183.7,405.8h0M185.9,403.5h0M188.1,401.8h0M190.3,394.6h0M192.5,391.2h0M194.7,385.0h0M196.9,382.6h0M199.1,382.3h0M201.3,388.1h0M203.5,385.4h0M205.7,386.5h0M207.9,387.4h0M210.1,388.6h0M212.3,389.3h0M214.5,385.5h0M216.7,383.0h0M218.9,373.8h0M221.1,373.6h0M223.3,374.9h0M225.5,382.1h0M227.7,387.8h0M229.9,400.1h0M232.1,409.7h0M234.3,417.6h0M236.5,420.7h0M238.7,430.5h0M240.9,432.0h0M243.1,436.0h0M245.3,440.2h0M247.5,442.2h0M249.7,444.2h0M251.9,442.0h0M254.1,443.0h0M256.3,445.5h0M258.5,445.5h0M260.7,444.8h0M262.9,444.7h0M265.1,444.4h0M267.3,445.8h0M269.5,447.9h0M271.7,444.2h0M273.9,448.5h0M276.1,447.3h0M278.3,445.0h0M280.5,446.9h0M282.7,442.9h0M284.9,442.1h0M287.1,442.4h0M289.3,443.1h0M291.5,442.4h0M293.7,440.3h0M295.9,437.7h0M298.1,430.0h0M300.3,431.6h0M302.5,425.7h0M304.7,423.8h0M306.9,420.8h0M309.1,416.1h0M311.3,412.4h0M313.5,410.6h0M315.7,411.1h0M317.9,413.4h0M320.1,417.0h0M322.3,418.2h0M324.5,421.6h0M326.7,423.2h0M328.9,426.2h0M331.1,421.5h0M333.3,425.9h0M335.5,421.4h0M337.7,419.3h0M339.9,420.0h0M342.1,420.7h0M344.3,419.9h0M346.5,422.3h0M348.7,422.8h0M350.9,427.3h0M353.1,430.1h0M355.3,430.7h0M357.5,436.1h0M359.7,436.5h0M361.9,438.7h0M364.1,438.9h0M366.3,441.6h0M368.5,444.8h0M370.7,442.3h0M372.9,446.5h0M375.1,446.8h0M377.3,447.3h0M379.5,443.5h0M381.7,447.4h0M383.9,448.9h0M386.1,446.6h0M388.3,447.9h0M390.5,443.2h0M392.7,447.3h0M394.9,443.0h0M397.1,442.2h0M399.3,432.2h0M401.5,428.6h0M403.7,416.5h0M405.9,405.4h0M408.1,388.0h0M410.3,373.8h0M412.5,365.4h0M414.7,350.4h0M416.9,346.0h0M419.1,347.2h0M421.3,349.3h0M423.5,358.1h0M425.7,363.7h0M427.9,362.2h0M430.1,359.1h0M432.3,358.2h0M434.5,348.1h0M436.7,335.9h0M438.9,326.6h0M441.1,319.5h0M443.3,326.5h0M445.5,339.3h0M447.7,360.1h0M449.9,387.5h0M452.1,407.3h0M454.3,431.1h0M456.5,441.2h0M458.7,449.4h0M460.9,458.5h0M463.1,465.3h0M465.3,466.3h0M467.5,465.2h0M469.7,468.9h0M471.9,471.2h0M474.1,468.4h0M476.3,468.1h0M478.5,471.3h0M480.7,469.8h0M482.9,467.6h0M485.1,468.7h0M487.3,467.9h0" stroke="#111" stroke-width="2.90" stroke-linecap="round" fill="none" opacity="1.0"/>
<path d="M458.5,449.2h0M460.1,456.0h0M461.7,459.9h0M463.3,464.3h0M464.9,462.4h0M466.5,467.6h0M468.1,468.4h0M469.7,469.1h0M471.3,469.9h0M472.9,468.3h0M474.5,468.1h0M476.1,470.4h0M477.7,468.5h0M479.3,466.3h0M480.9,471.4h0M482.5,467.9h0M484.1,469.8h0M485.7,466.6h0M487.3,468.4h0M488.9,466.7h0" stroke="#111" stroke-width="3.20" stroke-linecap="round" fill="none" opacity="1.0"/>
<path d="M441.5,314.9h0M419.8,343.4h0M428.7,366.0h0M199.2,379.5h0M221.5,368.5h0M315.5,409.5h0M343.5,416.5h0M430.5,367.0h0" stroke="#111" stroke-width="3.00" stroke-linecap="round" fill="none" opacity="1.0"/>
<path d="M159.0,426.2 159.2,426.2 159.5,426.2 159.8,426.1 160.0,426.1 160.2,426.1 160.5,426.0 160.8,426.0 161.0,425.9 161.2,425.9 161.5,425.8 161.8,425.7 162.0,425.7 162.2,425.6 162.5,425.6 162.8,425.5 163.0,425.4 163.2,425.3 163.5,425.3 163.8,425.2 164.0,425.1 164.2,425.0 164.5,424.9 164.8,424.9 165.0,424.8 165.2,424.7 165.5,424.6 165.8,424.5 166.0,424.4 166.2,424.3 166.5,424.2 166.8,424.1 167.0,423.9 167.2,423.8 167.5,423.7 167.8,423.6 168.0,423.5 168.2,423.3 168.5,423.2 168.8,423.1 169.0,422.9 169.2,422.8 169.5,422.7 169.8,422.5 170.0,422.4 170.2,422.2 170.5,422.1 170.8,421.9 171.0,421.8 171.2,421.7 171.5,421.5 171.8,421.3 172.0,421.2 172.2,421.0 172.5,420.9 172.8,420.7 173.0,420.5 173.2,420.3 173.5,420.1 173.8,419.9 174.0,419.8 174.2,419.5 174.5,419.3 174.8,419.1 175.0,418.9 175.2,418.7 175.5,418.4 175.8,418.2 176.0,417.9 176.2,417.7 176.5,417.4 176.8,417.1 177.0,416.8 177.2,416.5 177.5,416.2 177.8,415.9 178.0,415.7 178.2,415.4 178.5,415.0 178.8,414.7 179.0,414.4 179.2,414.1 179.5,413.8 179.8,413.5 180.0,413.1 180.2,412.8 180.5,412.5 180.8,412.1 181.0,411.8 181.2,411.4 181.5,411.1 181.8,410.7 182.0,410.4 182.2,410.0 182.5,409.6 182.8,409.3 183.0,408.9 183.2,408.5 183.5,408.1 183.8,407.7 184.0,407.3 184.2,406.9 184.5,406.5 184.8,406.1 185.0,405.7 185.2,405.2 185.5,404.8 185.8,404.3 186.0,403.9 186.2,403.4 186.5,402.9 186.8,402.5 187.0,402.0 187.2,401.5 187.5,401.0 187.8,400.5 188.0,400.0 188.2,399.5 188.5,399.0 188.8,398.5 189.0,398.0 189.2,397.5 189.5,397.0 189.8,396.5 190.0,396.0 190.2,395.5 190.5,395.0 190.8,394.6 191.0,394.1 191.2,393.5 191.5,393.0 191.8,392.5 192.0,392.0 192.2,391.4 192.5,390.9 192.8,390.4 193.0,389.9 193.2,389.4 193.5,388.9 193.8,388.4 194.0,387.9 194.2,387.5 194.5,387.1 194.8,386.7 195.0,386.3 195.2,386.0 195.5,385.6 195.8,385.3 196.0,385.0 196.2,384.7 196.5,384.4 196.8,384.1 197.0,383.9 197.2,383.7 197.5,383.5 197.8,383.4 198.0,383.3 198.2,383.2 198.5,383.2 198.8,383.2 199.0,383.2 199.2,383.3 199.5,383.3 199.8,383.4 200.0,383.5 200.2,383.7 200.5,383.8 200.8,384.0 201.0,384.2 201.2,384.3 201.5,384.5 201.8,384.7 202.0,384.9 202.2,385.1 202.5,385.3 202.8,385.5 203.0,385.7 203.2,385.9 203.5,386.1 203.8,386.3 204.0,386.4 204.2,386.6 204.5,386.8 204.8,386.9 205.0,387.1 205.2,387.2 205.5,387.3 205.8,387.5 206.0,387.6 206.2,387.7 206.5,387.8 206.8,387.9 207.0,388.0 207.2,388.1 207.5,388.2 207.8,388.3 208.0,388.4 208.2,388.5 208.5,388.6 208.8,388.7 209.0,388.7 209.2,388.8 209.5,388.8 209.8,388.9 210.0,388.9 210.2,388.9 210.5,388.9 210.8,388.9 211.0,388.8 211.2,388.8 211.5,388.7 211.8,388.6 212.0,388.4 212.2,388.3 212.5,388.1 212.8,387.8 213.0,387.5 213.2,387.2 213.5,386.9 213.8,386.5 214.0,386.1 214.2,385.6 214.5,385.2 214.8,384.6 215.0,384.1 215.2,383.5 215.5,382.8 215.8,382.2 216.0,381.5 216.2,380.8 216.5,380.1 216.8,379.3 217.0,378.6 217.2,377.9 217.5,377.1 217.8,376.4 218.0,375.7 218.2,375.0 218.5,374.4 218.8,373.8 219.0,373.2 219.2,372.7 219.5,372.3 219.8,371.9 220.0,371.6 220.2,371.4 220.5,371.2 220.8,371.1 221.0,371.2 221.2,371.3 221.5,371.5 221.8,371.7 222.0,372.1 222.2,372.4 222.5,372.8 222.8,373.3 223.0,373.8 223.2,374.3 223.5,374.9 223.8,375.6 224.0,376.2 224.2,376.9 224.5,377.7 224.8,378.5 225.0,379.3 225.2,380.1 225.5,381.0 225.8,382.0 226.0,382.9 226.2,383.9 226.5,385.0 226.8,386.0 227.0,387.1 227.2,388.2 227.5,389.3 227.8,390.5 228.0,391.6 228.2,392.7 228.5,393.9 228.8,395.1 229.0,396.2 229.2,397.4 229.5,398.5 229.8,399.7 230.0,400.8 230.2,401.9 230.5,403.0 230.8,404.1 231.0,405.2 231.2,406.2 231.5,407.3 231.8,408.4 232.0,409.4 232.2,410.4 232.5,411.4 232.8,412.4 233.0,413.4 233.2,414.3 233.5,415.2 233.8,416.1 234.0,417.0 234.2,417.8 234.5,418.7 234.8,419.5 235.0,420.2 235.2,421.0 235.5,421.7 235.8,422.4 236.0,423.0 236.2,423.7 236.5,424.3 236.8,424.9 237.0,425.5 237.2,426.1 237.5,426.6 237.8,427.2 238.0,427.7 238.2,428.2 238.5,428.6 238.8,429.1 239.0,429.5 239.2,430.0 239.5,430.4 239.8,430.8 240.0,431.2 240.2,431.5 240.5,431.9 240.8,432.2 241.0,432.5 241.2,432.8 241.5,433.1 241.8,433.4 242.0,433.7 242.2,433.9 242.5,434.2 242.8,434.4 243.0,434.7 243.2,434.9 243.5,435.1 243.8,435.3 244.0,435.5 244.2,435.7 244.5,435.9 244.8,436.0 245.0,436.2 245.2,436.4 245.5,436.5 245.8,436.7 246.0,436.8 246.2,436.9 246.5,437.1 246.8,437.2 247.0,437.3 247.2,437.4 247.5,437.6 247.8,437.7 248.0,437.8 248.2,437.9 248.5,438.0 248.8,438.1 249.0,438.2 249.2,438.2 249.5,438.3 249.8,438.4 250.0,438.4 250.2,438.5 250.5,438.6 250.8,438.6 251.0,438.7 251.2,438.7 251.5,438.8 251.8,438.9 252.0,438.9 252.2,438.9 252.5,439.0 252.8,439.0 253.0,439.1 253.2,439.1 253.5,439.2 253.8,439.2 254.0,439.2 254.2,439.3 254.5,439.3 254.8,439.3 255.0,439.4 255.2,439.4 255.5,439.4 255.8,439.5 256.0,439.5 256.2,439.5 256.5,439.6 256.8,439.6 257.0,439.6 257.2,439.6 257.5,439.7 257.8,439.7 258.0,439.7 258.2,439.7 258.5,439.7 258.8,439.8 259.0,439.8 259.2,439.8 259.5,439.8 259.8,439.8 260.0,439.9 260.2,439.9 260.5,439.9 260.8,439.9 261.0,439.9 261.2,439.9 261.5,439.9 261.8,439.9 262.0,440.0 262.2,440.0 262.5,440.0 262.8,440.0 263.0,440.0 263.2,440.0 263.5,440.0 263.8,440.0 264.0,440.0 264.2,440.0 264.5,440.1 264.8,440.1 265.0,440.1 265.2,440.1 265.5,440.1 265.8,440.1 266.0,440.1 266.2,440.1 266.5,440.1 266.8,440.1 267.0,440.1 267.2,440.1 267.5,440.1 267.8,440.1 268.0,440.1 268.2,440.1 268.5,440.1 268.8,440.1 269.0,440.1 269.2,440.1 269.5,440.1 269.8,440.1 270.0,440.1 270.2,440.1 270.5,440.1 270.8,440.1 271.0,440.1 271.2,440.1 271.5,440.1 271.8,440.1 272.0,440.1 272.2,440.1 272.5,440.1 272.8,440.1 273.0,440.1 273.2,440.1 273.5,440.1 273.8,440.1 274.0,440.0 274.2,440.0 274.5,440.0 274.8,440.0 275.0,440.0 275.2,440.0 275.5,440.0 275.8,440.0 276.0,440.0 276.2,439.9 276.5,439.9 276.8,439.9 277.0,439.9 277.2,439.9 277.5,439.9 277.8,439.8 278.0,439.8 278.2,439.8 278.5,439.8 278.8,439.8 279.0,439.8 279.2,439.7 279.5,439.7 279.8,439.7 280.0,439.7 280.2,439.6 280.5,439.6 280.8,439.6 281.0,439.6 281.2,439.5 281.5,439.5 281.8,439.5 282.0,439.5 282.2,439.4 282.5,439.4 282.8,439.4 283.0,439.4 283.2,439.3 283.5,439.3 283.8,439.3 284.0,439.2 284.2,439.2 284.5,439.2 284.8,439.1 285.0,439.1 285.2,439.0 285.5,439.0 285.8,438.9 286.0,438.9 286.2,438.8 286.5,438.8 286.8,438.7 287.0,438.6 287.2,438.6 287.5,438.5 287.8,438.4 288.0,438.3 288.2,438.2 288.5,438.1 288.8,438.0 289.0,437.9 289.2,437.9 289.5,437.8 289.8,437.7 290.0,437.6 290.2,437.5 290.5,437.4 290.8,437.2 291.0,437.1 291.2,437.0 291.5,436.9 291.8,436.8 292.0,436.7 292.2,436.6 292.5,436.5 292.8,436.4 293.0,436.2 293.2,436.1 293.5,436.0 293.8,435.8 294.0,435.7 294.2,435.5 294.5,435.4 294.8,435.2 295.0,435.0 295.2,434.9 295.5,434.7 295.8,434.5 296.0,434.3 296.2,434.2 296.5,434.0 296.8,433.8 297.0,433.6 297.2,433.4 297.5,433.2 297.8,433.0 298.0,432.8 298.2,432.6 298.5,432.4 298.8,432.2 299.0,432.0 299.2,431.8 299.5,431.6 299.8,431.3 300.0,431.1 300.2,430.8 300.5,430.5 300.8,430.3 301.0,430.0 301.2,429.7 301.5,429.4 301.8,429.1 302.0,428.8 302.2,428.5 302.5,428.1 302.8,427.8 303.0,427.5 303.2,427.1 303.5,426.8 303.8,426.4 304.0,426.0 304.2,425.6 304.5,425.2 304.8,424.9 305.0,424.5 305.2,424.1 305.5,423.7 305.8,423.3 306.0,422.9 306.2,422.5 306.5,422.1 306.8,421.7 307.0,421.3 307.2,420.9 307.5,420.6 307.8,420.2 308.0,419.8 308.2,419.4 308.5,419.0 308.8,418.6 309.0,418.2 309.2,417.9 309.5,417.5 309.8,417.1 310.0,416.7 310.2,416.3 310.5,415.9 310.8,415.5 311.0,415.2 311.2,414.8 311.5,414.5 311.8,414.2 312.0,413.9 312.2,413.6 312.5,413.3 312.8,413.0 313.0,412.8 313.2,412.6 313.5,412.3 313.8,412.1 314.0,412.0 314.2,411.8 314.5,411.6 314.8,411.5 315.0,411.4 315.2,411.3 315.5,411.2 315.8,411.2 316.0,411.1 316.2,411.2 316.5,411.3 316.8,411.4 317.0,411.5 317.2,411.7 317.5,412.0 317.8,412.3 318.0,412.6 318.2,412.9 318.5,413.3 318.8,413.6 319.0,414.0 319.2,414.5 319.5,414.9 319.8,415.4 320.0,415.8 320.2,416.3 320.5,416.7 320.8,417.2 321.0,417.6 321.2,418.1 321.5,418.5 321.8,419.0 322.0,419.4 322.2,419.8 322.5,420.2 322.8,420.6 323.0,421.0 323.2,421.3 323.5,421.7 323.8,422.0 324.0,422.3 324.2,422.6 324.5,422.9 324.8,423.2 325.0,423.4 325.2,423.7 325.5,423.9 325.8,424.1 326.0,424.3 326.2,424.5 326.5,424.7 326.8,424.8 327.0,425.0 327.2,425.1 327.5,425.2 327.8,425.3 328.0,425.3 328.2,425.4 328.5,425.4 328.8,425.5 329.0,425.5 329.2,425.5 329.5,425.5 329.8,425.4 330.0,425.4 330.2,425.3 330.5,425.2 330.8,425.1 331.0,425.0 331.2,424.9 331.5,424.8 331.8,424.7 332.0,424.6 332.2,424.4 332.5,424.3 332.8,424.2 333.0,424.0 333.2,423.9 333.5,423.7 333.8,423.5 334.0,423.4 334.2,423.2 334.5,423.0 334.8,422.8 335.0,422.6 335.2,422.5 335.5,422.3 335.8,422.1 336.0,421.9 336.2,421.7 336.5,421.5 336.8,421.3 337.0,421.1 337.2,421.0 337.5,420.8 337.8,420.6 338.0,420.5 338.2,420.3 338.5,420.1 338.8,420.0 339.0,419.9 339.2,419.7 339.5,419.6 339.8,419.5 340.0,419.4 340.2,419.3 340.5,419.2 340.8,419.2 341.0,419.1 341.2,419.0 341.5,419.0 341.8,419.0 342.0,418.9 342.2,418.9 342.5,418.9 342.8,418.9 343.0,419.0 343.2,419.0 343.5,419.0 343.8,419.1 344.0,419.2 344.2,419.3 344.5,419.3 344.8,419.4 345.0,419.6 345.2,419.7 345.5,419.8 345.8,420.0 346.0,420.1 346.2,420.3 346.5,420.5 346.8,420.7 347.0,420.9 347.2,421.1 347.5,421.4 347.8,421.6 348.0,421.8 348.2,422.1 348.5,422.3 348.8,422.6 349.0,422.9 349.2,423.2 349.5,423.5 349.8,423.8 350.0,424.1 350.2,424.4 350.5,424.7 350.8,425.0 351.0,425.3 351.2,425.6 351.5,425.9 351.8,426.3 352.0,426.6 352.2,426.9 352.5,427.2 352.8,427.6 353.0,427.9 353.2,428.2 353.5,428.6 353.8,428.9 354.0,429.2 354.2,429.5 354.5,429.9 354.8,430.2 355.0,430.5 355.2,430.8 355.5,431.2 355.8,431.5 356.0,431.8 356.2,432.1 356.5,432.4 356.8,432.7 357.0,433.1 357.2,433.4 357.5,433.7 357.8,434.0 358.0,434.3 358.2,434.6 358.5,434.9 358.8,435.2 359.0,435.5 359.2,435.8 359.5,436.0 359.8,436.3 360.0,436.6 360.2,436.9 360.5,437.1 360.8,437.4 361.0,437.7 361.2,437.9 361.5,438.2 361.8,438.4 362.0,438.6 362.2,438.9 362.5,439.1 362.8,439.3 363.0,439.6 363.2,439.8 363.5,440.0 363.8,440.2 364.0,440.4 364.2,440.6 364.5,440.8 364.8,441.0 365.0,441.2 365.2,441.4 365.5,441.5 365.8,441.7 366.0,441.9 366.2,442.1 366.5,442.2 366.8,442.4 367.0,442.5 367.2,442.7 367.5,442.9 367.8,443.0 368.0,443.1 368.2,443.3 368.5,443.4 368.8,443.6 369.0,443.7 369.2,443.8 369.5,444.0 369.8,444.1 370.0,444.2 370.2,444.3 370.5,444.4 370.8,444.5 371.0,444.7 371.2,444.8 371.5,444.9 371.8,445.0 372.0,445.1 372.2,445.2 372.5,445.3 372.8,445.4 373.0,445.5 373.2,445.6 373.5,445.7 373.8,445.8 374.0,445.8 374.2,445.9 374.5,446.0 374.8,446.1 375.0,446.2 375.2,446.2 375.5,446.3 375.8,446.4 376.0,446.5 376.2,446.5 376.5,446.6 376.8,446.6 377.0,446.7 377.2,446.8 377.5,446.8 377.8,446.9 378.0,446.9 378.2,447.0 378.5,447.0 378.8,447.1 379.0,447.1 379.2,447.2 379.5,447.2 379.8,447.3 380.0,447.3 380.2,447.4 380.5,447.4 380.8,447.5 381.0,447.5 381.2,447.5 381.5,447.6 381.8,447.6 382.0,447.6 382.2,447.7 382.5,447.7 382.8,447.7 383.0,447.8 383.2,447.8 383.5,447.8 383.8,447.8 384.0,447.8 384.2,447.9 384.5,447.9 384.8,447.9 385.0,447.9 385.2,447.9 385.5,447.9 385.8,447.9 386.0,447.9 386.2,447.9 386.5,447.9 386.8,447.9 387.0,447.9 387.2,447.9 387.5,447.8 387.8,447.8 388.0,447.8 388.2,447.8 388.5,447.7 388.8,447.7 389.0,447.6 389.2,447.6 389.5,447.5 389.8,447.5 390.0,447.4 390.2,447.3 390.5,447.2 390.8,447.1 391.0,447.1 391.2,446.9 391.5,446.8 391.8,446.7 392.0,446.6 392.2,446.4 392.5,446.3 392.8,446.1 393.0,445.9 393.2,445.7 393.5,445.5 393.8,445.3 394.0,445.1 394.2,444.9 394.5,444.6 394.8,444.3 395.0,444.0 395.2,443.7 395.5,443.4 395.8,443.0 396.0,442.7 396.2,442.3 396.5,441.9 396.8,441.4 397.0,440.9 397.2,440.5 397.5,439.9 397.8,439.4 398.0,438.8 398.2,438.2 398.5,437.6 398.8,436.9 399.0,436.2 399.2,435.4 399.5,434.7 399.8,433.9 400.0,433.1 400.2,432.2 400.5,431.3 400.8,430.4 401.0,429.4 401.2,428.4 401.5,427.4 401.8,426.4 402.0,425.3 402.2,424.1 402.5,423.0 402.8,421.8 403.0,420.6 403.2,419.3 403.5,418.0 403.8,416.7 404.0,415.3 404.2,413.9 404.5,412.5 404.8,411.0 405.0,409.5 405.2,408.0 405.5,406.5 405.8,405.0 406.0,403.4 406.2,401.8 406.5,400.2 406.8,398.5 407.0,396.9 407.2,395.2 407.5,393.6 407.8,391.9 408.0,390.2 408.2,388.5 408.5,386.8 408.8,385.2 409.0,383.5 409.2,381.8 409.5,380.1 409.8,378.4 410.0,376.8 410.2,375.2 410.5,373.5 410.8,371.9 411.0,370.4 411.2,368.8 411.5,367.3 411.8,365.8 412.0,364.4 412.2,363.0 412.5,361.6 412.8,360.3 413.0,359.0 413.2,357.8 413.5,356.6 413.8,355.5 414.0,354.4 414.2,353.4 414.5,352.5 414.8,351.6 415.0,350.8 415.2,350.1 415.5,349.5 415.8,348.9 416.0,348.4 416.2,347.9 416.5,347.6 416.8,347.3 417.0,347.1 417.2,347.0 417.5,346.9 417.8,346.9 418.0,346.9 418.2,347.0 418.5,347.2 418.8,347.3 419.0,347.5 419.2,347.8 419.5,348.1 419.8,348.4 420.0,348.8 420.2,349.2 420.5,349.6 420.8,350.0 421.0,350.5 421.2,351.0 421.5,351.5 421.8,352.0 422.0,352.6 422.2,353.1 422.5,353.7 422.8,354.3 423.0,354.9 423.2,355.5 423.5,356.1 423.8,356.7 424.0,357.2 424.2,357.8 424.5,358.4 424.8,358.9 425.0,359.5 425.2,360.0 425.5,360.4 425.8,360.9 426.0,361.3 426.2,361.7 426.5,362.1 426.8,362.4 427.0,362.7 427.2,362.9 427.5,363.1 427.8,363.3 428.0,363.4 428.2,363.4 428.5,363.4 428.8,363.4 429.0,363.3 429.2,363.1 429.5,362.9 429.8,362.6 430.0,362.2 430.2,361.8 430.5,361.3 430.8,360.8 431.0,360.2 431.2,359.6 431.5,358.9 431.8,358.1 432.0,357.3 432.2,356.4 432.5,355.4 432.8,354.4 433.0,353.4 433.2,352.3 433.5,351.1 433.8,350.0 434.0,348.7 434.2,347.5 434.5,346.2 434.8,344.9 435.0,343.6 435.2,342.2 435.5,340.9 435.8,339.6 436.0,338.2 436.2,336.9 436.5,335.6 436.8,334.2 437.0,333.0 437.2,331.7 437.5,330.5 437.8,329.3 438.0,328.2 438.2,327.1 438.5,326.1 438.8,325.2 439.0,324.3 439.2,323.5 439.5,322.9 439.8,322.3 440.0,321.8 440.2,321.4 440.5,321.1 440.8,321.0 441.0,321.0 441.2,321.1 441.5,321.3 441.8,321.7 442.0,322.2 442.2,322.8 442.5,323.6 442.8,324.4 443.0,325.5 443.2,326.6 443.5,327.8 443.8,329.2 444.0,330.7 444.2,332.3 444.5,334.0 444.8,335.8 445.0,337.6 445.2,339.6 445.5,341.7 445.8,343.8 446.0,346.0 446.2,348.2 446.5,350.6 446.8,353.0 447.0,355.4 447.2,357.9 447.5,360.4" fill="none" stroke="#e01a1a" stroke-width="2.4" stroke-linejoin="round" stroke-linecap="round" opacity="1.0"/>
<path d="M159.0,426.2h0M161.6,425.8h0M164.1,425.1h0M166.5,424.2h0M168.8,423.0h0M171.1,421.7h0M173.3,420.3h0M175.3,418.7h0M177.0,416.8h0M178.7,414.8h0M180.3,412.7h0M181.8,410.6h0M183.3,408.5h0M184.7,406.3h0M185.9,404.0h0M187.2,401.7h0M188.3,399.4h0M189.5,397.0h0M190.7,394.7h0M191.8,392.4h0M192.9,390.0h0M194.1,387.7h0M195.6,385.6h0M197.3,383.7h0M199.8,383.4h0M201.9,384.9h0M204.0,386.4h0M206.3,387.7h0M208.7,388.6h0M211.2,388.8h0M213.3,387.2h0M214.6,385.0h0M215.6,382.6h0M216.5,380.1h0M217.3,377.7h0M218.2,375.2h0M219.2,372.8h0M221.0,371.2h0M222.6,373.1h0M223.7,375.4h0M224.6,377.9h0M225.3,380.4h0M226.0,382.9h0M226.6,385.4h0M227.2,387.9h0M227.8,390.5h0M228.3,393.0h0M228.9,395.6h0M229.4,398.1h0M230.0,400.6h0M230.5,403.2h0M231.1,405.7h0M231.7,408.2h0M232.3,410.8h0M233.0,413.3h0M233.7,415.8h0M234.4,418.3h0M235.2,420.8h0M236.1,423.2h0M237.1,425.6h0M238.2,428.0h0M239.4,430.3h0M240.9,432.4h0M242.6,434.3h0M244.6,436.0h0M246.9,437.3h0M249.3,438.2h0M251.8,438.9h0M254.4,439.3h0M257.0,439.6h0M259.6,439.8h0M262.2,440.0h0M264.8,440.1h0M267.4,440.1h0M270.0,440.1h0M272.6,440.1h0M275.1,440.0h0M277.7,439.8h0M280.3,439.6h0M282.9,439.4h0M285.5,439.0h0M288.0,438.3h0M290.4,437.4h0M292.8,436.3h0M295.0,435.0h0M297.2,433.5h0M299.2,431.9h0M301.0,430.0h0M302.6,428.0h0M304.1,425.8h0M305.5,423.6h0M306.9,421.5h0M308.3,419.3h0M309.7,417.1h0M311.2,414.9h0M312.8,412.9h0M314.9,411.4h0M317.3,411.8h0M318.9,413.9h0M320.2,416.1h0M321.4,418.4h0M322.8,420.6h0M324.3,422.7h0M326.2,424.5h0M328.6,425.5h0M331.1,425.0h0M333.4,423.8h0M335.5,422.3h0M337.6,420.7h0M339.9,419.4h0M342.4,418.9h0M344.9,419.5h0M347.1,421.0h0M348.9,422.8h0M350.6,424.8h0M352.2,426.8h0M353.8,428.9h0M355.4,431.0h0M357.0,433.0h0M358.6,435.0h0M360.3,437.0h0M362.2,438.8h0M364.1,440.5h0M366.2,442.0h0M368.5,443.4h0M370.8,444.6h0M373.2,445.6h0M375.7,446.4h0M378.2,447.0h0M380.7,447.5h0M383.3,447.8h0M385.9,447.9h0M388.5,447.7h0M391.0,447.1h0M393.2,445.7h0M395.1,443.9h0M396.5,441.8h0M397.7,439.5h0M398.7,437.0h0M399.5,434.6h0M400.3,432.1h0M401.0,429.6h0M401.6,427.1h0M402.2,424.5h0M402.7,422.0h0M403.2,419.4h0M403.7,416.9h0M404.2,414.3h0M404.6,411.8h0M405.1,409.2h0M405.5,406.6h0M405.9,404.1h0M406.3,401.5h0M406.7,398.9h0M407.1,396.4h0M407.5,393.8h0M407.9,391.2h0M408.2,388.6h0M408.6,386.1h0M409.0,383.5h0M409.4,380.9h0M409.8,378.4h0M410.2,375.8h0M410.6,373.2h0M411.0,370.6h0M411.4,368.1h0M411.8,365.5h0M412.3,363.0h0M412.7,360.4h0M413.2,357.9h0M413.8,355.3h0M414.4,352.8h0M415.2,350.3h0M416.2,347.9h0M418.4,347.1h0M420.1,349.0h0M421.4,351.3h0M422.5,353.6h0M423.5,356.0h0M424.5,358.4h0M425.7,360.7h0M427.2,362.8h0M429.4,362.9h0M430.8,360.7h0M431.7,358.3h0M432.4,355.8h0M433.0,353.3h0M433.6,350.7h0M434.1,348.2h0M434.6,345.6h0M435.1,343.1h0M435.6,340.5h0M436.0,338.0h0M436.5,335.4h0M437.0,332.8h0M437.5,330.3h0M438.1,327.8h0M438.7,325.2h0M439.5,322.8h0M441.1,321.0h0M442.4,323.2h0M443.1,325.7h0M443.6,328.3h0M444.0,330.8h0M444.4,333.4h0M444.8,336.0h0M445.1,338.6h0M445.4,341.1h0M445.7,343.7h0M446.0,346.3h0M446.3,348.9h0M446.6,351.5h0M446.9,354.1h0M447.1,356.7h0M447.4,359.2h0" stroke="#e01a1a" stroke-width="2.90" stroke-linecap="round" fill="none" opacity="1.0"/>
<path d="M447.0,355.4 447.2,357.9 447.5,360.4 447.8,363.0 448.0,365.6 448.2,368.2 448.5,370.9 448.8,373.6 449.0,376.2 449.2,378.9 449.5,381.6 449.8,384.3 450.0,386.9 450.2,389.6 450.5,392.2 450.8,394.8 451.0,397.4 451.2,400.0 451.5,402.5 451.8,405.0 452.0,407.5 452.2,409.9 452.5,412.3 452.8,414.6 453.0,416.9 453.2,419.1 453.5,421.3 453.8,423.5 454.0,425.6 454.2,427.6 454.5,429.6 454.8,431.5 455.0,433.4 455.2,435.2 455.5,437.0 455.8,438.7 456.0,440.4 456.2,442.0 456.5,443.5 456.8,445.0 457.0,446.5 457.2,447.8 457.5,449.2 457.8,450.5 458.0,451.7 458.2,452.9 458.5,454.0 458.8,455.1 459.0,456.1 459.2,457.1 459.5,458.1 459.8,459.0 460.0,459.9 460.2,460.8 460.5,461.6 460.8,462.4 461.0,463.2 461.2,463.9 461.5,464.6 461.8,465.3 462.0,465.9 462.2,466.5 462.5,467.1 462.8,467.6 463.0,468.1 463.2,468.6 463.5,469.1 463.8,469.5 464.0,470.0 464.2,470.3 464.5,470.7 464.8,471.0 465.0,471.3 465.2,471.6 465.5,471.9 465.8,472.2 466.0,472.4 466.2,472.6 466.5,472.9 466.8,473.1 467.0,473.3 467.2,473.4 467.5,473.6 467.8,473.8 468.0,473.9 468.2,474.1 468.5,474.2 468.8,474.3 469.0,474.5 469.2,474.6 469.5,474.7 469.8,474.8 470.0,474.9 470.2,475.0 470.5,475.1 470.8,475.1 471.0,475.2 471.2,475.3 471.5,475.4 471.8,475.4 472.0,475.5 472.2,475.5 472.5,475.6 472.8,475.7 473.0,475.7 473.2,475.8 473.5,475.8 473.8,475.8 474.0,475.9 474.2,475.9 474.5,476.0 474.8,476.0 475.0,476.0 475.2,476.1 475.5,476.1 475.8,476.1 476.0,476.2 476.2,476.2 476.5,476.2 476.8,476.3 477.0,476.3 477.2,476.3 477.5,476.3 477.8,476.3 478.0,476.3 478.2,476.4 478.5,476.4 478.8,476.4 479.0,476.4 479.2,476.4 479.5,476.4 479.8,476.4 480.0,476.4 480.2,476.4 480.5,476.4 480.8,476.4 481.0,476.4 481.2,476.4 481.5,476.4 481.8,476.4 482.0,476.4 482.2,476.4 482.5,476.4 482.8,476.4 483.0,476.4 483.2,476.4 483.5,476.4 483.8,476.4 484.0,476.4 484.2,476.4 484.5,476.4 484.8,476.3 485.0,476.3 485.2,476.3 485.5,476.3 485.8,476.3 486.0,476.3 486.2,476.2 486.5,476.2 486.8,476.2 487.0,476.2 487.2,476.2 487.5,476.1 487.8,476.1 488.0,476.1 488.2,476.1 488.5,476.1 488.8,476.2 489.0,476.2 489.2,476.2 489.5,476.2" fill="none" stroke="#e01a1a" stroke-width="1.8" stroke-linejoin="round" stroke-linecap="round" opacity="1.0"/>
<path d="M159.5,424.7h0M163.9,419.4h0M166.1,422.0h0M174.9,417.2h0M179.3,414.3h0M181.5,410.6h0M223.3,374.5h0M229.9,402.0h0M236.5,425.4h0M249.7,442.1h0M258.5,443.4h0M271.7,443.5h0M273.9,443.3h0M278.3,443.0h0M287.1,439.3h0M304.7,424.0h0M311.3,415.9h0M317.9,413.7h0M328.9,427.5h0M357.5,435.4h0M366.3,442.7h0M372.9,446.9h0M375.1,446.5h0M381.7,447.9h0M386.1,448.1h0M399.3,438.3h0M416.9,345.4h0M419.1,347.2h0M430.1,360.9h0M436.7,333.2h0M438.9,322.5h0M454.3,425.1h0M458.7,450.3h0M460.9,462.8h0M465.3,467.9h0M487.3,473.6h0" stroke="#111" stroke-width="2.40" stroke-linecap="round" fill="none" opacity="0.9"/>
<rect x="158.5" y="293.0" width="331.7" height="203.7" fill="none" stroke="#2e2e2e" stroke-width="1.5"/>
<path d="M164.03,496.7 v-2.20 M164.03,293.0 v2.20 M191.67,496.7 v-4.00 M191.67,293.0 v4.00 M219.31,496.7 v-2.20 M219.31,293.0 v2.20 M246.96,496.7 v-4.00 M246.96,293.0 v4.00 M274.60,496.7 v-2.20 M274.60,293.0 v2.20 M302.24,496.7 v-4.00 M302.24,293.0 v4.00 M329.88,496.7 v-2.20 M329.88,293.0 v2.20 M357.53,496.7 v-4.00 M357.53,293.0 v4.00 M385.17,496.7 v-2.20 M385.17,293.0 v2.20 M412.81,496.7 v-4.00 M412.81,293.0 v4.00 M440.45,496.7 v-2.20 M440.45,293.0 v2.20 M468.10,496.7 v-4.00 M468.10,293.0 v4.00 M158.5,309.98 h4.00 M490.2,309.98 h-4.00 M158.5,326.95 h2.20 M490.2,326.95 h-2.20 M158.5,343.93 h4.00 M490.2,343.93 h-4.00 M158.5,360.90 h2.20 M490.2,360.90 h-2.20 M158.5,377.88 h4.00 M490.2,377.88 h-4.00 M158.5,394.85 h2.20 M490.2,394.85 h-2.20 M158.5,411.82 h4.00 M490.2,411.82 h-4.00 M158.5,428.80 h2.20 M490.2,428.80 h-2.20 M158.5,445.77 h4.00 M490.2,445.77 h-4.00 M158.5,462.75 h2.20 M490.2,462.75 h-2.20 M158.5,479.73 h4.00 M490.2,479.73 h-4.00" stroke="#2e2e2e" stroke-width="1.2" fill="none"/>
<text x="0" y="0" transform="translate(191.7 506.8) scale(1.25 1)" font-family="Liberation Sans, sans-serif" font-size="7.6" font-weight="normal" text-anchor="middle" fill="#3a3a3a">955</text>
<text x="0" y="0" transform="translate(247.0 506.8) scale(1.25 1)" font-family="Liberation Sans, sans-serif" font-size="7.6" font-weight="normal" text-anchor="middle" fill="#3a3a3a">950</text>
<text x="0" y="0" transform="translate(302.2 506.8) scale(1.25 1)" font-family="Liberation Sans, sans-serif" font-size="7.6" font-weight="normal" text-anchor="middle" fill="#3a3a3a">945</text>
<text x="0" y="0" transform="translate(357.5 506.8) scale(1.25 1)" font-family="Liberation Sans, sans-serif" font-size="7.6" font-weight="normal" text-anchor="middle" fill="#3a3a3a">940</text>
<text x="0" y="0" transform="translate(412.8 506.8) scale(1.25 1)" font-family="Liberation Sans, sans-serif" font-size="7.6" font-weight="normal" text-anchor="middle" fill="#3a3a3a">935</text>
<text x="0" y="0" transform="translate(468.1 506.8) scale(1.25 1)" font-family="Liberation Sans, sans-serif" font-size="7.6" font-weight="normal" text-anchor="middle" fill="#3a3a3a">930</text>
<text x="0" y="0" transform="translate(128.4 294.9) scale(1.36 1)" font-family="Liberation Serif, sans-serif" font-size="10.0" font-weight="normal" text-anchor="start" fill="#1e1e1e" stroke="#1e1e1e" stroke-width="0.25">(c)</text>
<text x="0" y="0" transform="translate(170.0 310.7) scale(1.15 1)" font-family="Liberation Sans, sans-serif" font-size="10.3" font-weight="normal" text-anchor="start" fill="#1e1e1e">Cu2p</text>
<text x="0" y="0" transform="translate(211.0 345.6) scale(1.17 1)" font-family="Liberation Sans, sans-serif" font-size="10.0" font-weight="normal" text-anchor="start" fill="#1e1e1e">Cu2p<tspan dx="1.2" dy="3.5" font-size="8.1">1/2</tspan></text>
<text x="0" y="0" transform="translate(309.6 377.9) scale(1.14 1)" font-family="Liberation Sans, sans-serif" font-size="10.7" font-weight="normal" text-anchor="start" fill="#1e1e1e">Satellites</text>
<text x="0" y="0" transform="translate(393.3 313.8) scale(1.13 1)" font-family="Liberation Sans, sans-serif" font-size="10.4" font-weight="normal" text-anchor="start" fill="#1e1e1e">CuO</text>
<text x="0" y="0" transform="translate(382.0 330.3) scale(1.1 1)" font-family="Liberation Sans, sans-serif" font-size="10.4" font-weight="normal" text-anchor="start" fill="#1e1e1e">Cu2p<tspan dx="-0.6" dy="3.5" font-size="8.4" letter-spacing="1.6">3/2</tspan></text>
<text x="0" y="0" transform="translate(452.7 305.6) scale(1.1 1)" font-family="Liberation Sans, sans-serif" font-size="10.3" font-weight="normal" text-anchor="start" fill="#1e1e1e">Cu<tspan dx="0.9" dy="4.0" font-size="5.0">2</tspan><tspan dx="1.1" dy="-4.0">O</tspan></text>
<path d="M220.20,369.20 L224.18,354.62" stroke="#111" stroke-width="0.75" fill="none"/>
<path d="M225.50,349.80 L225.63,355.02 L222.74,354.23 Z" fill="#111"/>
<path d="M329.00,412.30 L321.34,388.56" stroke="#111" stroke-width="0.75" fill="none"/>
<path d="M319.80,383.80 L322.76,388.10 L319.91,389.02 Z" fill="#111"/>
<path d="M419.80,348.10 L410.70,337.75" stroke="#111" stroke-width="0.75" fill="none"/>
<path d="M407.40,334.00 L411.83,336.76 L409.58,338.75 Z" fill="#111"/>
<path d="M441.60,316.80 L450.08,310.10" stroke="#111" stroke-width="0.75" fill="none"/>
<path d="M454.00,307.00 L451.01,311.28 L449.15,308.92 Z" fill="#111"/>
<text x="0" y="0" transform="translate(135.6 396.5) rotate(-90) scale(0.9 1)" font-family="Liberation Sans, sans-serif" font-size="9.6" font-weight="bold" text-anchor="middle" fill="#1e1e1e" stroke="#1e1e1e" stroke-width="0.45">Intensity (arb. units)</text>
<text x="0" y="0" transform="translate(323.8 522.0) scale(1.2 1)" font-family="Liberation Sans, sans-serif" font-size="9.6" font-weight="bold" text-anchor="middle" fill="#1e1e1e">Binding energy (ev)</text>
</svg></body></html>
